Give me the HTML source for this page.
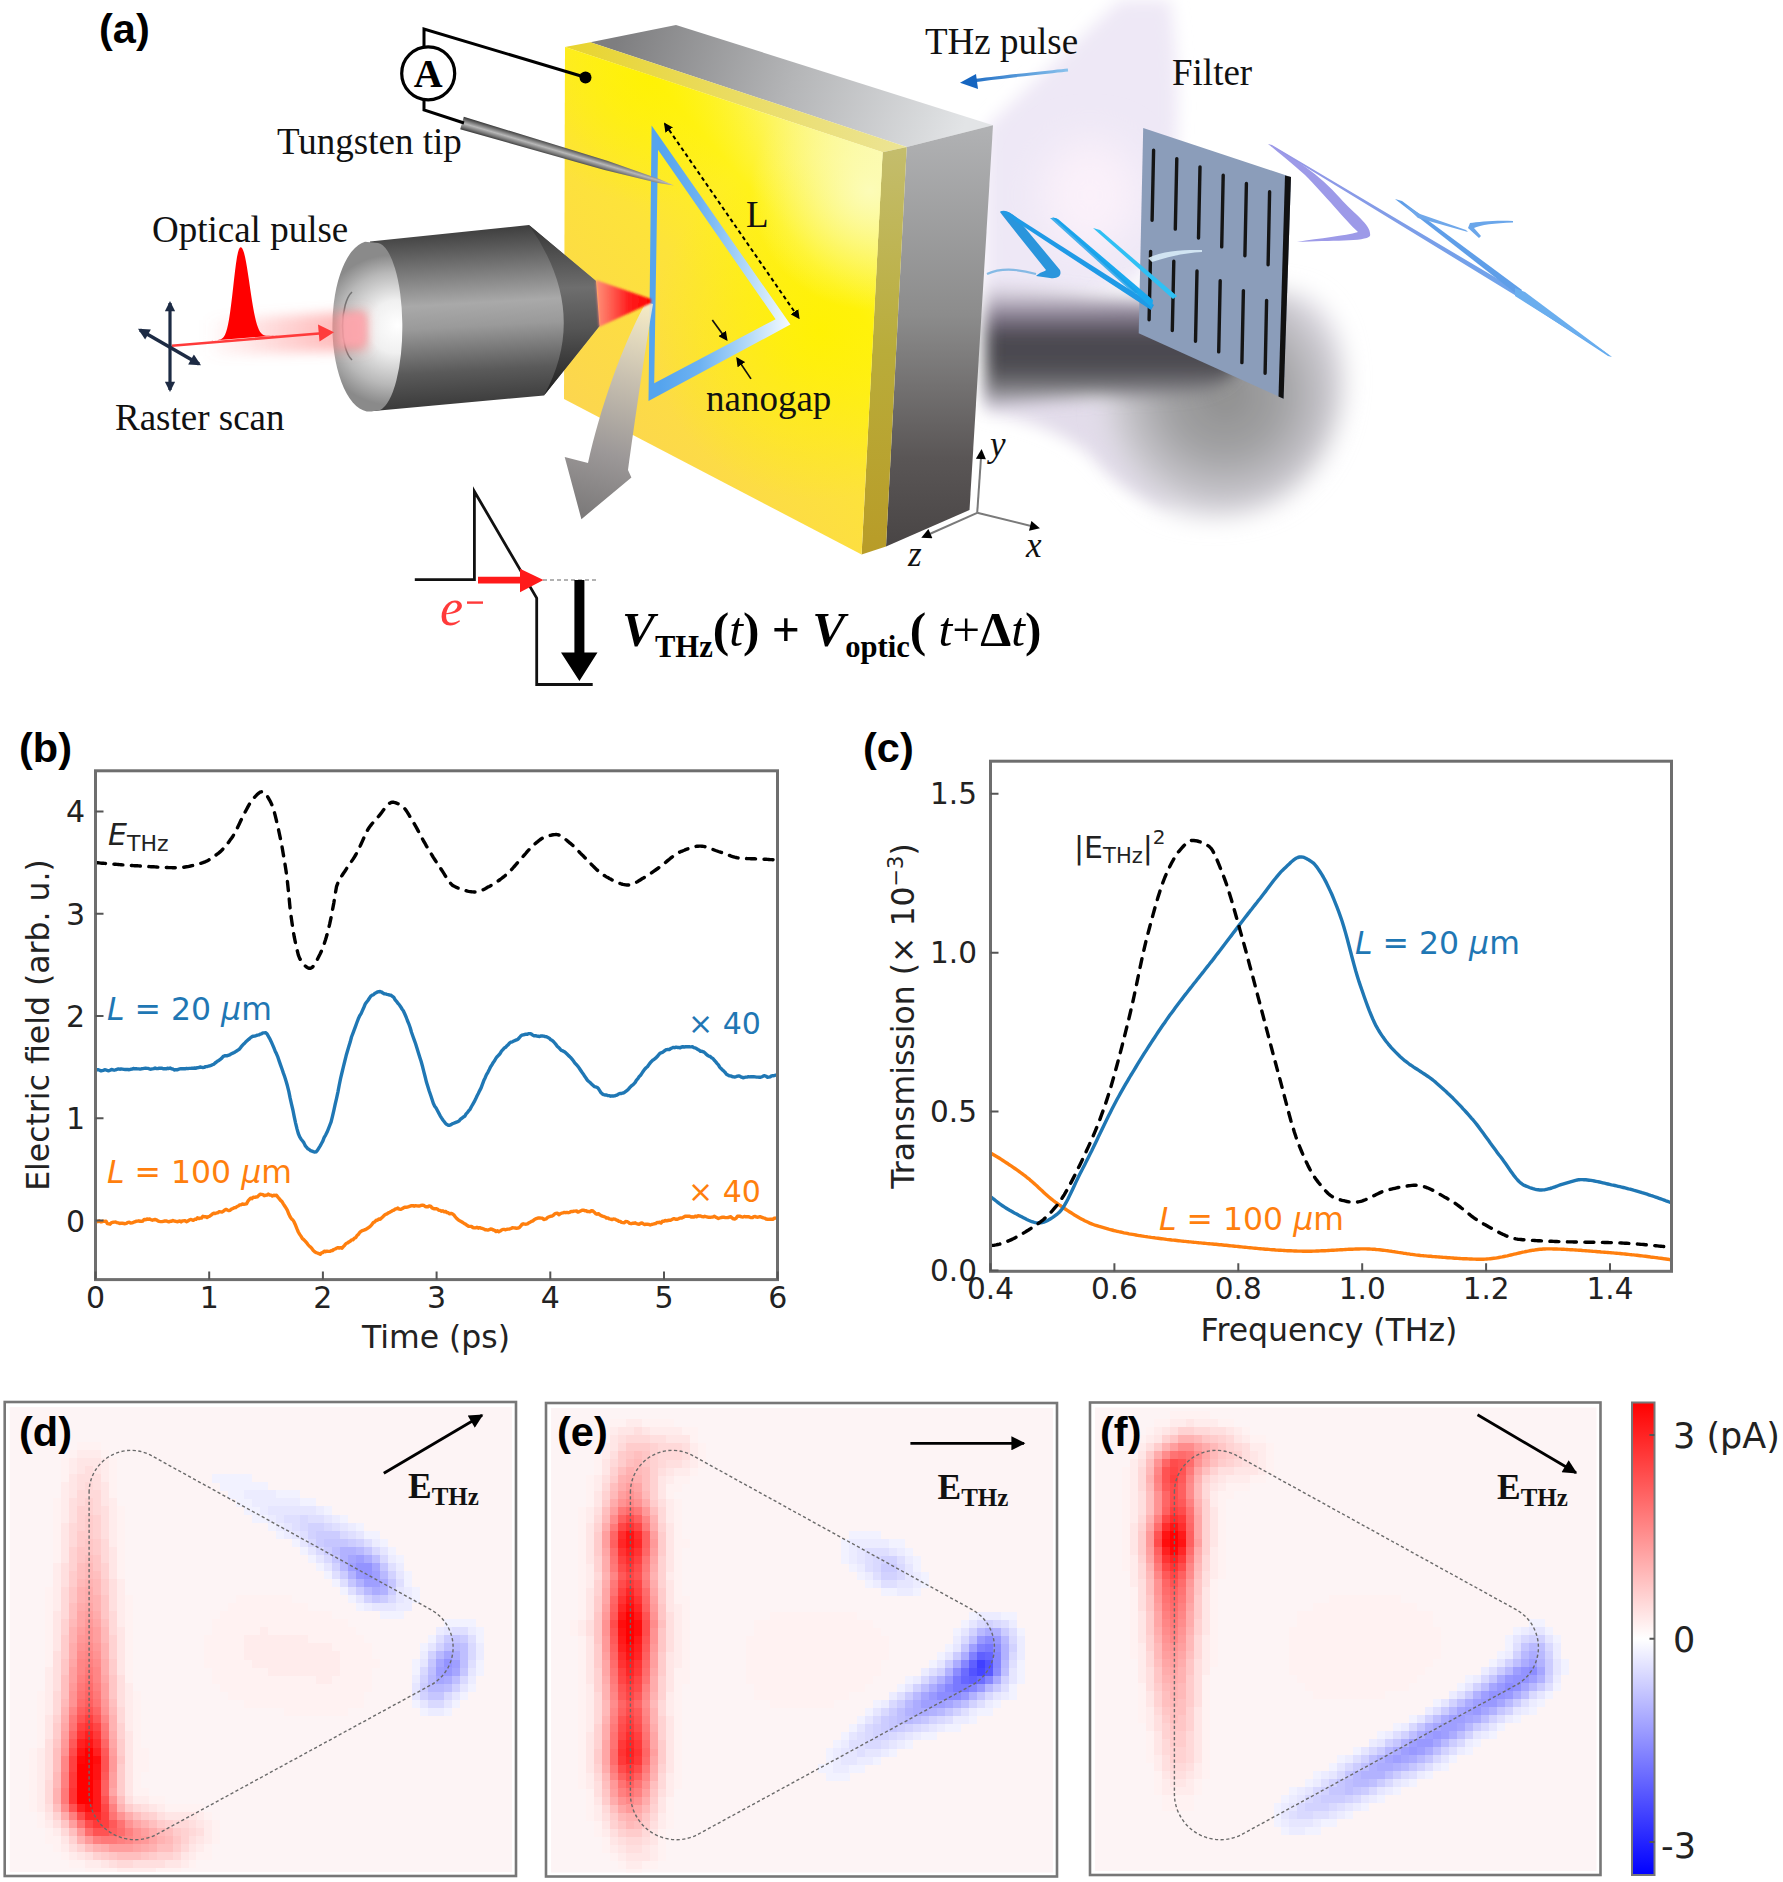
<!DOCTYPE html>
<html><head><meta charset="utf-8"><title>THz nanogap figure</title>
<style>html,body{margin:0;padding:0;background:#fff;} body{width:1783px;height:1882px;overflow:hidden;} svg{display:block;}</style>
</head><body>
<svg width="1783" height="1882" viewBox="0 0 1783 1882">
<rect width="1783" height="1882" fill="#fff"/>

<defs>
<filter id="blur3" x="-30%" y="-30%" width="160%" height="160%"><feGaussianBlur stdDeviation="3"/></filter>
<filter id="blur6" x="-30%" y="-30%" width="160%" height="160%"><feGaussianBlur stdDeviation="6"/></filter>
<filter id="blur8" x="-30%" y="-30%" width="160%" height="160%"><feGaussianBlur stdDeviation="8"/></filter>
<filter id="blur12" x="-50%" y="-50%" width="200%" height="200%"><feGaussianBlur stdDeviation="12"/></filter>
<filter id="blur20" x="-50%" y="-50%" width="200%" height="200%"><feGaussianBlur stdDeviation="20"/></filter>
<filter id="blur30" x="-60%" y="-60%" width="220%" height="220%"><feGaussianBlur stdDeviation="30"/></filter>
<filter id="blur1" x="-10%" y="-10%" width="120%" height="120%"><feGaussianBlur stdDeviation="1"/></filter>
<linearGradient id="gFront" gradientUnits="userSpaceOnUse" x1="570" y1="420" x2="880" y2="150">
  <stop offset="0" stop-color="#fcd550"/><stop offset="0.45" stop-color="#fde33a"/><stop offset="0.7" stop-color="#fff21c"/><stop offset="1" stop-color="#fbf8a0"/>
</linearGradient>
<radialGradient id="gFrontHi" gradientUnits="userSpaceOnUse" cx="820" cy="330" r="170">
  <stop offset="0" stop-color="#fff200" stop-opacity="0.9"/><stop offset="1" stop-color="#fff200" stop-opacity="0"/>
</radialGradient>
<radialGradient id="gFrontHi3" gradientUnits="userSpaceOnUse" cx="650" cy="75" r="130">
  <stop offset="0" stop-color="#fff200" stop-opacity="0.85"/><stop offset="1" stop-color="#fff200" stop-opacity="0"/>
</radialGradient>
<radialGradient id="gFrontHi2" gradientUnits="userSpaceOnUse" cx="870" cy="190" r="120">
  <stop offset="0" stop-color="#fcfcb8" stop-opacity="1"/><stop offset="1" stop-color="#fcfcb8" stop-opacity="0"/>
</radialGradient>
<linearGradient id="gTopY" gradientUnits="userSpaceOnUse" x1="570" y1="45" x2="900" y2="150">
  <stop offset="0" stop-color="#e8d430"/><stop offset="1" stop-color="#ece494"/>
</linearGradient>
<linearGradient id="gSideY" gradientUnits="userSpaceOnUse" x1="0" y1="150" x2="0" y2="550">
  <stop offset="0" stop-color="#c4bd6c"/><stop offset="0.5" stop-color="#b9ac3a"/><stop offset="1" stop-color="#b89c28"/>
</linearGradient>
<linearGradient id="gTopG" gradientUnits="userSpaceOnUse" x1="620" y1="30" x2="960" y2="140">
  <stop offset="0" stop-color="#7e7e80"/><stop offset="0.5" stop-color="#b4b5b7"/><stop offset="1" stop-color="#e2e4e6"/>
</linearGradient>
<linearGradient id="gSideG" gradientUnits="userSpaceOnUse" x1="0" y1="130" x2="0" y2="540">
  <stop offset="0" stop-color="#b0b1b3"/><stop offset="0.45" stop-color="#8c8c8c"/><stop offset="0.8" stop-color="#5a5656"/><stop offset="1" stop-color="#4a4646"/>
</linearGradient>
<linearGradient id="gBody" gradientUnits="userSpaceOnUse" x1="480" y1="228" x2="490" y2="405">
  <stop offset="0" stop-color="#3e3e3e"/><stop offset="0.12" stop-color="#5c5c5c"/><stop offset="0.42" stop-color="#a9a9a9"/><stop offset="0.55" stop-color="#9a9a9a"/><stop offset="0.8" stop-color="#5a5a5a"/><stop offset="1" stop-color="#3a3a3a"/>
</linearGradient>
<linearGradient id="gCone" gradientUnits="userSpaceOnUse" x1="570" y1="230" x2="575" y2="395">
  <stop offset="0" stop-color="#3a3a3a"/><stop offset="0.35" stop-color="#6e6e6e"/><stop offset="0.6" stop-color="#555"/><stop offset="1" stop-color="#1e1e1e"/>
</linearGradient>
<radialGradient id="gCap" gradientUnits="userSpaceOnUse" cx="392" cy="330" r="75" fx="398" fy="325">
  <stop offset="0" stop-color="#ffffff"/><stop offset="0.35" stop-color="#f0f0f0"/><stop offset="0.75" stop-color="#b8b8b8"/><stop offset="1" stop-color="#8a8a8a"/>
</radialGradient>
<linearGradient id="gRedCone" gradientUnits="userSpaceOnUse" x1="598" y1="0" x2="652" y2="0">
  <stop offset="0" stop-color="#ff7a7a" stop-opacity="0.85"/><stop offset="0.55" stop-color="#ff2020" stop-opacity="1"/><stop offset="1" stop-color="#ff0000" stop-opacity="1"/>
</linearGradient>
<linearGradient id="gPink" gradientUnits="userSpaceOnUse" x1="205" y1="0" x2="370" y2="0">
  <stop offset="0" stop-color="#ff8080" stop-opacity="0"/><stop offset="0.5" stop-color="#ff8080" stop-opacity="0.35"/><stop offset="1" stop-color="#ff7070" stop-opacity="0.6"/>
</linearGradient>
<linearGradient id="gGrayArrow" gradientUnits="userSpaceOnUse" x1="648" y1="305" x2="585" y2="515">
  <stop offset="0" stop-color="#f4ecd4" stop-opacity="0.9"/><stop offset="0.35" stop-color="#c8c0b0"/><stop offset="0.7" stop-color="#9c9898"/><stop offset="1" stop-color="#7c7a7a"/>
</linearGradient>
<linearGradient id="gTri" gradientUnits="userSpaceOnUse" x1="660" y1="0" x2="792" y2="0">
  <stop offset="0" stop-color="#55a4ee"/><stop offset="0.3" stop-color="#6db2f2"/><stop offset="0.65" stop-color="#b0d8f8"/><stop offset="1" stop-color="#f8fcff"/>
</linearGradient>
<linearGradient id="gNeedle" gradientUnits="userSpaceOnUse" x1="0" y1="-7" x2="0" y2="7">
  <stop offset="0" stop-color="#262626"/><stop offset="0.22" stop-color="#6a6a6a"/><stop offset="0.5" stop-color="#b8b8b8"/><stop offset="0.78" stop-color="#707070"/><stop offset="1" stop-color="#2a2a2a"/>
</linearGradient>
<linearGradient id="gSmoke" gradientUnits="userSpaceOnUse" x1="0" y1="286" x2="0" y2="406">
  <stop offset="0" stop-color="#c0b4cc" stop-opacity="0.4"/><stop offset="0.25" stop-color="#857c8e"/><stop offset="0.42" stop-color="#4a4750"/><stop offset="0.68" stop-color="#4d4c51"/><stop offset="0.85" stop-color="#7a797e"/><stop offset="1" stop-color="#b0aeb6" stop-opacity="0.6"/>
</linearGradient>
<linearGradient id="gLobe" gradientUnits="userSpaceOnUse" x1="0" y1="300" x2="0" y2="515">
  <stop offset="0" stop-color="#98969c"/><stop offset="0.35" stop-color="#a6a4a9"/><stop offset="0.65" stop-color="#bcbac0"/><stop offset="1" stop-color="#e4e0ea"/>
</linearGradient>
<radialGradient id="gSmokeR" gradientUnits="userSpaceOnUse" cx="1225" cy="395" r="130">
  <stop offset="0" stop-color="#8e8e8e"/><stop offset="0.45" stop-color="#a2a2a4"/><stop offset="0.8" stop-color="#c8c6cc"/><stop offset="1" stop-color="#e6e3ec"/>
</radialGradient>
<linearGradient id="gTHzArrow" gradientUnits="userSpaceOnUse" x1="1070" y1="0" x2="960" y2="0">
  <stop offset="0" stop-color="#8cc4ee"/><stop offset="1" stop-color="#1565c0"/>
</linearGradient>
<linearGradient id="gWaveR" gradientUnits="userSpaceOnUse" x1="1270" y1="0" x2="1610" y2="0">
  <stop offset="0" stop-color="#9a96e6"/><stop offset="0.45" stop-color="#7a9ee8"/><stop offset="1" stop-color="#62aaee"/>
</linearGradient>
<marker id="mk" viewBox="0 0 10 10" refX="8" refY="5" markerWidth="4.6" markerHeight="4.6" orient="auto-start-reverse"><path d="M0,0 L10,5 L0,10 z" fill="#000"/></marker>
<marker id="mkng" viewBox="0 0 10 10" refX="8" refY="5" markerWidth="5.5" markerHeight="5.5" orient="auto"><path d="M0,0 L10,5 L0,10 z" fill="#000"/></marker>
<marker id="mkax" viewBox="0 0 10 10" refX="7" refY="5" markerWidth="5.5" markerHeight="5" orient="auto"><path d="M0,0 L10,5 L0,10 z" fill="#000"/></marker>
<marker id="mkn" viewBox="0 0 10 10" refX="8" refY="5" markerWidth="3.4" markerHeight="3.2" orient="auto-start-reverse"><path d="M0,0 L10,5 L0,10 z" fill="#1d2b44"/></marker>
</defs>
<g id="smoke">
<path d="M985,128 L1055,62 L1120,0 L1170,0 C1180,60 1180,150 1170,210 C1160,260 1140,285 1100,292 L985,292 Z" fill="#eee8f6" filter="url(#blur8)"/>
<ellipse cx="1090" cy="195" rx="48" ry="55" fill="#fbf1fa" filter="url(#blur20)"/>
<path d="M985,380 C1030,385 1080,395 1120,400 C1150,430 1160,470 1175,505 C1140,500 1110,480 1090,455 C1060,430 1020,418 985,412 Z" fill="#e2dcea" filter="url(#blur8)"/>
<path d="M1110,300 C1180,285 1260,285 1300,295 C1330,305 1345,340 1344,385 C1342,430 1320,475 1280,500 C1245,520 1200,522 1165,508 C1135,490 1115,460 1105,420 Z" fill="url(#gSmokeR)" filter="url(#blur12)"/>
<path d="M985,286 C1040,288 1100,295 1150,306 C1200,318 1235,336 1238,358 C1240,380 1210,392 1170,394 C1120,396 1070,398 1030,402 C1010,404 995,406 985,406 Z" fill="url(#gSmoke)" filter="url(#blur8)"/>
</g>
<g id="filter">
<path d="M1143.2,128.0 L1291.0,177.0 L1283.6,398.7 L1138.7,333.2 Z" fill="#8b9dba"/>
<path d="M1285.0,175.5 L1291.0,177.0 L1283.6,398.7 L1278.5,396.5 Z" fill="#111"/>
<path d="M1153.6,150.3 L1152.1,220.2 M1150.6,251.4 L1149.1,319.8 M1176.8,158.6 L1175.3,229.1 M1173.8,261.2 L1172.3,330.5 M1200.0,166.9 L1198.5,238.0 M1197.0,271.0 L1195.5,341.2 M1223.2,175.2 L1221.7,246.9 M1220.2,280.8 L1218.7,351.9 M1246.4,183.5 L1244.9,255.8 M1243.4,290.6 L1241.9,362.6 M1269.6,191.8 L1268.1,264.7 M1266.6,300.4 L1265.1,373.3" stroke="#151515" stroke-width="3.4" stroke-linecap="round"/>
</g>
<g id="waveL">
<path d="M987,274 C1000,268 1015,268 1036,274" fill="none" stroke="#6aaee0" stroke-width="2.2" opacity="0.8"/>
<path d="M1000,212 C1004,209 1010,212 1016,217 L1060,270 C1062,276 1058,279 1050,278 L1036,276 C1040,272 1044,272 1046,270 L1022,240 L1003,216 Z" fill="#2a95dc"/>
<path d="M1000,211 L1008,212 L1154,305 L1151,310 L1060,250.5 Z" fill="#1f9ae6"/>
<path d="M1052,217 L1058,219 L1153,300 L1152,308 Z" fill="#1aa8ee"/>
<path d="M1050,218 L1056,218 L1138,292 L1134,294 Z" fill="#1aa0e8" opacity="0.8"/>
<path d="M1093,228 L1100,230 L1177,296 L1173,299 Z" fill="#30c0f4"/>
<path d="M1148,258 C1165,250 1185,250 1202,250 L1202,252 C1185,253 1170,256 1152,262 Z" fill="#d8ecf8" opacity="0.9"/>
</g>
<g id="waveR">
<path d="M1268,144 C1290,155 1320,175 1340,198 C1355,215 1372,225 1370,236 C1365,242 1330,240 1297,242 C1320,238 1345,236 1358,232 C1345,220 1325,195 1305,175 C1290,162 1278,152 1268,144 Z" fill="#9d9ae8"/>
<path d="M1268,144 L1272,145 L1520,292 L1612,357 L1608,356 L1518,297 Z" fill="url(#gWaveR)"/>
<path d="M1395,199 L1402,201 L1522,290 L1519,296 Z" fill="#5f9ee8"/>
<path d="M1405,205 L1420,214 L1466,230 L1468,232 L1418,218 Z" fill="#70a8ea"/>
<path d="M1470,223 C1478,222 1495,220 1513,221 L1513,222.5 C1495,223 1480,225 1474,228 L1481,236 L1479,238 L1468,228 Z" fill="#6aa6ea"/>
<path d="M1515,288 L1525,292 L1612,357 L1515,296 Z" fill="#6aaeee"/>
</g>
<g id="block">
<path d="M590.4,42.2 L676.0,25.0 L993.0,125.2 L906.7,147.1 Z" fill="url(#gTopG)"/>
<path d="M906.7,147.1 L993.0,125.2 L969.5,510.0 L886.0,546.5 Z" fill="url(#gSideG)"/>
<path d="M565.0,47.0 L590.4,42.2 L906.7,147.1 L882.6,152.2 Z" fill="url(#gTopY)"/>
<path d="M882.6,152.2 L906.7,147.1 L886.0,546.5 L861.6,554.5 Z" fill="url(#gSideY)"/>
<path d="M565.0,47.0 L882.6,152.2 L861.6,554.5 L564.0,399.0 Z" fill="url(#gFront)"/>
<path d="M565.0,47.0 L882.6,152.2 L861.6,554.5 L564.0,399.0 Z" fill="url(#gFrontHi)"/>
<path d="M565.0,47.0 L882.6,152.2 L861.6,554.5 L564.0,399.0 Z" fill="url(#gFrontHi3)"/>
<path d="M565.0,47.0 L882.6,152.2 L861.6,554.5 L564.0,399.0 Z" fill="url(#gFrontHi2)"/>
</g>
<path d="M651.6,125.5 L790.4,324.6 L648.5,401.1 Z M654.2,383.2 L775.6,319.2 L658.0,149.8 Z" fill="url(#gTri)" fill-rule="evenodd"/>
<line x1="665" y1="124" x2="798.6" y2="317.7" stroke="#000" stroke-width="2" stroke-dasharray="4,3.2" marker-start="url(#mk)" marker-end="url(#mk)"/>
<line x1="712.3" y1="320.1" x2="726.5" y2="339.5" stroke="#111" stroke-width="1.7" marker-end="url(#mkng)"/>
<line x1="751" y1="378.9" x2="737.3" y2="358.5" stroke="#111" stroke-width="1.7" marker-end="url(#mkng)"/>
<path d="M646,302 L653,304 C645,350 635,420 628,470 L631.4,477.4 L581.4,519.2 L564.7,457 L588,463 C600,410 620,350 646,302 Z" fill="url(#gGrayArrow)"/>
<g id="lens">
<path d="M370,241.5 L529,225 L596,281 L599.5,326 L544,395.5 L374,411 Z" fill="url(#gBody)"/>
<path d="M529,225 L596,281 L599.5,326 L544,395.5 Q590,312 529,225 Z" fill="url(#gCone)"/>
<path d="M378,243 A26,84 0 0,1 380,410 L374,411 A37,85 0 0,1 365,241.7 Z" fill="url(#gCap)"/>
<path d="M352,292 A14,36 0 0,0 352,360" fill="none" stroke="#555" stroke-width="1.6" opacity="0.7"/>
</g>
<path d="M596,280 L651,299 L651,303 L599,327 Z" fill="url(#gRedCone)" filter="url(#blur1)"/>
<g transform="translate(462,123) rotate(16.3)">
<path d="M0,-6.5 L150,-4.5 L205,-1.5 L221,0.5 L205,2.5 L150,5 L0,6.5 Z" fill="url(#gNeedle)"/>
</g>
<path d="M424,46 V29 L586,77.5 M424,101 V110 L464,123" fill="none" stroke="#000" stroke-width="3"/>
<circle cx="585.5" cy="77.5" r="6" fill="#000"/>
<circle cx="428.2" cy="73.4" r="26.5" fill="#fff" stroke="#000" stroke-width="3.2"/>
<text x="428.2" y="87" text-anchor="middle" font-family="'Liberation Serif', serif" font-weight="bold" font-size="40">A</text>
<path d="M205,320 L367,311 L367,350 L205,356 Z" fill="url(#gPink)" filter="url(#blur6)"/>
<path d="M340,314 L362,313 C367,313 367,345 362,345 L340,346 Z" fill="#ffa8b0" opacity="0.8" filter="url(#blur3)"/>
<path d="M210.0,340.8 L211.0,340.7 L212.0,340.6 L213.0,340.5 L214.0,340.5 L215.0,340.4 L216.0,340.3 L217.0,340.2 L218.0,340.0 L219.0,339.8 L220.0,339.6 L221.0,339.2 L222.0,338.6 L223.0,337.8 L224.0,336.5 L225.0,334.7 L226.0,332.3 L227.0,329.0 L228.0,324.7 L229.0,319.4 L230.0,313.0 L231.0,305.6 L232.0,297.4 L233.0,288.7 L234.0,279.8 L235.0,271.3 L236.0,263.6 L237.0,257.1 L238.0,252.2 L239.0,248.9 L240.0,247.4 L241.0,247.3 L242.0,248.1 L243.0,249.9 L244.0,252.8 L245.0,256.8 L246.0,261.8 L247.0,267.5 L248.0,273.9 L249.0,280.6 L250.0,287.4 L251.0,294.2 L252.0,300.7 L253.0,306.8 L254.0,312.2 L255.0,317.1 L256.0,321.3 L257.0,324.8 L258.0,327.6 L259.0,329.9 L260.0,331.7 L261.0,333.0 L262.0,334.0 L263.0,334.7 L264.0,335.2 L265.0,335.5 L266.0,335.7 L267.0,335.8 L268.0,335.8 L269.0,335.8 L270.0,335.8 L271.0,335.7 L272.0,335.6 L273.0,335.6 L274.0,335.5 L275.0,335.4 L276.0,335.3 L277.0,335.2 L278.0,335.2 L278.0,335.2 L210.0,340.8 Z" fill="#ff0000"/>
<line x1="171.8" y1="345.8" x2="322" y2="333.2" stroke="#ff3b3b" stroke-width="2.6"/>
<path d="M334,332.3 L318,324.5 L319.5,341.5 Z" fill="#ff3b3b"/>
<line x1="170" y1="303" x2="170" y2="390" stroke="#1d2b44" stroke-width="3.2" marker-start="url(#mkn)" marker-end="url(#mkn)"/>
<line x1="140" y1="330" x2="199" y2="364" stroke="#1d2b44" stroke-width="3.6" marker-start="url(#mkn)" marker-end="url(#mkn)"/>
<path d="M414.8,579.6 H474.4 V491.5 L536.7,598.1 V684.5 H592.7" fill="none" stroke="#111" stroke-width="2.8"/>
<line x1="543" y1="580" x2="597" y2="580" stroke="#999" stroke-width="1.6" stroke-dasharray="4,3"/>
<path d="M478,576.8 H524 V583.4 H478 Z M520,568.8 L543.5,580 L520,592.2 Z" fill="#ff1a1a"/>
<path d="M574.4,580 H584.4 V654 H574.4 Z M561,652.5 L597.5,652.5 L579.4,681 Z" fill="#000"/>
<text x="440" y="625" font-family="'Liberation Serif', serif" font-style="italic" font-size="52" fill="#ff3a3a">e</text>
<path d="M467,602.6 H483" stroke="#ff3a3a" stroke-width="2.4"/>
<text x="622" y="646" font-family="'Liberation Serif', serif" font-weight="bold" font-size="49.4" fill="#000"><tspan font-style="italic">V</tspan><tspan font-size="30.6" dy="11">THz</tspan><tspan dy="-11">(</tspan><tspan font-style="italic" font-weight="normal">t</tspan>) + <tspan font-style="italic">V</tspan><tspan font-size="30.6" dy="11">optic</tspan><tspan dy="-11">( </tspan><tspan font-style="italic" font-weight="normal">t</tspan><tspan font-weight="normal">+</tspan>Δ<tspan font-style="italic" font-weight="normal">t</tspan>)</text>
<g stroke="#7a7a7a" stroke-width="2" fill="none">
<line x1="977.2" y1="512.8" x2="981.4" y2="452" marker-end="url(#mkax)"/>
<line x1="977.2" y1="512.8" x2="1037" y2="527.5" marker-end="url(#mkax)"/>
<line x1="977.2" y1="512.8" x2="924" y2="536.5" marker-end="url(#mkax)"/>
</g>
<g font-family="'Liberation Serif', serif" font-style="italic" font-size="35" fill="#111">
<text x="990" y="456">y</text><text x="1026" y="557">x</text><text x="908" y="566">z</text>
</g>
<path d="M1068,70 C1040,73 1000,77 972,81" fill="none" stroke="url(#gTHzArrow)" stroke-width="3"/>
<path d="M960,82.7 L976,74 L978,89 Z" fill="#1565c0"/>
<g font-family="'Liberation Serif', serif" font-size="37" fill="#111">
<text x="277" y="154">Tungsten tip</text>
<text x="152" y="241.5">Optical pulse</text>
<text x="115" y="430">Raster scan</text>
<text x="706" y="411">nanogap</text>
<text x="746" y="226.7">L</text>
<text x="925" y="53.6">THz pulse</text>
<text x="1172" y="84.8">Filter</text>
</g>
<text x="99" y="42.5" font-family="'Liberation Sans', sans-serif" font-weight="bold" font-size="41.5">(a)</text>
<g id="pb">
<defs><clipPath id="cb"><rect x="95.5" y="770.8" width="682.0" height="508.79999999999995"/></clipPath><clipPath id="cc"><rect x="990.5" y="761.2" width="681" height="510"/></clipPath></defs>
<g clip-path="url(#cb)" fill="none" stroke-width="3.4" stroke-linejoin="round">
<path d="M96.5,1221.4 L97.9,1221.7 L99.2,1220.8 L100.6,1221.8 L102.0,1221.7 L103.3,1221.2 L104.7,1221.4 L106.0,1221.2 L107.4,1223.6 L108.8,1223.9 L110.1,1224.2 L111.5,1222.7 L112.9,1222.3 L114.2,1222.1 L115.6,1222.0 L117.0,1222.6 L118.3,1222.9 L119.7,1223.5 L121.0,1223.2 L122.4,1223.3 L123.8,1223.5 L125.1,1223.7 L126.5,1223.3 L127.9,1222.4 L129.2,1222.3 L130.6,1223.1 L132.0,1222.9 L133.3,1222.4 L134.7,1221.8 L136.0,1221.3 L137.4,1221.1 L138.8,1220.8 L140.1,1221.3 L141.5,1221.3 L142.9,1221.0 L144.2,1219.4 L145.6,1219.7 L147.0,1218.9 L148.3,1219.3 L149.7,1219.0 L151.0,1219.7 L152.4,1220.3 L153.8,1219.7 L155.1,1219.5 L156.5,1219.8 L157.9,1220.9 L159.2,1221.4 L160.6,1221.6 L162.0,1221.6 L163.3,1221.3 L164.7,1221.0 L166.1,1220.9 L167.4,1221.3 L168.8,1221.8 L170.1,1221.3 L171.5,1221.3 L172.9,1220.4 L174.2,1221.1 L175.6,1221.3 L177.0,1221.7 L178.3,1221.5 L179.7,1220.9 L181.1,1221.9 L182.4,1220.9 L183.8,1220.8 L185.1,1220.6 L186.5,1221.8 L187.9,1221.0 L189.2,1220.1 L190.6,1219.4 L192.0,1219.8 L193.3,1220.3 L194.7,1219.3 L196.1,1219.3 L197.4,1217.8 L198.8,1218.6 L200.1,1218.1 L201.5,1218.1 L202.9,1216.3 L204.2,1216.7 L205.6,1216.8 L207.0,1217.5 L208.3,1216.8 L209.7,1216.2 L211.1,1215.2 L212.4,1214.0 L213.8,1213.1 L215.1,1213.6 L216.5,1212.9 L217.9,1212.7 L219.2,1211.6 L220.6,1211.9 L222.0,1212.0 L223.3,1211.3 L224.7,1210.0 L226.1,1209.4 L227.4,1210.0 L228.8,1210.6 L230.1,1210.3 L231.5,1209.1 L232.9,1208.4 L234.2,1207.7 L235.6,1207.6 L237.0,1206.5 L238.3,1206.0 L239.7,1204.9 L241.1,1204.7 L242.4,1204.0 L243.8,1204.4 L245.1,1204.1 L246.5,1203.9 L247.9,1201.2 L249.2,1199.7 L250.6,1198.2 L252.0,1198.7 L253.3,1197.2 L254.7,1197.4 L256.1,1197.0 L257.4,1196.9 L258.8,1195.4 L260.1,1194.2 L261.5,1194.4 L262.9,1194.7 L264.2,1195.7 L265.6,1195.3 L267.0,1195.1 L268.3,1194.1 L269.7,1195.0 L271.1,1195.1 L272.4,1196.0 L273.8,1195.3 L275.1,1195.5 L276.5,1195.3 L277.9,1197.1 L279.2,1198.6 L280.6,1200.4 L282.0,1201.6 L283.3,1203.8 L284.7,1206.0 L286.1,1208.2 L287.4,1210.4 L288.8,1214.1 L290.1,1216.8 L291.5,1218.9 L292.9,1220.0 L294.2,1222.2 L295.6,1225.3 L297.0,1228.9 L298.3,1232.0 L299.7,1234.4 L301.1,1236.4 L302.4,1238.6 L303.8,1239.7 L305.2,1241.1 L306.5,1242.6 L307.9,1244.5 L309.2,1246.0 L310.6,1247.1 L312.0,1248.7 L313.3,1250.5 L314.7,1251.7 L316.1,1252.6 L317.4,1253.0 L318.8,1253.6 L320.2,1254.3 L321.5,1252.8 L322.9,1252.5 L324.2,1251.2 L325.6,1251.7 L327.0,1251.2 L328.3,1251.4 L329.7,1251.4 L331.1,1250.7 L332.4,1250.5 L333.8,1249.5 L335.2,1249.0 L336.5,1248.2 L337.9,1247.6 L339.2,1248.1 L340.6,1247.6 L342.0,1248.2 L343.3,1246.6 L344.7,1245.2 L346.1,1243.5 L347.4,1243.0 L348.8,1242.0 L350.2,1241.2 L351.5,1239.9 L352.9,1239.8 L354.2,1238.3 L355.6,1237.7 L357.0,1235.6 L358.3,1234.4 L359.7,1232.5 L361.1,1231.2 L362.4,1230.6 L363.8,1230.2 L365.2,1229.7 L366.5,1228.9 L367.9,1228.1 L369.2,1227.2 L370.6,1226.0 L372.0,1224.3 L373.3,1222.6 L374.7,1221.9 L376.1,1220.3 L377.4,1220.3 L378.8,1219.0 L380.2,1219.2 L381.5,1218.0 L382.9,1216.7 L384.2,1215.4 L385.6,1214.3 L387.0,1213.8 L388.3,1212.8 L389.7,1212.3 L391.1,1211.6 L392.4,1210.7 L393.8,1210.2 L395.2,1208.9 L396.5,1208.9 L397.9,1208.1 L399.2,1209.1 L400.6,1209.4 L402.0,1208.8 L403.3,1208.0 L404.7,1207.1 L406.1,1207.2 L407.4,1207.1 L408.8,1206.7 L410.2,1206.2 L411.5,1205.6 L412.9,1205.6 L414.2,1206.2 L415.6,1205.7 L417.0,1205.9 L418.3,1206.0 L419.7,1206.0 L421.1,1205.4 L422.4,1205.1 L423.8,1205.4 L425.2,1206.5 L426.5,1206.8 L427.9,1206.8 L429.2,1206.0 L430.6,1206.1 L432.0,1207.9 L433.3,1208.5 L434.7,1208.9 L436.1,1208.6 L437.4,1209.0 L438.8,1210.4 L440.2,1210.4 L441.5,1211.2 L442.9,1210.8 L444.3,1211.8 L445.6,1211.4 L447.0,1212.6 L448.3,1212.8 L449.7,1213.9 L451.1,1213.4 L452.4,1213.9 L453.8,1214.9 L455.2,1216.7 L456.5,1218.3 L457.9,1219.6 L459.3,1220.5 L460.6,1221.2 L462.0,1222.0 L463.3,1222.9 L464.7,1223.8 L466.1,1224.6 L467.4,1225.6 L468.8,1226.4 L470.2,1226.4 L471.5,1226.5 L472.9,1227.5 L474.3,1227.9 L475.6,1227.9 L477.0,1227.3 L478.3,1228.2 L479.7,1227.7 L481.1,1228.2 L482.4,1228.4 L483.8,1229.1 L485.2,1229.8 L486.5,1229.8 L487.9,1230.1 L489.3,1229.7 L490.6,1229.0 L492.0,1229.2 L493.3,1230.0 L494.7,1230.4 L496.1,1231.6 L497.4,1230.8 L498.8,1231.7 L500.2,1231.0 L501.5,1230.1 L502.9,1229.4 L504.3,1229.4 L505.6,1229.8 L507.0,1229.2 L508.3,1229.1 L509.7,1229.0 L511.1,1228.5 L512.4,1227.7 L513.8,1227.9 L515.2,1228.0 L516.5,1228.2 L517.9,1228.0 L519.3,1227.6 L520.6,1226.2 L522.0,1224.4 L523.3,1223.8 L524.7,1224.1 L526.1,1224.2 L527.4,1223.9 L528.8,1222.8 L530.2,1222.2 L531.5,1221.3 L532.9,1220.8 L534.3,1219.7 L535.6,1218.8 L537.0,1218.3 L538.3,1218.0 L539.7,1217.9 L541.1,1218.1 L542.4,1218.2 L543.8,1219.5 L545.2,1219.2 L546.5,1218.6 L547.9,1217.3 L549.3,1216.7 L550.6,1216.3 L552.0,1216.1 L553.3,1215.3 L554.7,1213.9 L556.1,1213.4 L557.4,1213.1 L558.8,1214.7 L560.2,1213.8 L561.5,1213.2 L562.9,1212.9 L564.3,1212.4 L565.6,1212.7 L567.0,1212.4 L568.3,1212.7 L569.7,1212.3 L571.1,1211.5 L572.4,1211.6 L573.8,1211.1 L575.2,1211.1 L576.5,1210.9 L577.9,1212.1 L579.3,1211.6 L580.6,1210.9 L582.0,1210.2 L583.4,1210.2 L584.7,1210.7 L586.1,1210.6 L587.4,1211.6 L588.8,1211.5 L590.2,1211.8 L591.5,1210.6 L592.9,1211.0 L594.3,1212.2 L595.6,1213.6 L597.0,1214.2 L598.4,1213.6 L599.7,1214.7 L601.1,1215.6 L602.4,1216.1 L603.8,1216.5 L605.2,1217.0 L606.5,1218.1 L607.9,1217.9 L609.3,1218.9 L610.6,1219.1 L612.0,1219.6 L613.4,1219.0 L614.7,1219.1 L616.1,1219.8 L617.4,1220.3 L618.8,1221.2 L620.2,1221.4 L621.5,1222.4 L622.9,1222.6 L624.3,1222.7 L625.6,1221.5 L627.0,1221.6 L628.4,1222.2 L629.7,1223.4 L631.1,1223.7 L632.4,1223.3 L633.8,1223.3 L635.2,1222.8 L636.5,1223.7 L637.9,1224.0 L639.3,1224.3 L640.6,1223.2 L642.0,1223.0 L643.4,1223.9 L644.7,1224.6 L646.1,1224.2 L647.4,1224.1 L648.8,1224.4 L650.2,1225.0 L651.5,1224.5 L652.9,1224.2 L654.3,1223.8 L655.6,1223.6 L657.0,1222.5 L658.4,1222.6 L659.7,1222.1 L661.1,1223.1 L662.4,1221.2 L663.8,1221.2 L665.2,1220.4 L666.5,1220.9 L667.9,1220.5 L669.3,1220.1 L670.6,1220.2 L672.0,1219.5 L673.4,1218.8 L674.7,1218.8 L676.1,1219.3 L677.4,1219.2 L678.8,1218.6 L680.2,1217.9 L681.5,1218.1 L682.9,1217.5 L684.3,1216.7 L685.6,1216.2 L687.0,1216.1 L688.4,1216.3 L689.7,1216.3 L691.1,1217.0 L692.4,1216.8 L693.8,1217.1 L695.2,1216.1 L696.5,1216.8 L697.9,1215.8 L699.3,1216.0 L700.6,1216.0 L702.0,1216.6 L703.4,1216.8 L704.7,1216.3 L706.1,1216.7 L707.4,1217.0 L708.8,1217.2 L710.2,1217.4 L711.5,1217.1 L712.9,1217.0 L714.3,1216.3 L715.6,1217.1 L717.0,1217.7 L718.4,1218.5 L719.7,1218.0 L721.1,1217.5 L722.5,1217.3 L723.8,1217.2 L725.2,1217.6 L726.5,1217.6 L727.9,1217.5 L729.3,1217.1 L730.6,1216.7 L732.0,1217.8 L733.4,1218.9 L734.7,1219.0 L736.1,1218.2 L737.5,1216.1 L738.8,1216.3 L740.2,1216.3 L741.5,1216.8 L742.9,1217.1 L744.3,1216.4 L745.6,1216.8 L747.0,1216.6 L748.4,1216.7 L749.7,1217.2 L751.1,1217.6 L752.5,1217.6 L753.8,1216.6 L755.2,1216.5 L756.5,1217.1 L757.9,1217.2 L759.3,1216.8 L760.6,1216.8 L762.0,1217.3 L763.4,1217.8 L764.7,1218.1 L766.1,1219.0 L767.5,1219.2 L768.8,1219.4 L770.2,1219.1 L771.5,1219.2 L772.9,1219.2 L774.3,1218.3 L775.6,1218.1 L777.0,1217.8" stroke="#ff7f0e"/>
<path d="M96.5,1069.8 L97.9,1069.6 L99.2,1070.0 L100.6,1070.7 L102.0,1070.7 L103.3,1070.4 L104.7,1069.8 L106.0,1069.9 L107.4,1070.6 L108.8,1070.8 L110.1,1070.2 L111.5,1069.4 L112.9,1069.8 L114.2,1070.2 L115.6,1069.9 L117.0,1069.3 L118.3,1068.9 L119.7,1069.2 L121.0,1069.0 L122.4,1069.1 L123.8,1069.4 L125.1,1069.5 L126.5,1069.5 L127.9,1069.5 L129.2,1069.7 L130.6,1069.3 L132.0,1069.1 L133.3,1068.5 L134.7,1068.9 L136.0,1068.6 L137.4,1068.9 L138.8,1068.9 L140.1,1069.1 L141.5,1068.8 L142.9,1068.6 L144.2,1068.4 L145.6,1068.2 L147.0,1068.4 L148.3,1068.4 L149.7,1069.1 L151.0,1069.2 L152.4,1068.9 L153.8,1068.6 L155.1,1068.0 L156.5,1068.6 L157.9,1068.5 L159.2,1068.3 L160.6,1068.2 L162.0,1068.1 L163.3,1068.9 L164.7,1068.6 L166.1,1068.9 L167.4,1068.3 L168.8,1068.5 L170.1,1068.0 L171.5,1068.8 L172.9,1069.0 L174.2,1070.0 L175.6,1069.7 L177.0,1069.8 L178.3,1069.3 L179.7,1068.9 L181.1,1068.6 L182.4,1068.7 L183.8,1068.8 L185.1,1068.8 L186.5,1068.4 L187.9,1068.6 L189.2,1068.4 L190.6,1068.4 L192.0,1068.2 L193.3,1068.3 L194.7,1068.0 L196.1,1068.2 L197.4,1067.7 L198.8,1067.6 L200.1,1066.9 L201.5,1067.4 L202.9,1067.5 L204.2,1067.4 L205.6,1066.6 L207.0,1066.5 L208.3,1066.2 L209.7,1065.8 L211.1,1065.4 L212.4,1064.8 L213.8,1064.2 L215.1,1063.0 L216.5,1062.0 L217.9,1060.9 L219.2,1060.2 L220.6,1059.1 L222.0,1057.9 L223.3,1056.3 L224.7,1055.8 L226.1,1055.6 L227.4,1055.7 L228.8,1055.2 L230.1,1054.6 L231.5,1053.8 L232.9,1053.1 L234.2,1052.5 L235.6,1051.6 L237.0,1050.7 L238.3,1049.9 L239.7,1048.8 L241.1,1046.9 L242.4,1045.4 L243.8,1043.9 L245.1,1042.7 L246.5,1041.2 L247.9,1039.9 L249.2,1039.0 L250.6,1037.6 L252.0,1036.7 L253.3,1036.2 L254.7,1036.1 L256.1,1035.7 L257.4,1035.2 L258.8,1034.9 L260.1,1034.2 L261.5,1033.8 L262.9,1032.9 L264.2,1032.9 L265.6,1032.7 L267.0,1033.8 L268.3,1036.1 L269.7,1038.6 L271.1,1041.4 L272.4,1044.4 L273.8,1047.7 L275.1,1050.9 L276.5,1053.8 L277.9,1057.2 L279.2,1061.1 L280.6,1065.1 L282.0,1069.0 L283.3,1072.9 L284.7,1076.8 L286.1,1081.2 L287.4,1085.8 L288.8,1091.4 L290.1,1097.9 L291.5,1104.1 L292.9,1110.0 L294.2,1116.6 L295.6,1123.1 L297.0,1128.9 L298.3,1133.5 L299.7,1136.9 L301.1,1139.2 L302.4,1140.8 L303.8,1142.6 L305.2,1145.6 L306.5,1147.2 L307.9,1148.8 L309.2,1149.5 L310.6,1150.6 L312.0,1151.1 L313.3,1151.6 L314.7,1152.0 L316.1,1151.9 L317.4,1150.4 L318.8,1148.1 L320.2,1145.9 L321.5,1143.5 L322.9,1140.9 L324.2,1137.4 L325.6,1135.1 L327.0,1132.3 L328.3,1129.1 L329.7,1125.5 L331.1,1121.8 L332.4,1116.6 L333.8,1110.7 L335.2,1104.2 L336.5,1098.6 L337.9,1092.1 L339.2,1085.3 L340.6,1078.4 L342.0,1072.5 L343.3,1067.2 L344.7,1061.5 L346.1,1055.8 L347.4,1051.2 L348.8,1046.5 L350.2,1042.1 L351.5,1037.0 L352.9,1033.3 L354.2,1029.8 L355.6,1026.1 L357.0,1022.2 L358.3,1018.8 L359.7,1015.7 L361.1,1013.6 L362.4,1010.6 L363.8,1007.5 L365.2,1004.1 L366.5,1002.3 L367.9,1000.5 L369.2,998.5 L370.6,996.4 L372.0,995.2 L373.3,994.9 L374.7,993.5 L376.1,992.8 L377.4,992.0 L378.8,991.7 L380.2,991.5 L381.5,992.0 L382.9,993.0 L384.2,993.8 L385.6,993.9 L387.0,994.3 L388.3,994.6 L389.7,995.1 L391.1,995.3 L392.4,996.3 L393.8,997.4 L395.2,999.8 L396.5,1001.3 L397.9,1003.3 L399.2,1004.6 L400.6,1006.7 L402.0,1009.0 L403.3,1010.7 L404.7,1013.8 L406.1,1017.0 L407.4,1020.5 L408.8,1023.8 L410.2,1027.7 L411.5,1032.3 L412.9,1036.3 L414.2,1039.8 L415.6,1043.7 L417.0,1048.2 L418.3,1052.5 L419.7,1056.9 L421.1,1061.2 L422.4,1066.0 L423.8,1071.6 L425.2,1077.0 L426.5,1082.3 L427.9,1086.8 L429.2,1091.0 L430.6,1095.0 L432.0,1099.3 L433.3,1103.3 L434.7,1106.2 L436.1,1108.0 L437.4,1110.5 L438.8,1113.1 L440.2,1115.8 L441.5,1117.9 L442.9,1120.0 L444.3,1121.8 L445.6,1123.5 L447.0,1124.6 L448.3,1125.3 L449.7,1125.2 L451.1,1124.6 L452.4,1123.8 L453.8,1123.2 L455.2,1122.6 L456.5,1122.1 L457.9,1121.6 L459.3,1120.7 L460.6,1119.2 L462.0,1118.1 L463.3,1117.1 L464.7,1116.3 L466.1,1113.9 L467.4,1112.6 L468.8,1110.7 L470.2,1109.1 L471.5,1106.5 L472.9,1104.1 L474.3,1101.7 L475.6,1099.1 L477.0,1096.0 L478.3,1093.5 L479.7,1090.6 L481.1,1087.9 L482.4,1084.4 L483.8,1080.6 L485.2,1077.7 L486.5,1074.6 L487.9,1072.3 L489.3,1069.5 L490.6,1066.7 L492.0,1064.7 L493.3,1062.4 L494.7,1060.5 L496.1,1058.0 L497.4,1056.4 L498.8,1055.1 L500.2,1053.4 L501.5,1051.2 L502.9,1049.7 L504.3,1048.0 L505.6,1047.3 L507.0,1045.7 L508.3,1044.6 L509.7,1042.9 L511.1,1042.1 L512.4,1041.8 L513.8,1041.1 L515.2,1040.4 L516.5,1039.9 L517.9,1039.2 L519.3,1037.8 L520.6,1036.2 L522.0,1035.2 L523.3,1034.8 L524.7,1034.5 L526.1,1034.2 L527.4,1034.3 L528.8,1033.6 L530.2,1033.6 L531.5,1034.1 L532.9,1035.3 L534.3,1035.9 L535.6,1035.7 L537.0,1036.1 L538.3,1036.3 L539.7,1036.5 L541.1,1035.9 L542.4,1036.0 L543.8,1036.1 L545.2,1036.6 L546.5,1036.8 L547.9,1037.5 L549.3,1038.2 L550.6,1039.6 L552.0,1040.2 L553.3,1041.4 L554.7,1043.0 L556.1,1044.7 L557.4,1046.5 L558.8,1047.6 L560.2,1049.2 L561.5,1050.4 L562.9,1050.9 L564.3,1051.7 L565.6,1052.7 L567.0,1054.0 L568.3,1055.4 L569.7,1056.6 L571.1,1058.0 L572.4,1059.6 L573.8,1061.5 L575.2,1063.4 L576.5,1064.7 L577.9,1066.3 L579.3,1068.2 L580.6,1070.2 L582.0,1072.3 L583.4,1074.2 L584.7,1076.3 L586.1,1078.2 L587.4,1080.2 L588.8,1081.5 L590.2,1082.6 L591.5,1084.0 L592.9,1085.3 L594.3,1086.6 L595.6,1086.9 L597.0,1087.3 L598.4,1088.6 L599.7,1090.6 L601.1,1092.8 L602.4,1093.9 L603.8,1094.7 L605.2,1095.0 L606.5,1095.0 L607.9,1095.6 L609.3,1095.6 L610.6,1096.2 L612.0,1095.9 L613.4,1096.0 L614.7,1095.9 L616.1,1095.3 L617.4,1094.8 L618.8,1093.8 L620.2,1093.5 L621.5,1093.5 L622.9,1093.0 L624.3,1092.6 L625.6,1091.4 L627.0,1090.6 L628.4,1089.3 L629.7,1087.6 L631.1,1086.2 L632.4,1085.2 L633.8,1084.0 L635.2,1082.4 L636.5,1080.1 L637.9,1078.6 L639.3,1076.4 L640.6,1075.2 L642.0,1073.1 L643.4,1071.0 L644.7,1069.2 L646.1,1067.8 L647.4,1066.7 L648.8,1064.7 L650.2,1062.9 L651.5,1061.4 L652.9,1060.1 L654.3,1059.2 L655.6,1058.2 L657.0,1056.8 L658.4,1055.1 L659.7,1053.6 L661.1,1052.8 L662.4,1052.4 L663.8,1051.4 L665.2,1050.2 L666.5,1049.6 L667.9,1049.5 L669.3,1049.6 L670.6,1048.6 L672.0,1048.0 L673.4,1047.4 L674.7,1047.7 L676.1,1047.1 L677.4,1047.5 L678.8,1047.4 L680.2,1047.9 L681.5,1047.0 L682.9,1046.8 L684.3,1047.0 L685.6,1046.8 L687.0,1046.8 L688.4,1046.6 L689.7,1046.8 L691.1,1046.9 L692.4,1046.7 L693.8,1047.6 L695.2,1047.9 L696.5,1048.6 L697.9,1049.5 L699.3,1050.3 L700.6,1051.4 L702.0,1051.3 L703.4,1051.8 L704.7,1052.6 L706.1,1054.1 L707.4,1055.2 L708.8,1056.1 L710.2,1056.5 L711.5,1057.7 L712.9,1058.4 L714.3,1060.3 L715.6,1061.6 L717.0,1063.3 L718.4,1064.8 L719.7,1067.1 L721.1,1068.6 L722.5,1069.9 L723.8,1071.1 L725.2,1072.5 L726.5,1074.4 L727.9,1075.0 L729.3,1075.9 L730.6,1075.9 L732.0,1076.5 L733.4,1076.9 L734.7,1077.0 L736.1,1076.7 L737.5,1076.2 L738.8,1075.9 L740.2,1076.4 L741.5,1077.2 L742.9,1077.7 L744.3,1077.5 L745.6,1077.1 L747.0,1077.1 L748.4,1076.7 L749.7,1076.9 L751.1,1076.6 L752.5,1076.8 L753.8,1076.8 L755.2,1076.9 L756.5,1077.1 L757.9,1077.1 L759.3,1077.2 L760.6,1077.3 L762.0,1076.7 L763.4,1076.0 L764.7,1075.7 L766.1,1076.3 L767.5,1077.2 L768.8,1077.1 L770.2,1076.9 L771.5,1075.9 L772.9,1075.7 L774.3,1075.5 L775.6,1075.2 L777.0,1074.8" stroke="#1f77b4"/>
<path d="M96.5,862.7 L97.9,862.8 L99.2,862.9 L100.6,863.1 L102.0,863.2 L103.3,863.3 L104.7,863.4 L106.0,863.5 L107.4,863.7 L108.8,863.8 L110.1,863.9 L111.5,864.0 L112.9,864.1 L114.2,864.2 L115.6,864.3 L117.0,864.4 L118.3,864.5 L119.7,864.6 L121.0,864.7 L122.4,864.9 L123.8,864.9 L125.1,865.0 L126.5,865.1 L127.9,865.2 L129.2,865.3 L130.6,865.4 L132.0,865.5 L133.3,865.6 L134.7,865.7 L136.0,865.8 L137.4,865.8 L138.8,865.9 L140.1,866.0 L141.5,866.1 L142.9,866.2 L144.2,866.3 L145.6,866.3 L147.0,866.4 L148.3,866.5 L149.7,866.6 L151.0,866.7 L152.4,866.8 L153.8,866.8 L155.1,866.9 L156.5,867.0 L157.9,867.1 L159.2,867.2 L160.6,867.2 L162.0,867.3 L163.3,867.4 L164.7,867.4 L166.1,867.5 L167.4,867.5 L168.8,867.6 L170.1,867.6 L171.5,867.6 L172.9,867.7 L174.2,867.7 L175.6,867.7 L177.0,867.7 L178.3,867.7 L179.7,867.6 L181.1,867.5 L182.4,867.4 L183.8,867.2 L185.1,867.0 L186.5,866.8 L187.9,866.6 L189.2,866.3 L190.6,866.0 L192.0,865.7 L193.3,865.4 L194.7,865.0 L196.1,864.7 L197.4,864.3 L198.8,863.9 L200.1,863.5 L201.5,863.1 L202.9,862.7 L204.2,862.2 L205.6,861.6 L207.0,860.9 L208.3,860.2 L209.7,859.4 L211.1,858.6 L212.4,857.7 L213.8,856.7 L215.1,855.7 L216.5,854.7 L217.9,853.7 L219.2,852.6 L220.6,851.4 L222.0,850.1 L223.3,848.6 L224.7,847.1 L226.1,845.5 L227.4,843.8 L228.8,842.0 L230.1,840.1 L231.5,838.2 L232.9,836.2 L234.2,834.0 L235.6,831.5 L237.0,828.8 L238.3,825.9 L239.7,823.0 L241.1,820.1 L242.4,817.2 L243.8,814.6 L245.1,812.1 L246.5,809.5 L247.9,806.9 L249.2,804.5 L250.6,802.2 L252.0,800.2 L253.3,798.6 L254.7,797.1 L256.1,795.6 L257.4,794.3 L258.8,793.1 L260.1,792.2 L261.5,791.8 L262.9,791.8 L264.2,792.5 L265.6,793.8 L267.0,795.6 L268.3,797.8 L269.7,800.3 L271.1,803.1 L272.4,806.0 L273.8,810.0 L275.1,815.1 L276.5,820.9 L277.9,826.8 L279.2,832.9 L280.6,839.5 L282.0,846.6 L283.3,854.2 L284.7,862.3 L286.1,871.2 L287.4,881.4 L288.8,894.7 L290.1,908.7 L291.5,919.4 L292.9,928.8 L294.2,936.7 L295.6,943.4 L297.0,949.6 L298.3,954.8 L299.7,958.5 L301.1,960.7 L302.4,962.6 L303.8,964.4 L305.2,965.9 L306.5,967.0 L307.9,967.9 L309.2,968.3 L310.6,968.3 L312.0,967.6 L313.3,966.2 L314.7,964.3 L316.1,962.0 L317.4,959.4 L318.8,956.6 L320.2,953.8 L321.5,950.9 L322.9,947.6 L324.2,943.8 L325.6,939.5 L327.0,934.8 L328.3,929.7 L329.7,923.9 L331.1,917.4 L332.4,910.4 L333.8,903.1 L335.2,894.2 L336.5,886.7 L337.9,882.9 L339.2,879.9 L340.6,877.5 L342.0,875.5 L343.3,873.5 L344.7,871.5 L346.1,869.3 L347.4,867.2 L348.8,865.2 L350.2,863.3 L351.5,861.4 L352.9,859.4 L354.2,857.3 L355.6,855.0 L357.0,852.6 L358.3,849.9 L359.7,847.0 L361.1,844.0 L362.4,841.1 L363.8,837.9 L365.2,834.8 L366.5,831.9 L367.9,829.5 L369.2,827.5 L370.6,825.6 L372.0,823.8 L373.3,822.2 L374.7,820.6 L376.1,819.1 L377.4,817.6 L378.8,816.1 L380.2,814.4 L381.5,812.7 L382.9,810.8 L384.2,809.0 L385.6,807.3 L387.0,805.7 L388.3,804.3 L389.7,803.2 L391.1,802.5 L392.4,802.2 L393.8,802.3 L395.2,802.6 L396.5,803.1 L397.9,803.7 L399.2,804.4 L400.6,805.3 L402.0,806.2 L403.3,807.2 L404.7,808.6 L406.1,810.4 L407.4,812.4 L408.8,814.7 L410.2,817.0 L411.5,819.2 L412.9,821.4 L414.2,823.7 L415.6,826.1 L417.0,828.6 L418.3,831.1 L419.7,833.7 L421.1,836.2 L422.4,838.8 L423.8,841.3 L425.2,843.7 L426.5,846.1 L427.9,848.4 L429.2,850.7 L430.6,852.9 L432.0,855.1 L433.3,857.4 L434.7,859.5 L436.1,861.7 L437.4,863.8 L438.8,865.8 L440.2,867.8 L441.5,869.8 L442.9,871.9 L444.3,874.1 L445.6,876.3 L447.0,878.4 L448.3,880.4 L449.7,882.3 L451.1,883.9 L452.4,885.2 L453.8,886.1 L455.2,886.8 L456.5,887.4 L457.9,888.0 L459.3,888.5 L460.6,889.0 L462.0,889.5 L463.3,890.0 L464.7,890.4 L466.1,890.7 L467.4,891.1 L468.8,891.4 L470.2,891.6 L471.5,891.8 L472.9,891.9 L474.3,892.0 L475.6,892.0 L477.0,891.9 L478.3,891.6 L479.7,891.2 L481.1,890.7 L482.4,890.1 L483.8,889.4 L485.2,888.7 L486.5,887.9 L487.9,887.1 L489.3,886.4 L490.6,885.7 L492.0,884.9 L493.3,884.1 L494.7,883.3 L496.1,882.4 L497.4,881.5 L498.8,880.5 L500.2,879.5 L501.5,878.5 L502.9,877.4 L504.3,876.3 L505.6,875.2 L507.0,874.0 L508.3,872.8 L509.7,871.5 L511.1,870.0 L512.4,868.6 L513.8,867.0 L515.2,865.5 L516.5,863.9 L517.9,862.3 L519.3,860.8 L520.6,859.3 L522.0,857.8 L523.3,856.2 L524.7,854.6 L526.1,853.0 L527.4,851.4 L528.8,849.9 L530.2,848.4 L531.5,847.0 L532.9,845.7 L534.3,844.5 L535.6,843.3 L537.0,842.2 L538.3,841.1 L539.7,840.0 L541.1,839.0 L542.4,838.2 L543.8,837.5 L545.2,836.9 L546.5,836.5 L547.9,836.1 L549.3,835.6 L550.6,835.3 L552.0,835.0 L553.3,834.7 L554.7,834.6 L556.1,834.5 L557.4,834.6 L558.8,835.0 L560.2,835.6 L561.5,836.3 L562.9,837.3 L564.3,838.3 L565.6,839.4 L567.0,840.5 L568.3,841.7 L569.7,842.8 L571.1,843.9 L572.4,845.1 L573.8,846.3 L575.2,847.7 L576.5,849.1 L577.9,850.6 L579.3,852.0 L580.6,853.4 L582.0,854.8 L583.4,856.1 L584.7,857.5 L586.1,858.8 L587.4,860.2 L588.8,861.6 L590.2,863.1 L591.5,864.5 L592.9,865.9 L594.3,867.3 L595.6,868.6 L597.0,869.9 L598.4,871.1 L599.7,872.3 L601.1,873.4 L602.4,874.4 L603.8,875.3 L605.2,876.1 L606.5,876.9 L607.9,877.6 L609.3,878.4 L610.6,879.1 L612.0,879.9 L613.4,880.6 L614.7,881.2 L616.1,881.9 L617.4,882.5 L618.8,883.1 L620.2,883.5 L621.5,884.0 L622.9,884.4 L624.3,884.6 L625.6,884.9 L627.0,885.0 L628.4,885.0 L629.7,884.9 L631.1,884.6 L632.4,884.1 L633.8,883.6 L635.2,882.9 L636.5,882.2 L637.9,881.4 L639.3,880.5 L640.6,879.7 L642.0,878.8 L643.4,878.0 L644.7,877.2 L646.1,876.4 L647.4,875.6 L648.8,874.7 L650.2,873.8 L651.5,872.9 L652.9,871.9 L654.3,870.9 L655.6,870.0 L657.0,869.0 L658.4,868.0 L659.7,867.0 L661.1,866.0 L662.4,865.0 L663.8,863.9 L665.2,862.7 L666.5,861.6 L667.9,860.4 L669.3,859.3 L670.6,858.2 L672.0,857.1 L673.4,856.0 L674.7,855.0 L676.1,854.1 L677.4,853.3 L678.8,852.5 L680.2,851.9 L681.5,851.3 L682.9,850.8 L684.3,850.2 L685.6,849.6 L687.0,849.1 L688.4,848.6 L689.7,848.1 L691.1,847.6 L692.4,847.2 L693.8,846.9 L695.2,846.6 L696.5,846.3 L697.9,846.2 L699.3,846.1 L700.6,846.1 L702.0,846.2 L703.4,846.4 L704.7,846.7 L706.1,847.0 L707.4,847.4 L708.8,847.9 L710.2,848.4 L711.5,848.9 L712.9,849.4 L714.3,850.0 L715.6,850.5 L717.0,851.0 L718.4,851.5 L719.7,851.9 L721.1,852.3 L722.5,852.8 L723.8,853.3 L725.2,853.8 L726.5,854.3 L727.9,854.9 L729.3,855.4 L730.6,855.9 L732.0,856.4 L733.4,856.8 L734.7,857.2 L736.1,857.5 L737.5,857.8 L738.8,858.1 L740.2,858.2 L741.5,858.3 L742.9,858.4 L744.3,858.4 L745.6,858.5 L747.0,858.6 L748.4,858.6 L749.7,858.6 L751.1,858.7 L752.5,858.7 L753.8,858.8 L755.2,858.8 L756.5,858.9 L757.9,858.9 L759.3,859.0 L760.6,859.0 L762.0,859.1 L763.4,859.2 L764.7,859.2 L766.1,859.3 L767.5,859.4 L768.8,859.5 L770.2,859.6 L771.5,859.6 L772.9,859.7 L774.3,859.8 L775.6,859.9 L777.0,860.0" stroke="#000" stroke-dasharray="9,8.5" stroke-linecap="round"/>
</g>
<rect x="95.5" y="770.8" width="682.0" height="508.79999999999995" fill="none" stroke="#6e6e6e" stroke-width="3"/>
<path d="M95.5,1279.6 v-8 M209.2,1279.6 v-8 M322.9,1279.6 v-8 M436.6,1279.6 v-8 M550.3,1279.6 v-8 M664.0,1279.6 v-8 M777.7,1279.6 v-8 M95.5,1220.6 h8 M95.5,1118.3 h8 M95.5,1016.0 h8 M95.5,913.7 h8 M95.5,811.4 h8" stroke="#555" stroke-width="2"/>
<g font-family="'DejaVu Sans', sans-serif" font-size="30" fill="#222">
<text x="95.5" y="1308" text-anchor="middle">0</text>
<text x="209.2" y="1308" text-anchor="middle">1</text>
<text x="322.9" y="1308" text-anchor="middle">2</text>
<text x="436.6" y="1308" text-anchor="middle">3</text>
<text x="550.3" y="1308" text-anchor="middle">4</text>
<text x="664.0" y="1308" text-anchor="middle">5</text>
<text x="777.7" y="1308" text-anchor="middle">6</text>
<text x="85" y="1231.6" text-anchor="end">0</text>
<text x="85" y="1129.3" text-anchor="end">1</text>
<text x="85" y="1027.0" text-anchor="end">2</text>
<text x="85" y="924.7" text-anchor="end">3</text>
<text x="85" y="822.4" text-anchor="end">4</text>
<text x="436" y="1348" text-anchor="middle" font-size="31.5">Time (ps)</text>
<text transform="translate(48.5,1025) rotate(-90)" text-anchor="middle" font-size="31.5">Electric field (arb. u.)</text>
</g>
<g font-family="'DejaVu Sans', sans-serif" font-size="30">
<text x="108" y="845" fill="#222"><tspan font-style="italic">E</tspan><tspan font-size="22" dy="6">THz</tspan></text>
<text x="107" y="1020" fill="#1f77b4" font-size="31.5"><tspan font-style="italic">L</tspan> = 20 <tspan font-style="italic">μ</tspan>m</text>
<text x="688" y="1034" fill="#1f77b4">× 40</text>
<text x="107" y="1183" fill="#ff7f0e" font-size="31.5"><tspan font-style="italic">L</tspan> = 100 <tspan font-style="italic">μ</tspan>m</text>
<text x="688" y="1202" fill="#ff7f0e">× 40</text>
</g>
</g>
<g id="pc">
<g clip-path="url(#cc)" fill="none" stroke-width="3.4" stroke-linejoin="round">
<path d="M991.0,1153.2 L992.7,1154.2 L994.4,1155.2 L996.1,1156.2 L997.8,1157.2 L999.5,1158.3 L1001.2,1159.4 L1002.9,1160.5 L1004.6,1161.6 L1006.3,1162.7 L1008.0,1163.8 L1009.7,1165.0 L1011.5,1166.1 L1013.2,1167.3 L1014.9,1168.5 L1016.6,1169.7 L1018.3,1170.9 L1020.0,1172.2 L1021.7,1173.4 L1023.4,1174.7 L1025.1,1175.9 L1026.8,1177.3 L1028.5,1178.6 L1030.2,1180.1 L1031.9,1181.5 L1033.6,1183.0 L1035.3,1184.6 L1037.0,1186.1 L1038.7,1187.7 L1040.4,1189.3 L1042.1,1190.8 L1043.8,1192.4 L1045.5,1194.0 L1047.2,1195.5 L1048.9,1197.0 L1050.6,1198.4 L1052.4,1199.8 L1054.1,1201.2 L1055.8,1202.5 L1057.5,1203.7 L1059.2,1204.9 L1060.9,1206.0 L1062.6,1207.2 L1064.3,1208.3 L1066.0,1209.5 L1067.7,1210.6 L1069.4,1211.7 L1071.1,1212.8 L1072.8,1213.9 L1074.5,1215.0 L1076.2,1216.0 L1077.9,1217.0 L1079.6,1218.0 L1081.3,1218.9 L1083.0,1219.8 L1084.7,1220.7 L1086.4,1221.5 L1088.1,1222.3 L1089.8,1223.1 L1091.6,1223.8 L1093.3,1224.5 L1095.0,1225.1 L1096.7,1225.6 L1098.4,1226.2 L1100.1,1226.7 L1101.8,1227.2 L1103.5,1227.7 L1105.2,1228.2 L1106.9,1228.7 L1108.6,1229.2 L1110.3,1229.6 L1112.0,1230.0 L1113.7,1230.5 L1115.4,1230.9 L1117.1,1231.3 L1118.8,1231.7 L1120.5,1232.0 L1122.2,1232.4 L1123.9,1232.8 L1125.6,1233.1 L1127.3,1233.4 L1129.0,1233.8 L1130.7,1234.1 L1132.5,1234.4 L1134.2,1234.7 L1135.9,1235.0 L1137.6,1235.3 L1139.3,1235.6 L1141.0,1235.8 L1142.7,1236.1 L1144.4,1236.4 L1146.1,1236.6 L1147.8,1236.9 L1149.5,1237.1 L1151.2,1237.4 L1152.9,1237.6 L1154.6,1237.8 L1156.3,1238.1 L1158.0,1238.3 L1159.7,1238.5 L1161.4,1238.7 L1163.1,1238.9 L1164.8,1239.1 L1166.5,1239.4 L1168.2,1239.6 L1169.9,1239.8 L1171.7,1240.0 L1173.4,1240.1 L1175.1,1240.3 L1176.8,1240.5 L1178.5,1240.7 L1180.2,1240.9 L1181.9,1241.1 L1183.6,1241.3 L1185.3,1241.4 L1187.0,1241.6 L1188.7,1241.8 L1190.4,1241.9 L1192.1,1242.1 L1193.8,1242.3 L1195.5,1242.4 L1197.2,1242.6 L1198.9,1242.8 L1200.6,1242.9 L1202.3,1243.1 L1204.0,1243.2 L1205.7,1243.4 L1207.4,1243.6 L1209.1,1243.7 L1210.8,1243.9 L1212.6,1244.0 L1214.3,1244.2 L1216.0,1244.3 L1217.7,1244.5 L1219.4,1244.7 L1221.1,1244.8 L1222.8,1245.0 L1224.5,1245.2 L1226.2,1245.3 L1227.9,1245.5 L1229.6,1245.7 L1231.3,1245.9 L1233.0,1246.0 L1234.7,1246.2 L1236.4,1246.4 L1238.1,1246.5 L1239.8,1246.7 L1241.5,1246.9 L1243.2,1247.1 L1244.9,1247.2 L1246.6,1247.4 L1248.3,1247.6 L1250.0,1247.7 L1251.8,1247.9 L1253.5,1248.1 L1255.2,1248.2 L1256.9,1248.4 L1258.6,1248.6 L1260.3,1248.7 L1262.0,1248.9 L1263.7,1249.0 L1265.4,1249.2 L1267.1,1249.3 L1268.8,1249.4 L1270.5,1249.6 L1272.2,1249.7 L1273.9,1249.8 L1275.6,1250.0 L1277.3,1250.1 L1279.0,1250.2 L1280.7,1250.3 L1282.4,1250.4 L1284.1,1250.5 L1285.8,1250.6 L1287.5,1250.7 L1289.2,1250.8 L1290.9,1250.8 L1292.7,1250.9 L1294.4,1251.0 L1296.1,1251.0 L1297.8,1251.1 L1299.5,1251.1 L1301.2,1251.1 L1302.9,1251.2 L1304.6,1251.2 L1306.3,1251.2 L1308.0,1251.2 L1309.7,1251.2 L1311.4,1251.2 L1313.1,1251.1 L1314.8,1251.1 L1316.5,1251.0 L1318.2,1251.0 L1319.9,1250.9 L1321.6,1250.8 L1323.3,1250.8 L1325.0,1250.7 L1326.7,1250.6 L1328.4,1250.5 L1330.1,1250.4 L1331.9,1250.3 L1333.6,1250.2 L1335.3,1250.1 L1337.0,1250.0 L1338.7,1249.9 L1340.4,1249.8 L1342.1,1249.7 L1343.8,1249.6 L1345.5,1249.5 L1347.2,1249.4 L1348.9,1249.3 L1350.6,1249.2 L1352.3,1249.2 L1354.0,1249.1 L1355.7,1249.0 L1357.4,1249.0 L1359.1,1249.0 L1360.8,1248.9 L1362.5,1248.9 L1364.2,1248.9 L1365.9,1248.9 L1367.6,1249.0 L1369.3,1249.0 L1371.1,1249.1 L1372.8,1249.2 L1374.5,1249.3 L1376.2,1249.5 L1377.9,1249.6 L1379.6,1249.8 L1381.3,1250.0 L1383.0,1250.2 L1384.7,1250.4 L1386.4,1250.6 L1388.1,1250.8 L1389.8,1251.1 L1391.5,1251.3 L1393.2,1251.6 L1394.9,1251.8 L1396.6,1252.1 L1398.3,1252.4 L1400.0,1252.6 L1401.7,1252.9 L1403.4,1253.2 L1405.1,1253.4 L1406.8,1253.7 L1408.5,1253.9 L1410.2,1254.2 L1412.0,1254.4 L1413.7,1254.6 L1415.4,1254.9 L1417.1,1255.1 L1418.8,1255.3 L1420.5,1255.5 L1422.2,1255.6 L1423.9,1255.8 L1425.6,1255.9 L1427.3,1256.1 L1429.0,1256.2 L1430.7,1256.3 L1432.4,1256.5 L1434.1,1256.6 L1435.8,1256.7 L1437.5,1256.9 L1439.2,1257.0 L1440.9,1257.1 L1442.6,1257.3 L1444.3,1257.4 L1446.0,1257.5 L1447.7,1257.7 L1449.4,1257.8 L1451.2,1257.9 L1452.9,1258.0 L1454.6,1258.2 L1456.3,1258.3 L1458.0,1258.4 L1459.7,1258.5 L1461.4,1258.6 L1463.1,1258.7 L1464.8,1258.8 L1466.5,1258.8 L1468.2,1258.9 L1469.9,1259.0 L1471.6,1259.0 L1473.3,1259.1 L1475.0,1259.1 L1476.7,1259.2 L1478.4,1259.2 L1480.1,1259.2 L1481.8,1259.2 L1483.5,1259.2 L1485.2,1259.1 L1486.9,1259.0 L1488.6,1258.9 L1490.3,1258.7 L1492.1,1258.5 L1493.8,1258.3 L1495.5,1258.1 L1497.2,1257.8 L1498.9,1257.5 L1500.6,1257.2 L1502.3,1256.9 L1504.0,1256.5 L1505.7,1256.1 L1507.4,1255.8 L1509.1,1255.4 L1510.8,1255.0 L1512.5,1254.6 L1514.2,1254.2 L1515.9,1253.8 L1517.6,1253.4 L1519.3,1253.0 L1521.0,1252.6 L1522.7,1252.2 L1524.4,1251.9 L1526.1,1251.5 L1527.8,1251.2 L1529.5,1250.8 L1531.3,1250.5 L1533.0,1250.2 L1534.7,1250.0 L1536.4,1249.7 L1538.1,1249.5 L1539.8,1249.3 L1541.5,1249.2 L1543.2,1249.0 L1544.9,1249.0 L1546.6,1248.9 L1548.3,1248.9 L1550.0,1248.9 L1551.7,1248.9 L1553.4,1249.0 L1555.1,1249.0 L1556.8,1249.0 L1558.5,1249.1 L1560.2,1249.1 L1561.9,1249.2 L1563.6,1249.3 L1565.3,1249.4 L1567.0,1249.5 L1568.7,1249.6 L1570.4,1249.7 L1572.2,1249.8 L1573.9,1249.9 L1575.6,1250.0 L1577.3,1250.1 L1579.0,1250.2 L1580.7,1250.3 L1582.4,1250.5 L1584.1,1250.6 L1585.8,1250.7 L1587.5,1250.9 L1589.2,1251.0 L1590.9,1251.1 L1592.6,1251.3 L1594.3,1251.4 L1596.0,1251.5 L1597.7,1251.7 L1599.4,1251.8 L1601.1,1252.0 L1602.8,1252.1 L1604.5,1252.2 L1606.2,1252.4 L1607.9,1252.5 L1609.6,1252.6 L1611.4,1252.8 L1613.1,1252.9 L1614.8,1253.1 L1616.5,1253.2 L1618.2,1253.4 L1619.9,1253.5 L1621.6,1253.7 L1623.3,1253.9 L1625.0,1254.0 L1626.7,1254.2 L1628.4,1254.4 L1630.1,1254.6 L1631.8,1254.8 L1633.5,1254.9 L1635.2,1255.1 L1636.9,1255.3 L1638.6,1255.5 L1640.3,1255.7 L1642.0,1255.9 L1643.7,1256.1 L1645.4,1256.3 L1647.1,1256.5 L1648.8,1256.7 L1650.5,1257.0 L1652.3,1257.2 L1654.0,1257.4 L1655.7,1257.6 L1657.4,1257.8 L1659.1,1258.1 L1660.8,1258.3 L1662.5,1258.5 L1664.2,1258.8 L1665.9,1259.0 L1667.6,1259.2 L1669.3,1259.5 L1671.0,1259.7" stroke="#ff7f0e"/>
<path d="M991.0,1197.0 L992.7,1198.4 L994.4,1199.7 L996.1,1201.0 L997.8,1202.3 L999.5,1203.6 L1001.2,1204.8 L1002.9,1206.0 L1004.6,1207.1 L1006.3,1208.2 L1008.0,1209.3 L1009.7,1210.3 L1011.5,1211.3 L1013.2,1212.3 L1014.9,1213.2 L1016.6,1214.0 L1018.3,1215.0 L1020.0,1215.9 L1021.7,1216.8 L1023.4,1217.7 L1025.1,1218.6 L1026.8,1219.5 L1028.5,1220.3 L1030.2,1221.0 L1031.9,1221.7 L1033.6,1222.2 L1035.3,1222.6 L1037.0,1222.9 L1038.7,1223.0 L1040.4,1222.9 L1042.1,1222.6 L1043.8,1222.2 L1045.5,1221.5 L1047.2,1220.7 L1048.9,1219.8 L1050.6,1218.7 L1052.4,1217.6 L1054.1,1216.4 L1055.8,1215.1 L1057.5,1213.8 L1059.2,1212.4 L1060.9,1210.5 L1062.6,1208.2 L1064.3,1205.6 L1066.0,1202.7 L1067.7,1199.5 L1069.4,1196.1 L1071.1,1192.6 L1072.8,1189.0 L1074.5,1185.3 L1076.2,1181.6 L1077.9,1178.1 L1079.6,1174.6 L1081.3,1171.2 L1083.0,1168.0 L1084.7,1164.7 L1086.4,1161.3 L1088.1,1157.9 L1089.8,1154.5 L1091.6,1151.0 L1093.3,1147.5 L1095.0,1143.9 L1096.7,1140.4 L1098.4,1136.8 L1100.1,1133.3 L1101.8,1129.7 L1103.5,1126.2 L1105.2,1122.7 L1106.9,1119.2 L1108.6,1115.8 L1110.3,1112.4 L1112.0,1109.0 L1113.7,1105.7 L1115.4,1102.5 L1117.1,1099.3 L1118.8,1096.2 L1120.5,1093.2 L1122.2,1090.2 L1123.9,1087.2 L1125.6,1084.2 L1127.3,1081.3 L1129.0,1078.4 L1130.7,1075.5 L1132.5,1072.6 L1134.2,1069.8 L1135.9,1067.0 L1137.6,1064.2 L1139.3,1061.4 L1141.0,1058.7 L1142.7,1055.9 L1144.4,1053.2 L1146.1,1050.6 L1147.8,1047.9 L1149.5,1045.3 L1151.2,1042.6 L1152.9,1040.0 L1154.6,1037.5 L1156.3,1034.9 L1158.0,1032.3 L1159.7,1029.8 L1161.4,1027.3 L1163.1,1024.8 L1164.8,1022.4 L1166.5,1019.9 L1168.2,1017.5 L1169.9,1015.1 L1171.7,1012.7 L1173.4,1010.4 L1175.1,1008.1 L1176.8,1005.8 L1178.5,1003.5 L1180.2,1001.3 L1181.9,999.1 L1183.6,996.8 L1185.3,994.6 L1187.0,992.5 L1188.7,990.3 L1190.4,988.1 L1192.1,986.0 L1193.8,983.8 L1195.5,981.7 L1197.2,979.5 L1198.9,977.4 L1200.6,975.2 L1202.3,973.1 L1204.0,971.0 L1205.7,968.8 L1207.4,966.6 L1209.1,964.5 L1210.8,962.3 L1212.6,960.1 L1214.3,957.9 L1216.0,955.6 L1217.7,953.4 L1219.4,951.2 L1221.1,949.0 L1222.8,946.7 L1224.5,944.5 L1226.2,942.3 L1227.9,940.0 L1229.6,937.8 L1231.3,935.6 L1233.0,933.3 L1234.7,931.1 L1236.4,928.9 L1238.1,926.6 L1239.8,924.4 L1241.5,922.2 L1243.2,920.0 L1244.9,917.8 L1246.6,915.6 L1248.3,913.4 L1250.0,911.2 L1251.8,909.0 L1253.5,906.8 L1255.2,904.6 L1256.9,902.5 L1258.6,900.3 L1260.3,898.2 L1262.0,896.0 L1263.7,893.8 L1265.4,891.6 L1267.1,889.3 L1268.8,887.0 L1270.5,884.8 L1272.2,882.5 L1273.9,880.3 L1275.6,878.2 L1277.3,876.1 L1279.0,874.1 L1280.7,872.2 L1282.4,870.4 L1284.1,868.8 L1285.8,867.2 L1287.5,865.6 L1289.2,864.0 L1290.9,862.3 L1292.7,860.8 L1294.4,859.4 L1296.1,858.3 L1297.8,857.5 L1299.5,857.0 L1301.2,856.9 L1302.9,857.2 L1304.6,857.7 L1306.3,858.5 L1308.0,859.4 L1309.7,860.5 L1311.4,861.6 L1313.1,862.8 L1314.8,864.5 L1316.5,866.6 L1318.2,869.0 L1319.9,871.5 L1321.6,874.2 L1323.3,877.0 L1325.0,880.1 L1326.7,883.4 L1328.4,886.9 L1330.1,890.6 L1331.9,894.5 L1333.6,898.6 L1335.3,902.8 L1337.0,907.2 L1338.7,911.7 L1340.4,916.4 L1342.1,921.3 L1343.8,926.7 L1345.5,932.6 L1347.2,938.8 L1348.9,945.3 L1350.6,951.8 L1352.3,958.3 L1354.0,964.6 L1355.7,970.8 L1357.4,976.5 L1359.1,981.9 L1360.8,986.9 L1362.5,991.8 L1364.2,996.7 L1365.9,1001.5 L1367.6,1006.2 L1369.3,1010.7 L1371.1,1015.0 L1372.8,1019.0 L1374.5,1022.7 L1376.2,1026.2 L1377.9,1029.2 L1379.6,1032.0 L1381.3,1034.6 L1383.0,1037.1 L1384.7,1039.4 L1386.4,1041.7 L1388.1,1043.8 L1389.8,1045.8 L1391.5,1047.8 L1393.2,1049.6 L1394.9,1051.4 L1396.6,1053.1 L1398.3,1054.8 L1400.0,1056.4 L1401.7,1057.9 L1403.4,1059.4 L1405.1,1060.9 L1406.8,1062.2 L1408.5,1063.5 L1410.2,1064.8 L1412.0,1065.9 L1413.7,1067.1 L1415.4,1068.2 L1417.1,1069.3 L1418.8,1070.4 L1420.5,1071.5 L1422.2,1072.6 L1423.9,1073.7 L1425.6,1074.8 L1427.3,1076.0 L1429.0,1077.2 L1430.7,1078.4 L1432.4,1079.7 L1434.1,1081.0 L1435.8,1082.4 L1437.5,1083.9 L1439.2,1085.4 L1440.9,1086.9 L1442.6,1088.4 L1444.3,1090.0 L1446.0,1091.5 L1447.7,1093.2 L1449.4,1094.8 L1451.2,1096.5 L1452.9,1098.1 L1454.6,1099.9 L1456.3,1101.6 L1458.0,1103.4 L1459.7,1105.1 L1461.4,1106.9 L1463.1,1108.8 L1464.8,1110.6 L1466.5,1112.5 L1468.2,1114.4 L1469.9,1116.3 L1471.6,1118.3 L1473.3,1120.2 L1475.0,1122.3 L1476.7,1124.4 L1478.4,1126.6 L1480.1,1128.9 L1481.8,1131.2 L1483.5,1133.5 L1485.2,1135.9 L1486.9,1138.2 L1488.6,1140.6 L1490.3,1143.0 L1492.1,1145.4 L1493.8,1147.8 L1495.5,1150.1 L1497.2,1152.4 L1498.9,1154.7 L1500.6,1156.8 L1502.3,1159.1 L1504.0,1161.4 L1505.7,1163.8 L1507.4,1166.3 L1509.1,1168.7 L1510.8,1171.2 L1512.5,1173.6 L1514.2,1175.9 L1515.9,1178.0 L1517.6,1180.0 L1519.3,1181.7 L1521.0,1183.2 L1522.7,1184.5 L1524.4,1185.4 L1526.1,1186.1 L1527.8,1186.8 L1529.5,1187.5 L1531.3,1188.1 L1533.0,1188.7 L1534.7,1189.2 L1536.4,1189.6 L1538.1,1189.8 L1539.8,1190.0 L1541.5,1190.0 L1543.2,1189.9 L1544.9,1189.7 L1546.6,1189.3 L1548.3,1188.9 L1550.0,1188.5 L1551.7,1188.0 L1553.4,1187.4 L1555.1,1186.8 L1556.8,1186.2 L1558.5,1185.5 L1560.2,1184.9 L1561.9,1184.3 L1563.6,1183.8 L1565.3,1183.3 L1567.0,1182.8 L1568.7,1182.3 L1570.4,1181.8 L1572.2,1181.3 L1573.9,1180.8 L1575.6,1180.3 L1577.3,1180.0 L1579.0,1179.7 L1580.7,1179.6 L1582.4,1179.6 L1584.1,1179.7 L1585.8,1179.8 L1587.5,1180.0 L1589.2,1180.2 L1590.9,1180.4 L1592.6,1180.7 L1594.3,1181.0 L1596.0,1181.3 L1597.7,1181.6 L1599.4,1182.0 L1601.1,1182.4 L1602.8,1182.8 L1604.5,1183.2 L1606.2,1183.6 L1607.9,1184.0 L1609.6,1184.4 L1611.4,1184.8 L1613.1,1185.1 L1614.8,1185.5 L1616.5,1185.9 L1618.2,1186.3 L1619.9,1186.7 L1621.6,1187.1 L1623.3,1187.5 L1625.0,1187.9 L1626.7,1188.3 L1628.4,1188.8 L1630.1,1189.2 L1631.8,1189.7 L1633.5,1190.2 L1635.2,1190.6 L1636.9,1191.1 L1638.6,1191.6 L1640.3,1192.1 L1642.0,1192.7 L1643.7,1193.2 L1645.4,1193.7 L1647.1,1194.2 L1648.8,1194.8 L1650.5,1195.4 L1652.3,1195.9 L1654.0,1196.5 L1655.7,1197.1 L1657.4,1197.7 L1659.1,1198.3 L1660.8,1198.9 L1662.5,1199.5 L1664.2,1200.1 L1665.9,1200.8 L1667.6,1201.4 L1669.3,1202.0 L1671.0,1202.7" stroke="#1f77b4"/>
<path d="M991.0,1245.6 L992.7,1245.4 L994.4,1245.2 L996.1,1244.9 L997.8,1244.5 L999.5,1244.1 L1001.2,1243.6 L1002.9,1243.0 L1004.6,1242.4 L1006.3,1241.8 L1008.0,1241.1 L1009.7,1240.4 L1011.5,1239.6 L1013.2,1238.8 L1014.9,1237.9 L1016.6,1237.0 L1018.3,1236.1 L1020.0,1235.1 L1021.7,1234.1 L1023.4,1233.1 L1025.1,1232.1 L1026.8,1231.0 L1028.5,1230.0 L1030.2,1228.9 L1031.9,1227.7 L1033.6,1226.6 L1035.3,1225.5 L1037.0,1224.3 L1038.7,1223.2 L1040.4,1222.0 L1042.1,1220.7 L1043.8,1219.3 L1045.5,1217.7 L1047.2,1216.1 L1048.9,1214.4 L1050.6,1212.6 L1052.4,1210.7 L1054.1,1208.7 L1055.8,1206.7 L1057.5,1204.6 L1059.2,1202.3 L1060.9,1199.9 L1062.6,1197.3 L1064.3,1194.6 L1066.0,1191.7 L1067.7,1188.7 L1069.4,1185.6 L1071.1,1182.4 L1072.8,1179.1 L1074.5,1175.7 L1076.2,1172.3 L1077.9,1168.8 L1079.6,1165.4 L1081.3,1161.9 L1083.0,1158.3 L1084.7,1154.7 L1086.4,1151.1 L1088.1,1147.4 L1089.8,1143.6 L1091.6,1139.7 L1093.3,1135.7 L1095.0,1131.7 L1096.7,1127.5 L1098.4,1123.2 L1100.1,1118.8 L1101.8,1114.2 L1103.5,1109.5 L1105.2,1104.7 L1106.9,1099.6 L1108.6,1094.3 L1110.3,1088.8 L1112.0,1083.0 L1113.7,1077.1 L1115.4,1071.0 L1117.1,1064.8 L1118.8,1058.4 L1120.5,1051.9 L1122.2,1045.3 L1123.9,1038.6 L1125.6,1031.9 L1127.3,1025.0 L1129.0,1018.2 L1130.7,1011.0 L1132.5,1003.4 L1134.2,995.5 L1135.9,987.4 L1137.6,979.3 L1139.3,971.1 L1141.0,963.1 L1142.7,955.3 L1144.4,947.8 L1146.1,940.7 L1147.8,934.1 L1149.5,927.7 L1151.2,921.3 L1152.9,915.1 L1154.6,909.0 L1156.3,903.0 L1158.0,897.3 L1159.7,891.9 L1161.4,886.7 L1163.1,881.9 L1164.8,877.5 L1166.5,873.5 L1168.2,869.8 L1169.9,866.2 L1171.7,862.8 L1173.4,859.7 L1175.1,856.8 L1176.8,854.1 L1178.5,851.8 L1180.2,849.8 L1181.9,847.9 L1183.6,846.0 L1185.3,844.3 L1187.0,842.7 L1188.7,841.5 L1190.4,840.7 L1192.1,840.4 L1193.8,840.5 L1195.5,840.7 L1197.2,841.0 L1198.9,841.5 L1200.6,842.1 L1202.3,842.8 L1204.0,843.5 L1205.7,844.4 L1207.4,845.3 L1209.1,846.4 L1210.8,848.1 L1212.6,850.6 L1214.3,853.8 L1216.0,857.4 L1217.7,861.5 L1219.4,865.7 L1221.1,870.0 L1222.8,874.2 L1224.5,878.6 L1226.2,883.4 L1227.9,888.5 L1229.6,893.9 L1231.3,899.5 L1233.0,905.3 L1234.7,911.2 L1236.4,917.2 L1238.1,923.3 L1239.8,929.4 L1241.5,935.3 L1243.2,941.3 L1244.9,947.5 L1246.6,953.7 L1248.3,960.1 L1250.0,966.5 L1251.8,972.9 L1253.5,979.4 L1255.2,985.9 L1256.9,992.4 L1258.6,998.9 L1260.3,1005.3 L1262.0,1011.8 L1263.7,1018.2 L1265.4,1024.7 L1267.1,1031.1 L1268.8,1037.6 L1270.5,1044.1 L1272.2,1050.5 L1273.9,1057.0 L1275.6,1063.3 L1277.3,1069.6 L1279.0,1075.9 L1280.7,1082.1 L1282.4,1088.6 L1284.1,1095.1 L1285.8,1101.6 L1287.5,1108.1 L1289.2,1114.5 L1290.9,1120.7 L1292.7,1126.6 L1294.4,1132.2 L1296.1,1137.3 L1297.8,1142.0 L1299.5,1146.3 L1301.2,1150.5 L1302.9,1154.5 L1304.6,1158.4 L1306.3,1162.0 L1308.0,1165.6 L1309.7,1168.9 L1311.4,1172.0 L1313.1,1174.8 L1314.8,1177.5 L1316.5,1179.9 L1318.2,1182.1 L1319.9,1184.2 L1321.6,1186.3 L1323.3,1188.3 L1325.0,1190.3 L1326.7,1192.0 L1328.4,1193.7 L1330.1,1195.1 L1331.9,1196.4 L1333.6,1197.4 L1335.3,1198.2 L1337.0,1198.8 L1338.7,1199.3 L1340.4,1199.8 L1342.1,1200.3 L1343.8,1200.7 L1345.5,1201.1 L1347.2,1201.5 L1348.9,1201.8 L1350.6,1202.0 L1352.3,1202.1 L1354.0,1202.2 L1355.7,1202.2 L1357.4,1202.0 L1359.1,1201.7 L1360.8,1201.3 L1362.5,1200.8 L1364.2,1200.2 L1365.9,1199.5 L1367.6,1198.7 L1369.3,1197.9 L1371.1,1197.1 L1372.8,1196.2 L1374.5,1195.4 L1376.2,1194.5 L1377.9,1193.7 L1379.6,1192.9 L1381.3,1192.1 L1383.0,1191.4 L1384.7,1190.8 L1386.4,1190.3 L1388.1,1189.9 L1389.8,1189.5 L1391.5,1189.1 L1393.2,1188.7 L1394.9,1188.3 L1396.6,1187.9 L1398.3,1187.5 L1400.0,1187.2 L1401.7,1186.9 L1403.4,1186.5 L1405.1,1186.2 L1406.8,1186.0 L1408.5,1185.8 L1410.2,1185.6 L1412.0,1185.4 L1413.7,1185.3 L1415.4,1185.3 L1417.1,1185.3 L1418.8,1185.5 L1420.5,1185.7 L1422.2,1186.1 L1423.9,1186.6 L1425.6,1187.2 L1427.3,1187.8 L1429.0,1188.5 L1430.7,1189.3 L1432.4,1190.1 L1434.1,1191.0 L1435.8,1192.0 L1437.5,1192.9 L1439.2,1193.9 L1440.9,1194.9 L1442.6,1195.9 L1444.3,1196.9 L1446.0,1197.8 L1447.7,1198.8 L1449.4,1199.7 L1451.2,1200.7 L1452.9,1201.7 L1454.6,1202.9 L1456.3,1204.1 L1458.0,1205.3 L1459.7,1206.6 L1461.4,1208.0 L1463.1,1209.3 L1464.8,1210.7 L1466.5,1212.0 L1468.2,1213.4 L1469.9,1214.7 L1471.6,1216.1 L1473.3,1217.4 L1475.0,1218.6 L1476.7,1219.8 L1478.4,1220.9 L1480.1,1222.0 L1481.8,1223.0 L1483.5,1223.9 L1485.2,1224.8 L1486.9,1225.8 L1488.6,1226.8 L1490.3,1227.7 L1492.1,1228.7 L1493.8,1229.6 L1495.5,1230.6 L1497.2,1231.5 L1498.9,1232.4 L1500.6,1233.2 L1502.3,1234.1 L1504.0,1234.8 L1505.7,1235.6 L1507.4,1236.3 L1509.1,1236.9 L1510.8,1237.5 L1512.5,1238.0 L1514.2,1238.5 L1515.9,1238.9 L1517.6,1239.2 L1519.3,1239.4 L1521.0,1239.5 L1522.7,1239.7 L1524.4,1239.8 L1526.1,1240.0 L1527.8,1240.1 L1529.5,1240.2 L1531.3,1240.3 L1533.0,1240.4 L1534.7,1240.5 L1536.4,1240.6 L1538.1,1240.7 L1539.8,1240.8 L1541.5,1240.9 L1543.2,1241.0 L1544.9,1241.1 L1546.6,1241.1 L1548.3,1241.2 L1550.0,1241.3 L1551.7,1241.3 L1553.4,1241.4 L1555.1,1241.5 L1556.8,1241.5 L1558.5,1241.6 L1560.2,1241.6 L1561.9,1241.7 L1563.6,1241.7 L1565.3,1241.8 L1567.0,1241.8 L1568.7,1241.9 L1570.4,1241.9 L1572.2,1241.9 L1573.9,1242.0 L1575.6,1242.0 L1577.3,1242.0 L1579.0,1242.1 L1580.7,1242.1 L1582.4,1242.1 L1584.1,1242.1 L1585.8,1242.2 L1587.5,1242.2 L1589.2,1242.2 L1590.9,1242.2 L1592.6,1242.3 L1594.3,1242.3 L1596.0,1242.3 L1597.7,1242.3 L1599.4,1242.4 L1601.1,1242.4 L1602.8,1242.4 L1604.5,1242.5 L1606.2,1242.5 L1607.9,1242.5 L1609.6,1242.6 L1611.4,1242.6 L1613.1,1242.7 L1614.8,1242.7 L1616.5,1242.8 L1618.2,1242.9 L1619.9,1242.9 L1621.6,1243.0 L1623.3,1243.1 L1625.0,1243.2 L1626.7,1243.3 L1628.4,1243.4 L1630.1,1243.5 L1631.8,1243.6 L1633.5,1243.7 L1635.2,1243.9 L1636.9,1244.0 L1638.6,1244.1 L1640.3,1244.3 L1642.0,1244.4 L1643.7,1244.5 L1645.4,1244.7 L1647.1,1244.9 L1648.8,1245.0 L1650.5,1245.2 L1652.3,1245.4 L1654.0,1245.5 L1655.7,1245.7 L1657.4,1245.9 L1659.1,1246.1 L1660.8,1246.2 L1662.5,1246.4 L1664.2,1246.6 L1665.9,1246.8 L1667.6,1247.0 L1669.3,1247.2 L1671.0,1247.4" stroke="#000" stroke-dasharray="9,8.5" stroke-linecap="round"/>
</g>
<rect x="990.5" y="761.2" width="681.0" height="510.0999999999999" fill="none" stroke="#6e6e6e" stroke-width="3"/>
<path d="M990.5,1271.3 v-8 M1114.4,1271.3 v-8 M1238.3,1271.3 v-8 M1362.2,1271.3 v-8 M1486.1,1271.3 v-8 M1610.0,1271.3 v-8 M990.5,1270.5 h8 M990.5,1111.6 h8 M990.5,952.7 h8 M990.5,793.8 h8" stroke="#555" stroke-width="2"/>
<g font-family="'DejaVu Sans', sans-serif" font-size="29.5" fill="#222">
<text x="990.5" y="1299" text-anchor="middle">0.4</text>
<text x="1114.4" y="1299" text-anchor="middle">0.6</text>
<text x="1238.3" y="1299" text-anchor="middle">0.8</text>
<text x="1362.2" y="1299" text-anchor="middle">1.0</text>
<text x="1486.1" y="1299" text-anchor="middle">1.2</text>
<text x="1610.0" y="1299" text-anchor="middle">1.4</text>
<text x="977" y="1280.5" text-anchor="end">0.0</text>
<text x="977" y="1121.6" text-anchor="end">0.5</text>
<text x="977" y="962.7" text-anchor="end">1.0</text>
<text x="977" y="803.8" text-anchor="end">1.5</text>
<text x="1329" y="1341" text-anchor="middle" font-size="31.5">Frequency (THz)</text>
<text transform="translate(914,1016) rotate(-90)" text-anchor="middle" font-size="31.5">Transmission (× 10<tspan font-size="21" dy="-11">−3</tspan><tspan dy="11">)</tspan></text>
</g>
<g font-family="'DejaVu Sans', sans-serif" font-size="30">
<text x="1074" y="858" fill="#222">|E<tspan font-size="21" dy="5">THz</tspan><tspan dy="-5">|</tspan><tspan font-size="20" dy="-14">2</tspan></text>
<text x="1355" y="954" fill="#1f77b4" font-size="31.5"><tspan font-style="italic">L</tspan> = 20 <tspan font-style="italic">μ</tspan>m</text>
<text x="1159" y="1230" fill="#ff7f0e" font-size="31.5"><tspan font-style="italic">L</tspan> = 100 <tspan font-style="italic">μ</tspan>m</text>
</g>
</g>
<g font-family="'Liberation Sans', sans-serif" font-weight="bold" font-size="41.5" fill="#000">
<text x="19" y="761.5">(b)</text>
<text x="863" y="761.5">(c)</text>
</g>
<defs>
<clipPath id="hc0"><rect x="9.7" y="1407" width="502.3" height="465"/></clipPath>
<clipPath id="hc1"><rect x="551" y="1408" width="502" height="464.5"/></clipPath>
<clipPath id="hc2"><rect x="1095" y="1407.5" width="501.5" height="463.5"/></clipPath>
<linearGradient id="cbar" x1="0" y1="0" x2="0" y2="1"><stop offset="0" stop-color="#f00"/><stop offset="0.5" stop-color="#fff"/><stop offset="1" stop-color="#00f"/></linearGradient>
<marker id="ah" viewBox="0 0 10 10" refX="9" refY="5" markerWidth="6" markerHeight="5" orient="auto-start-reverse"><path d="M0,0 L10,5 L0,10 z" fill="#000"/></marker>
</defs>
<rect x="4.7" y="1402" width="511.3" height="474" fill="#fff"/>
<g clip-path="url(#hc0)" shape-rendering="crispEdges">
<rect x="4.7" y="1402" width="511.3" height="474" fill="#fdf4f5"/>
<path fill="#fff2f2" d="M76.6 1442.2h24.0v8.4h-24.0zM68.6 1450.2h8.0v8.4h-8.0zM100.6 1450.2h8.0v8.4h-8.0zM60.6 1458.2h8.0v8.4h-8.0zM108.6 1458.2h8.0v8.4h-8.0zM60.6 1466.3h8.0v8.4h-8.0zM108.6 1466.3h8.0v8.4h-8.0zM60.6 1474.3h8.0v8.4h-8.0zM108.6 1474.3h8.0v8.4h-8.0zM108.6 1482.3h8.0v8.4h-8.0zM108.6 1490.4h8.0v8.4h-8.0zM52.6 1498.4h8.0v8.4h-8.0zM52.6 1506.4h8.0v8.4h-8.0zM116.5 1506.4h8.0v8.4h-8.0zM52.6 1514.5h8.0v8.4h-8.0zM116.5 1514.5h8.0v8.4h-8.0zM52.6 1522.5h8.0v8.4h-8.0zM116.5 1522.5h8.0v8.4h-8.0zM52.6 1530.5h8.0v8.4h-8.0zM116.5 1530.5h8.0v8.4h-8.0zM52.6 1538.6h8.0v8.4h-8.0zM116.5 1538.6h8.0v8.4h-8.0zM52.6 1546.6h8.0v8.4h-8.0zM116.5 1546.6h8.0v8.4h-8.0zM52.6 1554.6h8.0v8.4h-8.0zM116.5 1554.6h8.0v8.4h-8.0zM116.5 1562.7h8.0v8.4h-8.0zM116.5 1570.7h8.0v8.4h-8.0zM44.6 1586.8h8.0v8.4h-8.0zM44.6 1594.8h8.0v8.4h-8.0zM124.5 1594.8h8.0v8.4h-8.0zM236.4 1594.8h55.9v8.4h-55.9zM44.6 1602.8h8.0v8.4h-8.0zM124.5 1602.8h8.0v8.4h-8.0zM228.4 1602.8h79.9v8.4h-79.9zM44.6 1610.9h8.0v8.4h-8.0zM124.5 1610.9h8.0v8.4h-8.0zM220.4 1610.9h111.8v8.4h-111.8zM44.6 1618.9h8.0v8.4h-8.0zM124.5 1618.9h8.0v8.4h-8.0zM212.4 1618.9h135.8v8.4h-135.8zM44.6 1626.9h8.0v8.4h-8.0zM124.5 1626.9h8.0v8.4h-8.0zM212.4 1626.9h47.9v8.4h-47.9zM268.3 1626.9h87.9v8.4h-87.9zM44.6 1635.0h8.0v8.4h-8.0zM124.5 1635.0h8.0v8.4h-8.0zM204.4 1635.0h39.9v8.4h-39.9zM308.3 1635.0h55.9v8.4h-55.9zM44.6 1643.0h8.0v8.4h-8.0zM124.5 1643.0h8.0v8.4h-8.0zM204.4 1643.0h39.9v8.4h-39.9zM332.3 1643.0h39.9v8.4h-39.9zM44.6 1651.1h8.0v8.4h-8.0zM124.5 1651.1h8.0v8.4h-8.0zM204.4 1651.1h39.9v8.4h-39.9zM340.2 1651.1h32.0v8.4h-32.0zM44.6 1659.1h8.0v8.4h-8.0zM124.5 1659.1h8.0v8.4h-8.0zM204.4 1659.1h47.9v8.4h-47.9zM340.2 1659.1h39.9v8.4h-39.9zM124.5 1667.1h8.0v8.4h-8.0zM212.4 1667.1h55.9v8.4h-55.9zM340.2 1667.1h32.0v8.4h-32.0zM124.5 1675.2h8.0v8.4h-8.0zM212.4 1675.2h103.9v8.4h-103.9zM332.3 1675.2h39.9v8.4h-39.9zM220.4 1683.2h151.8v8.4h-151.8zM36.7 1691.2h8.0v8.4h-8.0zM132.5 1691.2h8.0v8.4h-8.0zM228.4 1691.2h135.8v8.4h-135.8zM36.7 1699.3h8.0v8.4h-8.0zM132.5 1699.3h8.0v8.4h-8.0zM244.4 1699.3h119.8v8.4h-119.8zM36.7 1707.3h8.0v8.4h-8.0zM132.5 1707.3h8.0v8.4h-8.0zM284.3 1707.3h63.9v8.4h-63.9zM36.7 1715.3h8.0v8.4h-8.0zM132.5 1715.3h8.0v8.4h-8.0zM36.7 1723.4h8.0v8.4h-8.0zM132.5 1723.4h8.0v8.4h-8.0zM36.7 1731.4h8.0v8.4h-8.0zM132.5 1731.4h8.0v8.4h-8.0zM36.7 1739.4h8.0v8.4h-8.0zM132.5 1739.4h8.0v8.4h-8.0zM28.7 1747.5h8.0v8.4h-8.0zM132.5 1747.5h16.0v8.4h-16.0zM28.7 1755.5h8.0v8.4h-8.0zM132.5 1755.5h16.0v8.4h-16.0zM28.7 1763.5h8.0v8.4h-8.0zM132.5 1763.5h16.0v8.4h-16.0zM28.7 1771.6h8.0v8.4h-8.0zM132.5 1771.6h8.0v8.4h-8.0zM28.7 1779.6h8.0v8.4h-8.0zM132.5 1779.6h8.0v8.4h-8.0zM28.7 1787.6h8.0v8.4h-8.0zM132.5 1787.6h16.0v8.4h-16.0zM28.7 1795.7h8.0v8.4h-8.0zM148.5 1795.7h16.0v8.4h-16.0zM28.7 1803.7h8.0v8.4h-8.0zM164.5 1803.7h39.9v8.4h-39.9zM36.7 1811.7h8.0v8.4h-8.0zM204.4 1811.7h8.0v8.4h-8.0zM36.7 1819.8h8.0v8.4h-8.0zM212.4 1819.8h8.0v8.4h-8.0zM44.6 1827.8h8.0v8.4h-8.0zM212.4 1827.8h8.0v8.4h-8.0zM44.6 1835.8h16.0v8.4h-16.0zM212.4 1835.8h8.0v8.4h-8.0zM52.6 1843.9h8.0v8.4h-8.0zM204.4 1843.9h8.0v8.4h-8.0zM60.6 1851.9h8.0v8.4h-8.0zM196.4 1851.9h16.0v8.4h-16.0zM68.6 1859.9h16.0v8.4h-16.0zM188.4 1859.9h8.0v8.4h-8.0zM84.6 1868.0h32.0v8.4h-32.0zM156.5 1868.0h24.0v8.4h-24.0z"/>
<path fill="#ffecec" d="M76.6 1450.2h24.0v8.4h-24.0zM68.6 1458.2h8.0v8.4h-8.0zM100.6 1458.2h8.0v8.4h-8.0zM68.6 1466.3h8.0v8.4h-8.0zM100.6 1466.3h8.0v8.4h-8.0zM100.6 1474.3h8.0v8.4h-8.0zM60.6 1482.3h8.0v8.4h-8.0zM60.6 1490.4h8.0v8.4h-8.0zM60.6 1498.4h8.0v8.4h-8.0zM108.6 1498.4h8.0v8.4h-8.0zM60.6 1506.4h8.0v8.4h-8.0zM108.6 1506.4h8.0v8.4h-8.0zM60.6 1514.5h8.0v8.4h-8.0zM108.6 1514.5h8.0v8.4h-8.0zM108.6 1522.5h8.0v8.4h-8.0zM108.6 1530.5h8.0v8.4h-8.0zM108.6 1538.6h8.0v8.4h-8.0zM52.6 1562.7h8.0v8.4h-8.0zM52.6 1570.7h8.0v8.4h-8.0zM52.6 1578.7h8.0v8.4h-8.0zM116.5 1578.7h8.0v8.4h-8.0zM52.6 1586.8h8.0v8.4h-8.0zM116.5 1586.8h8.0v8.4h-8.0zM52.6 1594.8h8.0v8.4h-8.0zM116.5 1594.8h8.0v8.4h-8.0zM52.6 1602.8h8.0v8.4h-8.0zM116.5 1602.8h8.0v8.4h-8.0zM116.5 1610.9h8.0v8.4h-8.0zM116.5 1618.9h8.0v8.4h-8.0zM260.4 1626.9h8.0v8.4h-8.0zM244.4 1635.0h63.9v8.4h-63.9zM244.4 1643.0h87.9v8.4h-87.9zM244.4 1651.1h95.9v8.4h-95.9zM252.4 1659.1h87.9v8.4h-87.9zM44.6 1667.1h8.0v8.4h-8.0zM268.3 1667.1h71.9v8.4h-71.9zM44.6 1675.2h8.0v8.4h-8.0zM316.3 1675.2h16.0v8.4h-16.0zM44.6 1683.2h8.0v8.4h-8.0zM124.5 1683.2h8.0v8.4h-8.0zM44.6 1691.2h8.0v8.4h-8.0zM124.5 1691.2h8.0v8.4h-8.0zM44.6 1699.3h8.0v8.4h-8.0zM124.5 1699.3h8.0v8.4h-8.0zM44.6 1707.3h8.0v8.4h-8.0zM124.5 1707.3h8.0v8.4h-8.0zM124.5 1715.3h8.0v8.4h-8.0zM124.5 1723.4h8.0v8.4h-8.0zM36.7 1747.5h8.0v8.4h-8.0zM36.7 1755.5h8.0v8.4h-8.0zM36.7 1763.5h8.0v8.4h-8.0zM36.7 1771.6h8.0v8.4h-8.0zM36.7 1779.6h8.0v8.4h-8.0zM36.7 1787.6h8.0v8.4h-8.0zM36.7 1795.7h8.0v8.4h-8.0zM132.5 1795.7h16.0v8.4h-16.0zM36.7 1803.7h8.0v8.4h-8.0zM156.5 1803.7h8.0v8.4h-8.0zM196.4 1811.7h8.0v8.4h-8.0zM44.6 1819.8h8.0v8.4h-8.0zM204.4 1819.8h8.0v8.4h-8.0zM52.6 1827.8h8.0v8.4h-8.0zM204.4 1827.8h8.0v8.4h-8.0zM204.4 1835.8h8.0v8.4h-8.0zM60.6 1843.9h8.0v8.4h-8.0zM196.4 1843.9h8.0v8.4h-8.0zM68.6 1851.9h8.0v8.4h-8.0zM188.4 1851.9h8.0v8.4h-8.0zM84.6 1859.9h16.0v8.4h-16.0zM180.5 1859.9h8.0v8.4h-8.0zM116.5 1868.0h39.9v8.4h-39.9z"/>
<path fill="#ffe6e6" d="M76.6 1458.2h24.0v8.4h-24.0zM76.6 1466.3h8.0v8.4h-8.0zM92.6 1466.3h8.0v8.4h-8.0zM68.6 1474.3h8.0v8.4h-8.0zM68.6 1482.3h8.0v8.4h-8.0zM100.6 1482.3h8.0v8.4h-8.0zM68.6 1490.4h8.0v8.4h-8.0zM100.6 1490.4h8.0v8.4h-8.0zM100.6 1498.4h8.0v8.4h-8.0zM60.6 1522.5h8.0v8.4h-8.0zM60.6 1530.5h8.0v8.4h-8.0zM60.6 1538.6h8.0v8.4h-8.0zM60.6 1546.6h8.0v8.4h-8.0zM108.6 1546.6h8.0v8.4h-8.0zM60.6 1554.6h8.0v8.4h-8.0zM108.6 1554.6h8.0v8.4h-8.0zM108.6 1562.7h8.0v8.4h-8.0zM108.6 1570.7h8.0v8.4h-8.0zM52.6 1610.9h8.0v8.4h-8.0zM52.6 1618.9h8.0v8.4h-8.0zM52.6 1626.9h8.0v8.4h-8.0zM116.5 1626.9h8.0v8.4h-8.0zM52.6 1635.0h8.0v8.4h-8.0zM116.5 1635.0h8.0v8.4h-8.0zM52.6 1643.0h8.0v8.4h-8.0zM116.5 1643.0h8.0v8.4h-8.0zM116.5 1651.1h8.0v8.4h-8.0zM116.5 1659.1h8.0v8.4h-8.0zM116.5 1667.1h8.0v8.4h-8.0zM44.6 1715.3h8.0v8.4h-8.0zM44.6 1723.4h8.0v8.4h-8.0zM44.6 1731.4h8.0v8.4h-8.0zM124.5 1731.4h8.0v8.4h-8.0zM124.5 1739.4h8.0v8.4h-8.0zM124.5 1747.5h8.0v8.4h-8.0zM124.5 1755.5h8.0v8.4h-8.0zM124.5 1763.5h8.0v8.4h-8.0zM124.5 1771.6h8.0v8.4h-8.0zM124.5 1779.6h8.0v8.4h-8.0zM124.5 1787.6h8.0v8.4h-8.0zM148.5 1803.7h8.0v8.4h-8.0zM44.6 1811.7h8.0v8.4h-8.0zM164.5 1811.7h32.0v8.4h-32.0zM196.4 1819.8h8.0v8.4h-8.0zM60.6 1835.8h8.0v8.4h-8.0zM196.4 1835.8h8.0v8.4h-8.0zM188.4 1843.9h8.0v8.4h-8.0zM76.6 1851.9h8.0v8.4h-8.0zM180.5 1851.9h8.0v8.4h-8.0zM100.6 1859.9h8.0v8.4h-8.0zM164.5 1859.9h16.0v8.4h-16.0z"/>
<path fill="#ffdfdf" d="M84.6 1466.3h8.0v8.4h-8.0zM76.6 1474.3h24.0v8.4h-24.0zM76.6 1482.3h8.0v8.4h-8.0zM92.6 1482.3h8.0v8.4h-8.0zM68.6 1498.4h8.0v8.4h-8.0zM68.6 1506.4h8.0v8.4h-8.0zM100.6 1506.4h8.0v8.4h-8.0zM68.6 1514.5h8.0v8.4h-8.0zM100.6 1514.5h8.0v8.4h-8.0zM100.6 1522.5h8.0v8.4h-8.0zM100.6 1530.5h8.0v8.4h-8.0zM60.6 1562.7h8.0v8.4h-8.0zM60.6 1570.7h8.0v8.4h-8.0zM60.6 1578.7h8.0v8.4h-8.0zM108.6 1578.7h8.0v8.4h-8.0zM108.6 1586.8h8.0v8.4h-8.0zM108.6 1594.8h8.0v8.4h-8.0zM108.6 1602.8h8.0v8.4h-8.0zM52.6 1651.1h8.0v8.4h-8.0zM52.6 1659.1h8.0v8.4h-8.0zM52.6 1667.1h8.0v8.4h-8.0zM52.6 1675.2h8.0v8.4h-8.0zM116.5 1675.2h8.0v8.4h-8.0zM52.6 1683.2h8.0v8.4h-8.0zM116.5 1683.2h8.0v8.4h-8.0zM116.5 1691.2h8.0v8.4h-8.0zM116.5 1699.3h8.0v8.4h-8.0zM44.6 1739.4h8.0v8.4h-8.0zM44.6 1747.5h8.0v8.4h-8.0zM44.6 1755.5h8.0v8.4h-8.0zM44.6 1763.5h8.0v8.4h-8.0zM44.6 1771.6h8.0v8.4h-8.0zM124.5 1795.7h8.0v8.4h-8.0zM44.6 1803.7h8.0v8.4h-8.0zM140.5 1803.7h8.0v8.4h-8.0zM156.5 1811.7h8.0v8.4h-8.0zM52.6 1819.8h8.0v8.4h-8.0zM188.4 1819.8h8.0v8.4h-8.0zM196.4 1827.8h8.0v8.4h-8.0zM188.4 1835.8h8.0v8.4h-8.0zM68.6 1843.9h8.0v8.4h-8.0zM84.6 1851.9h8.0v8.4h-8.0zM108.6 1859.9h8.0v8.4h-8.0zM132.5 1859.9h32.0v8.4h-32.0z"/>
<path fill="#f2f2ff" d="M212.4 1474.3h39.9v8.4h-39.9zM220.4 1482.3h47.9v8.4h-47.9zM228.4 1490.4h16.0v8.4h-16.0zM276.3 1490.4h24.0v8.4h-24.0zM236.4 1498.4h16.0v8.4h-16.0zM300.3 1498.4h16.0v8.4h-16.0zM244.4 1506.4h16.0v8.4h-16.0zM324.3 1506.4h8.0v8.4h-8.0zM252.4 1514.5h16.0v8.4h-16.0zM340.2 1514.5h8.0v8.4h-8.0zM268.3 1522.5h8.0v8.4h-8.0zM356.2 1522.5h8.0v8.4h-8.0zM276.3 1530.5h8.0v8.4h-8.0zM364.2 1530.5h16.0v8.4h-16.0zM292.3 1538.6h8.0v8.4h-8.0zM380.2 1538.6h8.0v8.4h-8.0zM300.3 1546.6h8.0v8.4h-8.0zM388.2 1546.6h8.0v8.4h-8.0zM308.3 1554.6h8.0v8.4h-8.0zM396.2 1554.6h8.0v8.4h-8.0zM316.3 1562.7h8.0v8.4h-8.0zM324.3 1570.7h8.0v8.4h-8.0zM404.2 1570.7h8.0v8.4h-8.0zM332.3 1578.7h8.0v8.4h-8.0zM404.2 1578.7h8.0v8.4h-8.0zM340.2 1586.8h8.0v8.4h-8.0zM412.1 1586.8h8.0v8.4h-8.0zM348.2 1594.8h8.0v8.4h-8.0zM412.1 1594.8h8.0v8.4h-8.0zM356.2 1602.8h8.0v8.4h-8.0zM380.2 1610.9h24.0v8.4h-24.0zM444.1 1618.9h32.0v8.4h-32.0zM476.1 1626.9h8.0v8.4h-8.0zM428.1 1635.0h8.0v8.4h-8.0zM476.1 1635.0h8.0v8.4h-8.0zM420.1 1643.0h8.0v8.4h-8.0zM412.1 1659.1h8.0v8.4h-8.0zM476.1 1659.1h8.0v8.4h-8.0zM412.1 1667.1h8.0v8.4h-8.0zM476.1 1667.1h8.0v8.4h-8.0zM468.1 1683.2h8.0v8.4h-8.0zM460.1 1691.2h8.0v8.4h-8.0zM412.1 1699.3h8.0v8.4h-8.0zM452.1 1699.3h8.0v8.4h-8.0zM420.1 1707.3h8.0v8.4h-8.0zM444.1 1707.3h8.0v8.4h-8.0z"/>
<path fill="#ffd9d9" d="M84.6 1482.3h8.0v8.4h-8.0zM76.6 1490.4h24.0v8.4h-24.0zM76.6 1498.4h8.0v8.4h-8.0zM92.6 1498.4h8.0v8.4h-8.0zM92.6 1506.4h8.0v8.4h-8.0zM68.6 1522.5h8.0v8.4h-8.0zM68.6 1530.5h8.0v8.4h-8.0zM68.6 1538.6h8.0v8.4h-8.0zM100.6 1538.6h8.0v8.4h-8.0zM100.6 1546.6h8.0v8.4h-8.0zM100.6 1554.6h8.0v8.4h-8.0zM60.6 1586.8h8.0v8.4h-8.0zM60.6 1594.8h8.0v8.4h-8.0zM60.6 1602.8h8.0v8.4h-8.0zM60.6 1610.9h8.0v8.4h-8.0zM108.6 1610.9h8.0v8.4h-8.0zM108.6 1618.9h8.0v8.4h-8.0zM108.6 1626.9h8.0v8.4h-8.0zM52.6 1691.2h8.0v8.4h-8.0zM52.6 1699.3h8.0v8.4h-8.0zM52.6 1707.3h8.0v8.4h-8.0zM116.5 1707.3h8.0v8.4h-8.0zM116.5 1715.3h8.0v8.4h-8.0zM44.6 1779.6h8.0v8.4h-8.0zM44.6 1787.6h8.0v8.4h-8.0zM44.6 1795.7h8.0v8.4h-8.0zM132.5 1803.7h8.0v8.4h-8.0zM172.5 1819.8h16.0v8.4h-16.0zM60.6 1827.8h8.0v8.4h-8.0zM188.4 1827.8h8.0v8.4h-8.0zM180.5 1843.9h8.0v8.4h-8.0zM172.5 1851.9h8.0v8.4h-8.0zM116.5 1859.9h16.0v8.4h-16.0z"/>
<path fill="#ececff" d="M244.4 1490.4h32.0v8.4h-32.0zM252.4 1498.4h47.9v8.4h-47.9zM260.4 1506.4h8.0v8.4h-8.0zM316.3 1506.4h8.0v8.4h-8.0zM268.3 1514.5h8.0v8.4h-8.0zM332.3 1514.5h8.0v8.4h-8.0zM276.3 1522.5h8.0v8.4h-8.0zM348.2 1522.5h8.0v8.4h-8.0zM284.3 1530.5h8.0v8.4h-8.0zM372.2 1538.6h8.0v8.4h-8.0zM388.2 1554.6h8.0v8.4h-8.0zM396.2 1562.7h8.0v8.4h-8.0zM404.2 1586.8h8.0v8.4h-8.0zM404.2 1594.8h8.0v8.4h-8.0zM364.2 1602.8h8.0v8.4h-8.0zM396.2 1602.8h16.0v8.4h-16.0zM436.1 1626.9h8.0v8.4h-8.0zM468.1 1626.9h8.0v8.4h-8.0zM476.1 1643.0h8.0v8.4h-8.0zM420.1 1651.1h8.0v8.4h-8.0zM476.1 1651.1h8.0v8.4h-8.0zM412.1 1675.2h8.0v8.4h-8.0zM468.1 1675.2h8.0v8.4h-8.0zM428.1 1707.3h16.0v8.4h-16.0z"/>
<path fill="#ffd2d2" d="M84.6 1498.4h8.0v8.4h-8.0zM76.6 1506.4h16.0v8.4h-16.0zM76.6 1514.5h8.0v8.4h-8.0zM92.6 1514.5h8.0v8.4h-8.0zM76.6 1522.5h8.0v8.4h-8.0zM92.6 1522.5h8.0v8.4h-8.0zM92.6 1530.5h8.0v8.4h-8.0zM68.6 1546.6h8.0v8.4h-8.0zM68.6 1554.6h8.0v8.4h-8.0zM68.6 1562.7h8.0v8.4h-8.0zM100.6 1562.7h8.0v8.4h-8.0zM100.6 1570.7h8.0v8.4h-8.0zM60.6 1618.9h8.0v8.4h-8.0zM60.6 1626.9h8.0v8.4h-8.0zM108.6 1635.0h8.0v8.4h-8.0zM108.6 1643.0h8.0v8.4h-8.0zM108.6 1651.1h8.0v8.4h-8.0zM52.6 1715.3h8.0v8.4h-8.0zM116.5 1723.4h8.0v8.4h-8.0zM116.5 1731.4h8.0v8.4h-8.0zM52.6 1811.7h8.0v8.4h-8.0zM148.5 1811.7h8.0v8.4h-8.0zM164.5 1819.8h8.0v8.4h-8.0zM180.5 1827.8h8.0v8.4h-8.0zM68.6 1835.8h8.0v8.4h-8.0zM180.5 1835.8h8.0v8.4h-8.0zM76.6 1843.9h8.0v8.4h-8.0zM92.6 1851.9h8.0v8.4h-8.0zM156.5 1851.9h16.0v8.4h-16.0z"/>
<path fill="#e6e6ff" d="M268.3 1506.4h47.9v8.4h-47.9zM276.3 1514.5h8.0v8.4h-8.0zM324.3 1514.5h8.0v8.4h-8.0zM284.3 1522.5h8.0v8.4h-8.0zM340.2 1522.5h8.0v8.4h-8.0zM292.3 1530.5h8.0v8.4h-8.0zM356.2 1530.5h8.0v8.4h-8.0zM300.3 1538.6h8.0v8.4h-8.0zM308.3 1546.6h8.0v8.4h-8.0zM380.2 1546.6h8.0v8.4h-8.0zM316.3 1554.6h8.0v8.4h-8.0zM324.3 1562.7h8.0v8.4h-8.0zM396.2 1570.7h8.0v8.4h-8.0zM396.2 1586.8h8.0v8.4h-8.0zM356.2 1594.8h8.0v8.4h-8.0zM396.2 1594.8h8.0v8.4h-8.0zM372.2 1602.8h24.0v8.4h-24.0zM444.1 1626.9h8.0v8.4h-8.0zM428.1 1643.0h8.0v8.4h-8.0zM420.1 1659.1h8.0v8.4h-8.0zM468.1 1667.1h8.0v8.4h-8.0zM412.1 1683.2h8.0v8.4h-8.0zM460.1 1683.2h8.0v8.4h-8.0zM412.1 1691.2h8.0v8.4h-8.0zM452.1 1691.2h8.0v8.4h-8.0zM420.1 1699.3h8.0v8.4h-8.0zM444.1 1699.3h8.0v8.4h-8.0z"/>
<path fill="#ffcccc" d="M84.6 1514.5h8.0v8.4h-8.0zM84.6 1522.5h8.0v8.4h-8.0zM76.6 1530.5h16.0v8.4h-16.0zM76.6 1538.6h8.0v8.4h-8.0zM92.6 1538.6h8.0v8.4h-8.0zM92.6 1546.6h8.0v8.4h-8.0zM68.6 1570.7h8.0v8.4h-8.0zM68.6 1578.7h8.0v8.4h-8.0zM100.6 1578.7h8.0v8.4h-8.0zM100.6 1586.8h8.0v8.4h-8.0zM60.6 1635.0h8.0v8.4h-8.0zM60.6 1643.0h8.0v8.4h-8.0zM60.6 1651.1h8.0v8.4h-8.0zM108.6 1659.1h8.0v8.4h-8.0zM108.6 1667.1h8.0v8.4h-8.0zM52.6 1723.4h8.0v8.4h-8.0zM52.6 1731.4h8.0v8.4h-8.0zM116.5 1739.4h8.0v8.4h-8.0zM116.5 1747.5h8.0v8.4h-8.0zM116.5 1763.5h8.0v8.4h-8.0zM116.5 1771.6h8.0v8.4h-8.0zM116.5 1779.6h8.0v8.4h-8.0zM116.5 1787.6h8.0v8.4h-8.0zM124.5 1803.7h8.0v8.4h-8.0zM140.5 1811.7h8.0v8.4h-8.0zM156.5 1819.8h8.0v8.4h-8.0zM172.5 1827.8h8.0v8.4h-8.0zM172.5 1843.9h8.0v8.4h-8.0zM100.6 1851.9h8.0v8.4h-8.0zM148.5 1851.9h8.0v8.4h-8.0z"/>
<path fill="#dfdfff" d="M284.3 1514.5h16.0v8.4h-16.0zM308.3 1514.5h16.0v8.4h-16.0zM292.3 1522.5h8.0v8.4h-8.0zM332.3 1522.5h8.0v8.4h-8.0zM300.3 1530.5h8.0v8.4h-8.0zM348.2 1530.5h8.0v8.4h-8.0zM364.2 1538.6h8.0v8.4h-8.0zM388.2 1562.7h8.0v8.4h-8.0zM332.3 1570.7h8.0v8.4h-8.0zM340.2 1578.7h8.0v8.4h-8.0zM396.2 1578.7h8.0v8.4h-8.0zM348.2 1586.8h8.0v8.4h-8.0zM452.1 1626.9h16.0v8.4h-16.0zM436.1 1635.0h8.0v8.4h-8.0zM468.1 1635.0h8.0v8.4h-8.0zM468.1 1659.1h8.0v8.4h-8.0z"/>
<path fill="#d9d9ff" d="M300.3 1514.5h8.0v8.4h-8.0zM300.3 1522.5h8.0v8.4h-8.0zM324.3 1522.5h8.0v8.4h-8.0zM340.2 1530.5h8.0v8.4h-8.0zM308.3 1538.6h8.0v8.4h-8.0zM316.3 1546.6h8.0v8.4h-8.0zM372.2 1546.6h8.0v8.4h-8.0zM324.3 1554.6h8.0v8.4h-8.0zM380.2 1554.6h8.0v8.4h-8.0zM388.2 1594.8h8.0v8.4h-8.0zM468.1 1643.0h8.0v8.4h-8.0zM468.1 1651.1h8.0v8.4h-8.0zM420.1 1667.1h8.0v8.4h-8.0zM460.1 1675.2h8.0v8.4h-8.0zM444.1 1691.2h8.0v8.4h-8.0zM428.1 1699.3h16.0v8.4h-16.0z"/>
<path fill="#d2d2ff" d="M308.3 1522.5h16.0v8.4h-16.0zM308.3 1530.5h8.0v8.4h-8.0zM356.2 1538.6h8.0v8.4h-8.0zM332.3 1562.7h8.0v8.4h-8.0zM388.2 1570.7h8.0v8.4h-8.0zM364.2 1594.8h8.0v8.4h-8.0zM436.1 1643.0h8.0v8.4h-8.0zM428.1 1651.1h8.0v8.4h-8.0zM420.1 1675.2h8.0v8.4h-8.0zM452.1 1683.2h8.0v8.4h-8.0zM420.1 1691.2h8.0v8.4h-8.0z"/>
<path fill="#ccccff" d="M316.3 1530.5h24.0v8.4h-24.0zM316.3 1538.6h8.0v8.4h-8.0zM348.2 1538.6h8.0v8.4h-8.0zM324.3 1546.6h8.0v8.4h-8.0zM340.2 1570.7h8.0v8.4h-8.0zM356.2 1586.8h8.0v8.4h-8.0zM388.2 1586.8h8.0v8.4h-8.0zM380.2 1594.8h8.0v8.4h-8.0zM444.1 1635.0h8.0v8.4h-8.0zM460.1 1635.0h8.0v8.4h-8.0zM420.1 1683.2h8.0v8.4h-8.0z"/>
<path fill="#ffc6c6" d="M84.6 1538.6h8.0v8.4h-8.0zM76.6 1546.6h16.0v8.4h-16.0zM76.6 1554.6h8.0v8.4h-8.0zM92.6 1554.6h8.0v8.4h-8.0zM92.6 1562.7h8.0v8.4h-8.0zM68.6 1586.8h8.0v8.4h-8.0zM68.6 1594.8h8.0v8.4h-8.0zM100.6 1594.8h8.0v8.4h-8.0zM100.6 1602.8h8.0v8.4h-8.0zM100.6 1610.9h8.0v8.4h-8.0zM60.6 1659.1h8.0v8.4h-8.0zM60.6 1667.1h8.0v8.4h-8.0zM108.6 1675.2h8.0v8.4h-8.0zM108.6 1683.2h8.0v8.4h-8.0zM108.6 1691.2h8.0v8.4h-8.0zM52.6 1739.4h8.0v8.4h-8.0zM116.5 1755.5h8.0v8.4h-8.0zM60.6 1819.8h8.0v8.4h-8.0zM172.5 1835.8h8.0v8.4h-8.0zM108.6 1851.9h8.0v8.4h-8.0zM140.5 1851.9h8.0v8.4h-8.0z"/>
<path fill="#c6c6ff" d="M324.3 1538.6h24.0v8.4h-24.0zM364.2 1546.6h8.0v8.4h-8.0zM332.3 1554.6h8.0v8.4h-8.0zM380.2 1562.7h8.0v8.4h-8.0zM348.2 1578.7h8.0v8.4h-8.0zM388.2 1578.7h8.0v8.4h-8.0zM372.2 1594.8h8.0v8.4h-8.0zM452.1 1635.0h8.0v8.4h-8.0zM428.1 1659.1h8.0v8.4h-8.0zM460.1 1667.1h8.0v8.4h-8.0zM428.1 1691.2h16.0v8.4h-16.0z"/>
<path fill="#bfbfff" d="M332.3 1546.6h8.0v8.4h-8.0zM372.2 1554.6h8.0v8.4h-8.0zM444.1 1643.0h8.0v8.4h-8.0zM460.1 1643.0h8.0v8.4h-8.0zM460.1 1651.1h8.0v8.4h-8.0zM460.1 1659.1h8.0v8.4h-8.0zM428.1 1667.1h8.0v8.4h-8.0zM452.1 1675.2h8.0v8.4h-8.0zM444.1 1683.2h8.0v8.4h-8.0z"/>
<path fill="#b2b2ff" d="M340.2 1546.6h16.0v8.4h-16.0zM340.2 1554.6h8.0v8.4h-8.0zM348.2 1570.7h8.0v8.4h-8.0zM356.2 1578.7h8.0v8.4h-8.0zM380.2 1586.8h8.0v8.4h-8.0z"/>
<path fill="#b9b9ff" d="M356.2 1546.6h8.0v8.4h-8.0zM340.2 1562.7h8.0v8.4h-8.0zM380.2 1570.7h8.0v8.4h-8.0zM364.2 1586.8h8.0v8.4h-8.0zM452.1 1643.0h8.0v8.4h-8.0zM436.1 1651.1h8.0v8.4h-8.0zM428.1 1675.2h8.0v8.4h-8.0zM428.1 1683.2h16.0v8.4h-16.0z"/>
<path fill="#ffbfbf" d="M84.6 1554.6h8.0v8.4h-8.0zM76.6 1562.7h8.0v8.4h-8.0zM76.6 1570.7h8.0v8.4h-8.0zM92.6 1570.7h8.0v8.4h-8.0zM68.6 1602.8h8.0v8.4h-8.0zM68.6 1610.9h8.0v8.4h-8.0zM100.6 1618.9h8.0v8.4h-8.0zM60.6 1675.2h8.0v8.4h-8.0zM60.6 1683.2h8.0v8.4h-8.0zM60.6 1691.2h8.0v8.4h-8.0zM108.6 1699.3h8.0v8.4h-8.0zM52.6 1747.5h8.0v8.4h-8.0zM52.6 1755.5h8.0v8.4h-8.0zM52.6 1763.5h8.0v8.4h-8.0zM116.5 1795.7h8.0v8.4h-8.0zM52.6 1803.7h8.0v8.4h-8.0zM132.5 1811.7h8.0v8.4h-8.0zM148.5 1819.8h8.0v8.4h-8.0zM68.6 1827.8h8.0v8.4h-8.0zM164.5 1827.8h8.0v8.4h-8.0zM84.6 1843.9h8.0v8.4h-8.0zM156.5 1843.9h16.0v8.4h-16.0zM116.5 1851.9h24.0v8.4h-24.0z"/>
<path fill="#a6a6ff" d="M348.2 1554.6h8.0v8.4h-8.0zM372.2 1562.7h8.0v8.4h-8.0zM444.1 1651.1h8.0v8.4h-8.0zM436.1 1659.1h8.0v8.4h-8.0zM452.1 1667.1h8.0v8.4h-8.0zM436.1 1675.2h8.0v8.4h-8.0z"/>
<path fill="#9f9fff" d="M356.2 1554.6h8.0v8.4h-8.0zM348.2 1562.7h8.0v8.4h-8.0zM372.2 1570.7h8.0v8.4h-8.0zM364.2 1578.7h16.0v8.4h-16.0zM452.1 1659.1h8.0v8.4h-8.0zM436.1 1667.1h8.0v8.4h-8.0z"/>
<path fill="#acacff" d="M364.2 1554.6h8.0v8.4h-8.0zM380.2 1578.7h8.0v8.4h-8.0zM372.2 1586.8h8.0v8.4h-8.0zM452.1 1651.1h8.0v8.4h-8.0zM444.1 1675.2h8.0v8.4h-8.0z"/>
<path fill="#ffb9b9" d="M84.6 1562.7h8.0v8.4h-8.0zM84.6 1570.7h8.0v8.4h-8.0zM76.6 1578.7h8.0v8.4h-8.0zM92.6 1578.7h8.0v8.4h-8.0zM92.6 1586.8h8.0v8.4h-8.0zM68.6 1618.9h8.0v8.4h-8.0zM100.6 1626.9h8.0v8.4h-8.0zM100.6 1635.0h8.0v8.4h-8.0zM60.6 1699.3h8.0v8.4h-8.0zM108.6 1707.3h8.0v8.4h-8.0zM52.6 1771.6h8.0v8.4h-8.0zM52.6 1779.6h8.0v8.4h-8.0zM156.5 1827.8h8.0v8.4h-8.0zM164.5 1835.8h8.0v8.4h-8.0z"/>
<path fill="#9393ff" d="M356.2 1562.7h16.0v8.4h-16.0zM364.2 1570.7h8.0v8.4h-8.0zM444.1 1659.1h8.0v8.4h-8.0z"/>
<path fill="#9999ff" d="M356.2 1570.7h8.0v8.4h-8.0zM444.1 1667.1h8.0v8.4h-8.0z"/>
<path fill="#ffb2b2" d="M84.6 1578.7h8.0v8.4h-8.0zM76.6 1586.8h8.0v8.4h-8.0zM76.6 1594.8h8.0v8.4h-8.0zM92.6 1594.8h8.0v8.4h-8.0zM92.6 1602.8h8.0v8.4h-8.0zM68.6 1626.9h8.0v8.4h-8.0zM68.6 1635.0h8.0v8.4h-8.0zM100.6 1643.0h8.0v8.4h-8.0zM100.6 1651.1h8.0v8.4h-8.0zM60.6 1707.3h8.0v8.4h-8.0zM108.6 1715.3h8.0v8.4h-8.0zM108.6 1723.4h8.0v8.4h-8.0zM52.6 1787.6h8.0v8.4h-8.0zM52.6 1795.7h8.0v8.4h-8.0zM116.5 1803.7h8.0v8.4h-8.0zM140.5 1819.8h8.0v8.4h-8.0zM76.6 1835.8h8.0v8.4h-8.0zM156.5 1835.8h8.0v8.4h-8.0zM92.6 1843.9h8.0v8.4h-8.0zM148.5 1843.9h8.0v8.4h-8.0z"/>
<path fill="#ffacac" d="M84.6 1586.8h8.0v8.4h-8.0zM84.6 1594.8h8.0v8.4h-8.0zM76.6 1602.8h8.0v8.4h-8.0zM92.6 1610.9h8.0v8.4h-8.0zM68.6 1643.0h8.0v8.4h-8.0zM68.6 1651.1h8.0v8.4h-8.0zM100.6 1659.1h8.0v8.4h-8.0zM100.6 1667.1h8.0v8.4h-8.0zM60.6 1715.3h8.0v8.4h-8.0zM108.6 1731.4h8.0v8.4h-8.0zM60.6 1811.7h8.0v8.4h-8.0zM124.5 1811.7h8.0v8.4h-8.0zM148.5 1827.8h8.0v8.4h-8.0zM100.6 1843.9h8.0v8.4h-8.0zM140.5 1843.9h8.0v8.4h-8.0z"/>
<path fill="#ffa6a6" d="M84.6 1602.8h8.0v8.4h-8.0zM76.6 1610.9h8.0v8.4h-8.0zM76.6 1618.9h8.0v8.4h-8.0zM92.6 1618.9h8.0v8.4h-8.0zM68.6 1659.1h8.0v8.4h-8.0zM100.6 1675.2h8.0v8.4h-8.0zM60.6 1723.4h8.0v8.4h-8.0zM108.6 1739.4h8.0v8.4h-8.0zM108.6 1787.6h8.0v8.4h-8.0zM132.5 1819.8h8.0v8.4h-8.0zM148.5 1835.8h8.0v8.4h-8.0zM132.5 1843.9h8.0v8.4h-8.0z"/>
<path fill="#ff9f9f" d="M84.6 1610.9h8.0v8.4h-8.0zM76.6 1626.9h8.0v8.4h-8.0zM92.6 1626.9h8.0v8.4h-8.0zM92.6 1635.0h8.0v8.4h-8.0zM68.6 1667.1h8.0v8.4h-8.0zM68.6 1675.2h8.0v8.4h-8.0zM100.6 1683.2h8.0v8.4h-8.0zM100.6 1691.2h8.0v8.4h-8.0zM60.6 1731.4h8.0v8.4h-8.0zM108.6 1747.5h8.0v8.4h-8.0zM108.6 1771.6h8.0v8.4h-8.0zM108.6 1779.6h8.0v8.4h-8.0zM68.6 1819.8h8.0v8.4h-8.0zM140.5 1827.8h8.0v8.4h-8.0zM108.6 1843.9h24.0v8.4h-24.0z"/>
<path fill="#ff9999" d="M84.6 1618.9h8.0v8.4h-8.0zM76.6 1635.0h8.0v8.4h-8.0zM92.6 1643.0h8.0v8.4h-8.0zM68.6 1683.2h8.0v8.4h-8.0zM100.6 1699.3h8.0v8.4h-8.0zM60.6 1739.4h8.0v8.4h-8.0zM108.6 1755.5h8.0v8.4h-8.0zM108.6 1763.5h8.0v8.4h-8.0zM76.6 1827.8h8.0v8.4h-8.0zM84.6 1835.8h8.0v8.4h-8.0zM140.5 1835.8h8.0v8.4h-8.0z"/>
<path fill="#ff9393" d="M84.6 1626.9h8.0v8.4h-8.0zM84.6 1635.0h8.0v8.4h-8.0zM76.6 1643.0h8.0v8.4h-8.0zM92.6 1651.1h8.0v8.4h-8.0zM68.6 1691.2h8.0v8.4h-8.0zM68.6 1699.3h8.0v8.4h-8.0zM100.6 1707.3h8.0v8.4h-8.0zM60.6 1747.5h8.0v8.4h-8.0zM108.6 1795.7h8.0v8.4h-8.0zM116.5 1811.7h8.0v8.4h-8.0zM124.5 1819.8h8.0v8.4h-8.0zM132.5 1827.8h8.0v8.4h-8.0zM132.5 1835.8h8.0v8.4h-8.0z"/>
<path fill="#ff8c8c" d="M84.6 1643.0h8.0v8.4h-8.0zM76.6 1651.1h8.0v8.4h-8.0zM92.6 1659.1h8.0v8.4h-8.0zM60.6 1803.7h8.0v8.4h-8.0z"/>
<path fill="#ff8686" d="M84.6 1651.1h8.0v8.4h-8.0zM76.6 1659.1h8.0v8.4h-8.0zM76.6 1667.1h8.0v8.4h-8.0zM92.6 1667.1h8.0v8.4h-8.0zM92.6 1675.2h8.0v8.4h-8.0zM68.6 1707.3h8.0v8.4h-8.0zM100.6 1715.3h8.0v8.4h-8.0zM60.6 1755.5h8.0v8.4h-8.0zM60.6 1763.5h8.0v8.4h-8.0zM124.5 1835.8h8.0v8.4h-8.0z"/>
<path fill="#ff8080" d="M84.6 1659.1h8.0v8.4h-8.0zM76.6 1675.2h8.0v8.4h-8.0zM92.6 1683.2h8.0v8.4h-8.0zM60.6 1771.6h8.0v8.4h-8.0zM60.6 1779.6h8.0v8.4h-8.0zM108.6 1803.7h8.0v8.4h-8.0zM68.6 1811.7h8.0v8.4h-8.0zM124.5 1827.8h8.0v8.4h-8.0zM92.6 1835.8h8.0v8.4h-8.0zM116.5 1835.8h8.0v8.4h-8.0z"/>
<path fill="#ff7979" d="M84.6 1667.1h8.0v8.4h-8.0zM76.6 1683.2h8.0v8.4h-8.0zM92.6 1691.2h8.0v8.4h-8.0zM68.6 1715.3h8.0v8.4h-8.0zM100.6 1723.4h8.0v8.4h-8.0zM60.6 1787.6h8.0v8.4h-8.0zM60.6 1795.7h8.0v8.4h-8.0zM100.6 1835.8h16.0v8.4h-16.0z"/>
<path fill="#ff7373" d="M84.6 1675.2h8.0v8.4h-8.0zM76.6 1691.2h8.0v8.4h-8.0zM92.6 1699.3h8.0v8.4h-8.0zM68.6 1723.4h8.0v8.4h-8.0zM100.6 1731.4h8.0v8.4h-8.0zM108.6 1811.7h8.0v8.4h-8.0zM76.6 1819.8h8.0v8.4h-8.0zM116.5 1819.8h8.0v8.4h-8.0z"/>
<path fill="#ff6c6c" d="M84.6 1683.2h8.0v8.4h-8.0zM76.6 1699.3h8.0v8.4h-8.0zM84.6 1827.8h8.0v8.4h-8.0zM116.5 1827.8h8.0v8.4h-8.0z"/>
<path fill="#ff6666" d="M84.6 1691.2h8.0v8.4h-8.0zM92.6 1707.3h8.0v8.4h-8.0zM68.6 1731.4h8.0v8.4h-8.0zM100.6 1739.4h8.0v8.4h-8.0z"/>
<path fill="#ff6060" d="M84.6 1699.3h8.0v8.4h-8.0zM76.6 1707.3h8.0v8.4h-8.0zM100.6 1779.6h8.0v8.4h-8.0zM100.6 1787.6h8.0v8.4h-8.0zM108.6 1827.8h8.0v8.4h-8.0z"/>
<path fill="#ff5353" d="M84.6 1707.3h8.0v8.4h-8.0zM76.6 1715.3h8.0v8.4h-8.0zM100.6 1755.5h8.0v8.4h-8.0zM100.6 1763.5h8.0v8.4h-8.0zM100.6 1795.7h8.0v8.4h-8.0zM68.6 1803.7h8.0v8.4h-8.0zM92.6 1827.8h16.0v8.4h-16.0z"/>
<path fill="#ff4040" d="M84.6 1715.3h8.0v8.4h-8.0zM76.6 1723.4h8.0v8.4h-8.0zM68.6 1755.5h8.0v8.4h-8.0zM68.6 1763.5h8.0v8.4h-8.0zM100.6 1811.7h8.0v8.4h-8.0zM100.6 1819.8h8.0v8.4h-8.0z"/>
<path fill="#ff5959" d="M92.6 1715.3h8.0v8.4h-8.0zM68.6 1739.4h8.0v8.4h-8.0zM100.6 1747.5h8.0v8.4h-8.0zM100.6 1771.6h8.0v8.4h-8.0zM108.6 1819.8h8.0v8.4h-8.0z"/>
<path fill="#ff3333" d="M84.6 1723.4h8.0v8.4h-8.0zM76.6 1731.4h8.0v8.4h-8.0zM68.6 1787.6h8.0v8.4h-8.0zM68.6 1795.7h8.0v8.4h-8.0z"/>
<path fill="#ff4646" d="M92.6 1723.4h8.0v8.4h-8.0zM100.6 1803.7h8.0v8.4h-8.0z"/>
<path fill="#ff2020" d="M84.6 1731.4h8.0v8.4h-8.0zM76.6 1739.4h8.0v8.4h-8.0zM92.6 1747.5h8.0v8.4h-8.0zM76.6 1803.7h8.0v8.4h-8.0z"/>
<path fill="#ff3939" d="M92.6 1731.4h8.0v8.4h-8.0zM68.6 1771.6h8.0v8.4h-8.0zM68.6 1779.6h8.0v8.4h-8.0zM92.6 1819.8h8.0v8.4h-8.0z"/>
<path fill="#ff1313" d="M84.6 1739.4h8.0v8.4h-8.0zM76.6 1747.5h8.0v8.4h-8.0zM92.6 1763.5h8.0v8.4h-8.0zM92.6 1771.6h8.0v8.4h-8.0z"/>
<path fill="#ff2d2d" d="M92.6 1739.4h8.0v8.4h-8.0z"/>
<path fill="#ff4c4c" d="M68.6 1747.5h8.0v8.4h-8.0zM76.6 1811.7h8.0v8.4h-8.0zM84.6 1819.8h8.0v8.4h-8.0z"/>
<path fill="#ff0000" d="M84.6 1747.5h8.0v8.4h-8.0zM84.6 1755.5h8.0v8.4h-8.0zM76.6 1763.5h8.0v8.4h-8.0zM84.6 1763.5h8.0v8.4h-8.0zM76.6 1771.6h8.0v8.4h-8.0zM84.6 1771.6h8.0v8.4h-8.0zM76.6 1779.6h8.0v8.4h-8.0zM84.6 1779.6h8.0v8.4h-8.0zM76.6 1787.6h8.0v8.4h-8.0zM84.6 1787.6h8.0v8.4h-8.0zM76.6 1795.7h8.0v8.4h-8.0zM84.6 1795.7h8.0v8.4h-8.0z"/>
<path fill="#ff0606" d="M76.6 1755.5h8.0v8.4h-8.0z"/>
<path fill="#ff0d0d" d="M92.6 1755.5h8.0v8.4h-8.0zM84.6 1803.7h8.0v8.4h-8.0z"/>
<path fill="#ff1919" d="M92.6 1779.6h8.0v8.4h-8.0zM92.6 1787.6h8.0v8.4h-8.0zM92.6 1795.7h8.0v8.4h-8.0zM92.6 1803.7h8.0v8.4h-8.0z"/>
<path fill="#ff2626" d="M84.6 1811.7h16.0v8.4h-16.0z"/>
</g>
<path d="M89.1,1492.3 A42,42 0 0,1 151.4,1455.6 L430.9,1609.7 A43,43 0 0,1 430.7,1685.1 L157.1,1834.1 A46,46 0 0,1 89.1,1793.7 Z" fill="none" stroke="#6a6a6a" stroke-width="1.4" stroke-dasharray="3.2,2.4"/>
<rect x="4.7" y="1402" width="511.3" height="474" fill="none" stroke="#777" stroke-width="2.6"/>
<rect x="546" y="1403" width="511" height="473.5" fill="#fff"/>
<g clip-path="url(#hc1)" shape-rendering="crispEdges">
<rect x="546" y="1403" width="511" height="473.5" fill="#fdf4f5"/>
<path fill="#fff2f2" d="M609.9 1419.1h16.0v8.4h-16.0zM641.8 1419.1h31.9v8.4h-31.9zM601.9 1427.1h8.0v8.4h-8.0zM681.7 1427.1h16.0v8.4h-16.0zM601.9 1435.1h8.0v8.4h-8.0zM689.7 1435.1h8.0v8.4h-8.0zM697.7 1443.1h8.0v8.4h-8.0zM593.9 1451.2h8.0v8.4h-8.0zM697.7 1451.2h8.0v8.4h-8.0zM593.9 1459.2h8.0v8.4h-8.0zM697.7 1459.2h8.0v8.4h-8.0zM593.9 1467.2h8.0v8.4h-8.0zM689.7 1467.2h8.0v8.4h-8.0zM585.9 1475.2h8.0v8.4h-8.0zM673.8 1475.2h16.0v8.4h-16.0zM585.9 1483.3h8.0v8.4h-8.0zM665.8 1483.3h16.0v8.4h-16.0zM585.9 1491.3h8.0v8.4h-8.0zM665.8 1491.3h8.0v8.4h-8.0zM585.9 1499.3h8.0v8.4h-8.0zM673.8 1499.3h8.0v8.4h-8.0zM577.9 1507.3h8.0v8.4h-8.0zM673.8 1507.3h8.0v8.4h-8.0zM577.9 1515.4h8.0v8.4h-8.0zM673.8 1515.4h8.0v8.4h-8.0zM577.9 1523.4h8.0v8.4h-8.0zM673.8 1523.4h8.0v8.4h-8.0zM577.9 1531.4h8.0v8.4h-8.0zM673.8 1531.4h8.0v8.4h-8.0zM577.9 1539.4h8.0v8.4h-8.0zM673.8 1539.4h16.0v8.4h-16.0zM577.9 1547.5h8.0v8.4h-8.0zM673.8 1547.5h8.0v8.4h-8.0zM577.9 1555.5h8.0v8.4h-8.0zM673.8 1555.5h8.0v8.4h-8.0zM577.9 1563.5h8.0v8.4h-8.0zM673.8 1563.5h8.0v8.4h-8.0zM577.9 1571.5h8.0v8.4h-8.0zM673.8 1571.5h8.0v8.4h-8.0zM577.9 1579.6h8.0v8.4h-8.0zM673.8 1579.6h8.0v8.4h-8.0zM577.9 1587.6h8.0v8.4h-8.0zM673.8 1587.6h8.0v8.4h-8.0zM577.9 1595.6h8.0v8.4h-8.0zM673.8 1595.6h16.0v8.4h-16.0zM577.9 1603.6h8.0v8.4h-8.0zM681.7 1603.6h8.0v8.4h-8.0zM577.9 1611.7h8.0v8.4h-8.0zM681.7 1611.7h8.0v8.4h-8.0zM769.6 1611.7h87.8v8.4h-87.8zM570.0 1619.7h8.0v8.4h-8.0zM681.7 1619.7h8.0v8.4h-8.0zM753.6 1619.7h119.8v8.4h-119.8zM570.0 1627.7h8.0v8.4h-8.0zM681.7 1627.7h8.0v8.4h-8.0zM753.6 1627.7h127.8v8.4h-127.8zM577.9 1635.7h8.0v8.4h-8.0zM681.7 1635.7h8.0v8.4h-8.0zM745.6 1635.7h143.7v8.4h-143.7zM577.9 1643.8h8.0v8.4h-8.0zM681.7 1643.8h8.0v8.4h-8.0zM745.6 1643.8h143.7v8.4h-143.7zM577.9 1651.8h8.0v8.4h-8.0zM681.7 1651.8h8.0v8.4h-8.0zM745.6 1651.8h143.7v8.4h-143.7zM577.9 1659.8h8.0v8.4h-8.0zM681.7 1659.8h8.0v8.4h-8.0zM745.6 1659.8h135.7v8.4h-135.7zM577.9 1667.8h8.0v8.4h-8.0zM673.8 1667.8h16.0v8.4h-16.0zM745.6 1667.8h135.7v8.4h-135.7zM577.9 1675.9h8.0v8.4h-8.0zM673.8 1675.9h16.0v8.4h-16.0zM745.6 1675.9h127.8v8.4h-127.8zM577.9 1683.9h8.0v8.4h-8.0zM673.8 1683.9h8.0v8.4h-8.0zM753.6 1683.9h111.8v8.4h-111.8zM577.9 1691.9h8.0v8.4h-8.0zM673.8 1691.9h8.0v8.4h-8.0zM753.6 1691.9h95.8v8.4h-95.8zM577.9 1699.9h8.0v8.4h-8.0zM673.8 1699.9h8.0v8.4h-8.0zM769.6 1699.9h63.9v8.4h-63.9zM577.9 1708.0h8.0v8.4h-8.0zM673.8 1708.0h8.0v8.4h-8.0zM577.9 1716.0h8.0v8.4h-8.0zM673.8 1716.0h8.0v8.4h-8.0zM577.9 1724.0h8.0v8.4h-8.0zM673.8 1724.0h8.0v8.4h-8.0zM577.9 1732.0h8.0v8.4h-8.0zM673.8 1732.0h8.0v8.4h-8.0zM577.9 1740.1h8.0v8.4h-8.0zM673.8 1740.1h8.0v8.4h-8.0zM577.9 1748.1h8.0v8.4h-8.0zM673.8 1748.1h8.0v8.4h-8.0zM577.9 1756.1h8.0v8.4h-8.0zM673.8 1756.1h8.0v8.4h-8.0zM577.9 1764.1h8.0v8.4h-8.0zM673.8 1764.1h8.0v8.4h-8.0zM577.9 1772.2h8.0v8.4h-8.0zM673.8 1772.2h8.0v8.4h-8.0zM577.9 1780.2h8.0v8.4h-8.0zM673.8 1780.2h8.0v8.4h-8.0zM585.9 1788.2h8.0v8.4h-8.0zM585.9 1796.2h8.0v8.4h-8.0zM665.8 1796.2h8.0v8.4h-8.0zM585.9 1804.3h8.0v8.4h-8.0zM665.8 1804.3h8.0v8.4h-8.0zM585.9 1812.3h8.0v8.4h-8.0zM665.8 1812.3h8.0v8.4h-8.0zM593.9 1820.3h8.0v8.4h-8.0zM665.8 1820.3h8.0v8.4h-8.0zM593.9 1828.3h8.0v8.4h-8.0zM657.8 1828.3h8.0v8.4h-8.0zM601.9 1836.4h8.0v8.4h-8.0zM657.8 1836.4h8.0v8.4h-8.0zM601.9 1844.4h8.0v8.4h-8.0zM657.8 1844.4h8.0v8.4h-8.0zM609.9 1852.4h8.0v8.4h-8.0zM657.8 1852.4h8.0v8.4h-8.0zM617.9 1860.4h8.0v8.4h-8.0zM641.8 1860.4h16.0v8.4h-16.0zM625.8 1868.5h16.0v8.4h-16.0z"/>
<path fill="#ffecec" d="M625.8 1419.1h16.0v8.4h-16.0zM609.9 1427.1h8.0v8.4h-8.0zM649.8 1427.1h31.9v8.4h-31.9zM601.9 1443.1h8.0v8.4h-8.0zM689.7 1443.1h8.0v8.4h-8.0zM601.9 1451.2h8.0v8.4h-8.0zM689.7 1451.2h8.0v8.4h-8.0zM689.7 1459.2h8.0v8.4h-8.0zM673.8 1467.2h16.0v8.4h-16.0zM593.9 1475.2h8.0v8.4h-8.0zM665.8 1475.2h8.0v8.4h-8.0zM593.9 1483.3h8.0v8.4h-8.0zM665.8 1499.3h8.0v8.4h-8.0zM585.9 1507.3h8.0v8.4h-8.0zM665.8 1507.3h8.0v8.4h-8.0zM585.9 1515.4h8.0v8.4h-8.0zM665.8 1515.4h8.0v8.4h-8.0zM585.9 1563.5h8.0v8.4h-8.0zM585.9 1571.5h8.0v8.4h-8.0zM665.8 1571.5h8.0v8.4h-8.0zM585.9 1579.6h8.0v8.4h-8.0zM673.8 1603.6h8.0v8.4h-8.0zM673.8 1611.7h8.0v8.4h-8.0zM577.9 1619.7h8.0v8.4h-8.0zM673.8 1619.7h8.0v8.4h-8.0zM577.9 1627.7h8.0v8.4h-8.0zM673.8 1627.7h8.0v8.4h-8.0zM673.8 1635.7h8.0v8.4h-8.0zM673.8 1643.8h8.0v8.4h-8.0zM673.8 1651.8h8.0v8.4h-8.0zM673.8 1659.8h8.0v8.4h-8.0zM585.9 1683.9h8.0v8.4h-8.0zM585.9 1691.9h8.0v8.4h-8.0zM665.8 1691.9h8.0v8.4h-8.0zM585.9 1699.9h8.0v8.4h-8.0zM665.8 1699.9h8.0v8.4h-8.0zM585.9 1708.0h8.0v8.4h-8.0zM665.8 1708.0h8.0v8.4h-8.0zM585.9 1716.0h8.0v8.4h-8.0zM585.9 1724.0h8.0v8.4h-8.0zM585.9 1772.2h8.0v8.4h-8.0zM665.8 1772.2h8.0v8.4h-8.0zM585.9 1780.2h8.0v8.4h-8.0zM665.8 1780.2h8.0v8.4h-8.0zM665.8 1788.2h8.0v8.4h-8.0zM593.9 1804.3h8.0v8.4h-8.0zM593.9 1812.3h8.0v8.4h-8.0zM657.8 1812.3h8.0v8.4h-8.0zM657.8 1820.3h8.0v8.4h-8.0zM601.9 1828.3h8.0v8.4h-8.0zM609.9 1844.4h8.0v8.4h-8.0zM649.8 1844.4h8.0v8.4h-8.0zM617.9 1852.4h8.0v8.4h-8.0zM649.8 1852.4h8.0v8.4h-8.0zM625.8 1860.4h16.0v8.4h-16.0z"/>
<path fill="#ffe6e6" d="M617.9 1427.1h16.0v8.4h-16.0zM641.8 1427.1h8.0v8.4h-8.0zM609.9 1435.1h8.0v8.4h-8.0zM665.8 1435.1h24.0v8.4h-24.0zM609.9 1443.1h8.0v8.4h-8.0zM601.9 1459.2h8.0v8.4h-8.0zM681.7 1459.2h8.0v8.4h-8.0zM601.9 1467.2h8.0v8.4h-8.0zM665.8 1467.2h8.0v8.4h-8.0zM657.8 1475.2h8.0v8.4h-8.0zM657.8 1483.3h8.0v8.4h-8.0zM593.9 1491.3h8.0v8.4h-8.0zM657.8 1491.3h8.0v8.4h-8.0zM593.9 1499.3h8.0v8.4h-8.0zM585.9 1523.4h8.0v8.4h-8.0zM665.8 1523.4h8.0v8.4h-8.0zM585.9 1531.4h8.0v8.4h-8.0zM665.8 1531.4h8.0v8.4h-8.0zM585.9 1539.4h8.0v8.4h-8.0zM665.8 1539.4h8.0v8.4h-8.0zM585.9 1547.5h8.0v8.4h-8.0zM665.8 1547.5h8.0v8.4h-8.0zM585.9 1555.5h8.0v8.4h-8.0zM665.8 1555.5h8.0v8.4h-8.0zM665.8 1563.5h8.0v8.4h-8.0zM665.8 1579.6h8.0v8.4h-8.0zM585.9 1587.6h8.0v8.4h-8.0zM665.8 1587.6h8.0v8.4h-8.0zM585.9 1595.6h8.0v8.4h-8.0zM665.8 1595.6h8.0v8.4h-8.0zM585.9 1603.6h8.0v8.4h-8.0zM665.8 1603.6h8.0v8.4h-8.0zM585.9 1611.7h8.0v8.4h-8.0zM585.9 1635.7h8.0v8.4h-8.0zM585.9 1643.8h8.0v8.4h-8.0zM585.9 1651.8h8.0v8.4h-8.0zM665.8 1651.8h8.0v8.4h-8.0zM585.9 1659.8h8.0v8.4h-8.0zM665.8 1659.8h8.0v8.4h-8.0zM585.9 1667.8h8.0v8.4h-8.0zM665.8 1667.8h8.0v8.4h-8.0zM585.9 1675.9h8.0v8.4h-8.0zM665.8 1675.9h8.0v8.4h-8.0zM665.8 1683.9h8.0v8.4h-8.0zM665.8 1716.0h8.0v8.4h-8.0zM665.8 1724.0h8.0v8.4h-8.0zM585.9 1732.0h8.0v8.4h-8.0zM665.8 1732.0h8.0v8.4h-8.0zM585.9 1740.1h8.0v8.4h-8.0zM665.8 1740.1h8.0v8.4h-8.0zM585.9 1748.1h8.0v8.4h-8.0zM665.8 1748.1h8.0v8.4h-8.0zM585.9 1756.1h8.0v8.4h-8.0zM665.8 1756.1h8.0v8.4h-8.0zM585.9 1764.1h8.0v8.4h-8.0zM665.8 1764.1h8.0v8.4h-8.0zM593.9 1796.2h8.0v8.4h-8.0zM657.8 1796.2h8.0v8.4h-8.0zM657.8 1804.3h8.0v8.4h-8.0zM601.9 1820.3h8.0v8.4h-8.0zM649.8 1828.3h8.0v8.4h-8.0zM609.9 1836.4h8.0v8.4h-8.0zM649.8 1836.4h8.0v8.4h-8.0zM617.9 1844.4h8.0v8.4h-8.0zM641.8 1844.4h8.0v8.4h-8.0zM625.8 1852.4h24.0v8.4h-24.0z"/>
<path fill="#ffdfdf" d="M633.8 1427.1h8.0v8.4h-8.0zM617.9 1435.1h8.0v8.4h-8.0zM649.8 1435.1h16.0v8.4h-16.0zM681.7 1443.1h8.0v8.4h-8.0zM609.9 1451.2h8.0v8.4h-8.0zM681.7 1451.2h8.0v8.4h-8.0zM665.8 1459.2h16.0v8.4h-16.0zM657.8 1467.2h8.0v8.4h-8.0zM601.9 1475.2h8.0v8.4h-8.0zM657.8 1499.3h8.0v8.4h-8.0zM593.9 1507.3h8.0v8.4h-8.0zM665.8 1611.7h8.0v8.4h-8.0zM585.9 1619.7h8.0v8.4h-8.0zM665.8 1619.7h8.0v8.4h-8.0zM585.9 1627.7h8.0v8.4h-8.0zM665.8 1627.7h8.0v8.4h-8.0zM665.8 1635.7h8.0v8.4h-8.0zM665.8 1643.8h8.0v8.4h-8.0zM593.9 1780.2h8.0v8.4h-8.0zM593.9 1788.2h8.0v8.4h-8.0zM657.8 1788.2h8.0v8.4h-8.0zM601.9 1812.3h8.0v8.4h-8.0zM649.8 1820.3h8.0v8.4h-8.0zM609.9 1828.3h8.0v8.4h-8.0zM617.9 1836.4h8.0v8.4h-8.0zM641.8 1836.4h8.0v8.4h-8.0zM625.8 1844.4h16.0v8.4h-16.0z"/>
<path fill="#ffd9d9" d="M625.8 1435.1h24.0v8.4h-24.0zM617.9 1443.1h8.0v8.4h-8.0zM657.8 1443.1h24.0v8.4h-24.0zM657.8 1451.2h24.0v8.4h-24.0zM609.9 1459.2h8.0v8.4h-8.0zM657.8 1459.2h8.0v8.4h-8.0zM601.9 1483.3h8.0v8.4h-8.0zM657.8 1507.3h8.0v8.4h-8.0zM593.9 1515.4h8.0v8.4h-8.0zM657.8 1515.4h8.0v8.4h-8.0zM593.9 1571.5h8.0v8.4h-8.0zM593.9 1691.9h8.0v8.4h-8.0zM593.9 1699.9h8.0v8.4h-8.0zM657.8 1699.9h8.0v8.4h-8.0zM593.9 1708.0h8.0v8.4h-8.0zM657.8 1708.0h8.0v8.4h-8.0zM593.9 1716.0h8.0v8.4h-8.0zM593.9 1772.2h8.0v8.4h-8.0zM657.8 1772.2h8.0v8.4h-8.0zM657.8 1780.2h8.0v8.4h-8.0zM601.9 1804.3h8.0v8.4h-8.0zM649.8 1812.3h8.0v8.4h-8.0zM641.8 1828.3h8.0v8.4h-8.0zM625.8 1836.4h16.0v8.4h-16.0z"/>
<path fill="#ffcccc" d="M625.8 1443.1h24.0v8.4h-24.0zM617.9 1451.2h8.0v8.4h-8.0zM617.9 1459.2h8.0v8.4h-8.0zM609.9 1475.2h8.0v8.4h-8.0zM601.9 1499.3h8.0v8.4h-8.0zM649.8 1499.3h8.0v8.4h-8.0zM593.9 1531.4h8.0v8.4h-8.0zM657.8 1531.4h8.0v8.4h-8.0zM593.9 1539.4h8.0v8.4h-8.0zM657.8 1539.4h8.0v8.4h-8.0zM593.9 1547.5h8.0v8.4h-8.0zM657.8 1547.5h8.0v8.4h-8.0zM657.8 1587.6h8.0v8.4h-8.0zM593.9 1595.6h8.0v8.4h-8.0zM657.8 1595.6h8.0v8.4h-8.0zM593.9 1603.6h8.0v8.4h-8.0zM593.9 1643.8h8.0v8.4h-8.0zM593.9 1651.8h8.0v8.4h-8.0zM657.8 1651.8h8.0v8.4h-8.0zM593.9 1659.8h8.0v8.4h-8.0zM657.8 1659.8h8.0v8.4h-8.0zM657.8 1667.8h8.0v8.4h-8.0zM657.8 1740.1h8.0v8.4h-8.0zM593.9 1748.1h8.0v8.4h-8.0zM657.8 1748.1h8.0v8.4h-8.0zM593.9 1756.1h8.0v8.4h-8.0zM657.8 1756.1h8.0v8.4h-8.0zM601.9 1796.2h8.0v8.4h-8.0zM649.8 1796.2h8.0v8.4h-8.0zM609.9 1812.3h8.0v8.4h-8.0zM641.8 1820.3h8.0v8.4h-8.0zM625.8 1828.3h16.0v8.4h-16.0z"/>
<path fill="#ffd2d2" d="M649.8 1443.1h8.0v8.4h-8.0zM649.8 1451.2h8.0v8.4h-8.0zM649.8 1459.2h8.0v8.4h-8.0zM609.9 1467.2h8.0v8.4h-8.0zM649.8 1467.2h8.0v8.4h-8.0zM649.8 1475.2h8.0v8.4h-8.0zM649.8 1483.3h8.0v8.4h-8.0zM601.9 1491.3h8.0v8.4h-8.0zM649.8 1491.3h8.0v8.4h-8.0zM593.9 1523.4h8.0v8.4h-8.0zM657.8 1523.4h8.0v8.4h-8.0zM593.9 1555.5h8.0v8.4h-8.0zM657.8 1555.5h8.0v8.4h-8.0zM593.9 1563.5h8.0v8.4h-8.0zM657.8 1563.5h8.0v8.4h-8.0zM657.8 1571.5h8.0v8.4h-8.0zM593.9 1579.6h8.0v8.4h-8.0zM657.8 1579.6h8.0v8.4h-8.0zM593.9 1587.6h8.0v8.4h-8.0zM593.9 1667.8h8.0v8.4h-8.0zM593.9 1675.9h8.0v8.4h-8.0zM657.8 1675.9h8.0v8.4h-8.0zM593.9 1683.9h8.0v8.4h-8.0zM657.8 1683.9h8.0v8.4h-8.0zM657.8 1691.9h8.0v8.4h-8.0zM657.8 1716.0h8.0v8.4h-8.0zM593.9 1724.0h8.0v8.4h-8.0zM657.8 1724.0h8.0v8.4h-8.0zM593.9 1732.0h8.0v8.4h-8.0zM657.8 1732.0h8.0v8.4h-8.0zM593.9 1740.1h8.0v8.4h-8.0zM593.9 1764.1h8.0v8.4h-8.0zM657.8 1764.1h8.0v8.4h-8.0zM649.8 1804.3h8.0v8.4h-8.0zM609.9 1820.3h8.0v8.4h-8.0zM617.9 1828.3h8.0v8.4h-8.0z"/>
<path fill="#ffc6c6" d="M625.8 1451.2h8.0v8.4h-8.0zM641.8 1451.2h8.0v8.4h-8.0zM641.8 1459.2h8.0v8.4h-8.0zM657.8 1603.6h8.0v8.4h-8.0zM593.9 1611.7h8.0v8.4h-8.0zM657.8 1611.7h8.0v8.4h-8.0zM593.9 1619.7h8.0v8.4h-8.0zM593.9 1627.7h8.0v8.4h-8.0zM657.8 1627.7h8.0v8.4h-8.0zM593.9 1635.7h8.0v8.4h-8.0zM657.8 1635.7h8.0v8.4h-8.0zM657.8 1643.8h8.0v8.4h-8.0zM601.9 1788.2h8.0v8.4h-8.0zM649.8 1788.2h8.0v8.4h-8.0zM641.8 1812.3h8.0v8.4h-8.0zM617.9 1820.3h8.0v8.4h-8.0z"/>
<path fill="#ffbfbf" d="M633.8 1451.2h8.0v8.4h-8.0zM625.8 1459.2h8.0v8.4h-8.0zM617.9 1467.2h8.0v8.4h-8.0zM641.8 1467.2h8.0v8.4h-8.0zM641.8 1475.2h8.0v8.4h-8.0zM609.9 1483.3h8.0v8.4h-8.0zM641.8 1483.3h8.0v8.4h-8.0zM601.9 1507.3h8.0v8.4h-8.0zM649.8 1507.3h8.0v8.4h-8.0zM657.8 1619.7h8.0v8.4h-8.0zM601.9 1780.2h8.0v8.4h-8.0zM649.8 1780.2h8.0v8.4h-8.0zM609.9 1804.3h8.0v8.4h-8.0zM633.8 1820.3h8.0v8.4h-8.0z"/>
<path fill="#ffb9b9" d="M633.8 1459.2h8.0v8.4h-8.0zM633.8 1467.2h8.0v8.4h-8.0zM609.9 1491.3h8.0v8.4h-8.0zM641.8 1491.3h8.0v8.4h-8.0zM601.9 1515.4h8.0v8.4h-8.0zM601.9 1699.9h8.0v8.4h-8.0zM649.8 1699.9h8.0v8.4h-8.0zM601.9 1708.0h8.0v8.4h-8.0zM601.9 1772.2h8.0v8.4h-8.0zM641.8 1804.3h8.0v8.4h-8.0zM617.9 1812.3h8.0v8.4h-8.0zM625.8 1820.3h8.0v8.4h-8.0z"/>
<path fill="#ffb2b2" d="M625.8 1467.2h8.0v8.4h-8.0zM617.9 1475.2h8.0v8.4h-8.0zM633.8 1475.2h8.0v8.4h-8.0zM649.8 1515.4h8.0v8.4h-8.0zM601.9 1571.5h8.0v8.4h-8.0zM649.8 1571.5h8.0v8.4h-8.0zM601.9 1683.9h8.0v8.4h-8.0zM601.9 1691.9h8.0v8.4h-8.0zM649.8 1691.9h8.0v8.4h-8.0zM649.8 1708.0h8.0v8.4h-8.0zM601.9 1716.0h8.0v8.4h-8.0zM649.8 1716.0h8.0v8.4h-8.0zM649.8 1772.2h8.0v8.4h-8.0zM625.8 1812.3h16.0v8.4h-16.0z"/>
<path fill="#ffacac" d="M625.8 1475.2h8.0v8.4h-8.0zM617.9 1483.3h8.0v8.4h-8.0zM609.9 1499.3h8.0v8.4h-8.0zM641.8 1499.3h8.0v8.4h-8.0zM601.9 1523.4h8.0v8.4h-8.0zM649.8 1523.4h8.0v8.4h-8.0zM601.9 1555.5h8.0v8.4h-8.0zM601.9 1563.5h8.0v8.4h-8.0zM649.8 1563.5h8.0v8.4h-8.0zM601.9 1579.6h8.0v8.4h-8.0zM649.8 1579.6h8.0v8.4h-8.0zM601.9 1675.9h8.0v8.4h-8.0zM649.8 1675.9h8.0v8.4h-8.0zM649.8 1683.9h8.0v8.4h-8.0zM601.9 1724.0h8.0v8.4h-8.0zM649.8 1724.0h8.0v8.4h-8.0zM601.9 1732.0h8.0v8.4h-8.0zM601.9 1764.1h8.0v8.4h-8.0zM649.8 1764.1h8.0v8.4h-8.0zM609.9 1796.2h8.0v8.4h-8.0zM641.8 1796.2h8.0v8.4h-8.0z"/>
<path fill="#ff9f9f" d="M625.8 1483.3h8.0v8.4h-8.0zM617.9 1491.3h8.0v8.4h-8.0zM633.8 1491.3h8.0v8.4h-8.0zM609.9 1507.3h8.0v8.4h-8.0zM601.9 1531.4h8.0v8.4h-8.0zM649.8 1531.4h8.0v8.4h-8.0zM601.9 1539.4h8.0v8.4h-8.0zM649.8 1547.5h8.0v8.4h-8.0zM649.8 1595.6h8.0v8.4h-8.0zM601.9 1603.6h8.0v8.4h-8.0zM601.9 1651.8h8.0v8.4h-8.0zM649.8 1651.8h8.0v8.4h-8.0zM649.8 1659.8h8.0v8.4h-8.0zM649.8 1748.1h8.0v8.4h-8.0zM609.9 1788.2h8.0v8.4h-8.0zM641.8 1788.2h8.0v8.4h-8.0z"/>
<path fill="#ffa6a6" d="M633.8 1483.3h8.0v8.4h-8.0zM601.9 1547.5h8.0v8.4h-8.0zM649.8 1555.5h8.0v8.4h-8.0zM601.9 1587.6h8.0v8.4h-8.0zM649.8 1587.6h8.0v8.4h-8.0zM601.9 1595.6h8.0v8.4h-8.0zM601.9 1659.8h8.0v8.4h-8.0zM601.9 1667.8h8.0v8.4h-8.0zM649.8 1667.8h8.0v8.4h-8.0zM649.8 1732.0h8.0v8.4h-8.0zM601.9 1740.1h8.0v8.4h-8.0zM649.8 1740.1h8.0v8.4h-8.0zM601.9 1748.1h8.0v8.4h-8.0zM601.9 1756.1h8.0v8.4h-8.0zM649.8 1756.1h8.0v8.4h-8.0zM617.9 1804.3h8.0v8.4h-8.0zM633.8 1804.3h8.0v8.4h-8.0z"/>
<path fill="#ff9393" d="M625.8 1491.3h8.0v8.4h-8.0zM617.9 1499.3h8.0v8.4h-8.0zM633.8 1499.3h8.0v8.4h-8.0zM649.8 1611.7h8.0v8.4h-8.0zM601.9 1619.7h8.0v8.4h-8.0zM601.9 1627.7h8.0v8.4h-8.0zM649.8 1627.7h8.0v8.4h-8.0zM649.8 1635.7h8.0v8.4h-8.0zM641.8 1780.2h8.0v8.4h-8.0zM617.9 1796.2h8.0v8.4h-8.0zM633.8 1796.2h8.0v8.4h-8.0z"/>
<path fill="#ff8686" d="M625.8 1499.3h8.0v8.4h-8.0zM641.8 1515.4h8.0v8.4h-8.0zM609.9 1571.5h8.0v8.4h-8.0zM609.9 1691.9h8.0v8.4h-8.0zM641.8 1691.9h8.0v8.4h-8.0zM609.9 1708.0h8.0v8.4h-8.0zM641.8 1708.0h8.0v8.4h-8.0zM609.9 1772.2h8.0v8.4h-8.0zM641.8 1772.2h8.0v8.4h-8.0zM625.8 1796.2h8.0v8.4h-8.0z"/>
<path fill="#ff7979" d="M617.9 1507.3h8.0v8.4h-8.0zM633.8 1507.3h8.0v8.4h-8.0zM609.9 1523.4h8.0v8.4h-8.0zM641.8 1523.4h8.0v8.4h-8.0zM609.9 1563.5h8.0v8.4h-8.0zM641.8 1563.5h8.0v8.4h-8.0zM609.9 1579.6h8.0v8.4h-8.0zM641.8 1579.6h8.0v8.4h-8.0zM609.9 1675.9h8.0v8.4h-8.0zM609.9 1724.0h8.0v8.4h-8.0zM641.8 1724.0h8.0v8.4h-8.0zM609.9 1764.1h8.0v8.4h-8.0zM641.8 1764.1h8.0v8.4h-8.0z"/>
<path fill="#ff6c6c" d="M625.8 1507.3h8.0v8.4h-8.0zM609.9 1547.5h8.0v8.4h-8.0zM641.8 1587.6h8.0v8.4h-8.0zM609.9 1659.8h8.0v8.4h-8.0zM641.8 1667.8h8.0v8.4h-8.0zM641.8 1740.1h8.0v8.4h-8.0zM609.9 1748.1h8.0v8.4h-8.0zM609.9 1756.1h8.0v8.4h-8.0zM641.8 1756.1h8.0v8.4h-8.0z"/>
<path fill="#ff9999" d="M641.8 1507.3h8.0v8.4h-8.0zM649.8 1539.4h8.0v8.4h-8.0zM649.8 1603.6h8.0v8.4h-8.0zM601.9 1611.7h8.0v8.4h-8.0zM601.9 1635.7h8.0v8.4h-8.0zM601.9 1643.8h8.0v8.4h-8.0zM649.8 1643.8h8.0v8.4h-8.0zM609.9 1780.2h8.0v8.4h-8.0zM625.8 1804.3h8.0v8.4h-8.0z"/>
<path fill="#ff8c8c" d="M609.9 1515.4h8.0v8.4h-8.0zM649.8 1619.7h8.0v8.4h-8.0zM609.9 1699.9h8.0v8.4h-8.0zM641.8 1699.9h8.0v8.4h-8.0z"/>
<path fill="#ff6060" d="M617.9 1515.4h8.0v8.4h-8.0zM633.8 1515.4h8.0v8.4h-8.0zM641.8 1531.4h8.0v8.4h-8.0zM609.9 1539.4h8.0v8.4h-8.0zM641.8 1539.4h8.0v8.4h-8.0zM609.9 1603.6h8.0v8.4h-8.0zM641.8 1603.6h8.0v8.4h-8.0zM609.9 1643.8h8.0v8.4h-8.0zM641.8 1651.8h8.0v8.4h-8.0zM617.9 1708.0h8.0v8.4h-8.0zM617.9 1772.2h8.0v8.4h-8.0zM633.8 1772.2h8.0v8.4h-8.0zM625.8 1780.2h8.0v8.4h-8.0z"/>
<path fill="#ff4c4c" d="M625.8 1515.4h8.0v8.4h-8.0zM617.9 1563.5h8.0v8.4h-8.0zM633.8 1563.5h8.0v8.4h-8.0zM617.9 1579.6h8.0v8.4h-8.0zM609.9 1619.7h8.0v8.4h-8.0zM641.8 1619.7h8.0v8.4h-8.0zM641.8 1627.7h8.0v8.4h-8.0zM633.8 1683.9h8.0v8.4h-8.0zM625.8 1708.0h8.0v8.4h-8.0zM617.9 1724.0h8.0v8.4h-8.0zM633.8 1724.0h8.0v8.4h-8.0zM617.9 1764.1h8.0v8.4h-8.0zM633.8 1764.1h8.0v8.4h-8.0zM625.8 1772.2h8.0v8.4h-8.0z"/>
<path fill="#ff4646" d="M617.9 1523.4h8.0v8.4h-8.0zM633.8 1523.4h8.0v8.4h-8.0zM625.8 1571.5h8.0v8.4h-8.0zM633.8 1579.6h8.0v8.4h-8.0zM617.9 1675.9h8.0v8.4h-8.0zM633.8 1675.9h8.0v8.4h-8.0zM625.8 1691.9h8.0v8.4h-8.0zM617.9 1732.0h8.0v8.4h-8.0z"/>
<path fill="#ff3333" d="M625.8 1523.4h8.0v8.4h-8.0zM617.9 1547.5h8.0v8.4h-8.0zM633.8 1547.5h8.0v8.4h-8.0zM617.9 1595.6h8.0v8.4h-8.0zM633.8 1595.6h8.0v8.4h-8.0zM617.9 1659.8h8.0v8.4h-8.0zM633.8 1659.8h8.0v8.4h-8.0zM625.8 1675.9h8.0v8.4h-8.0zM617.9 1748.1h8.0v8.4h-8.0zM633.8 1748.1h8.0v8.4h-8.0z"/>
<path fill="#ff6666" d="M609.9 1531.4h8.0v8.4h-8.0zM641.8 1547.5h8.0v8.4h-8.0zM609.9 1595.6h8.0v8.4h-8.0zM641.8 1595.6h8.0v8.4h-8.0zM609.9 1651.8h8.0v8.4h-8.0zM641.8 1659.8h8.0v8.4h-8.0zM617.9 1699.9h8.0v8.4h-8.0zM633.8 1699.9h8.0v8.4h-8.0zM641.8 1748.1h8.0v8.4h-8.0z"/>
<path fill="#ff2d2d" d="M617.9 1531.4h8.0v8.4h-8.0zM633.8 1531.4h8.0v8.4h-8.0zM625.8 1555.5h8.0v8.4h-8.0zM617.9 1651.8h8.0v8.4h-8.0zM625.8 1732.0h8.0v8.4h-8.0z"/>
<path fill="#ff1313" d="M625.8 1531.4h8.0v8.4h-8.0zM625.8 1539.4h8.0v8.4h-8.0zM617.9 1627.7h8.0v8.4h-8.0zM625.8 1651.8h8.0v8.4h-8.0z"/>
<path fill="#f2f2ff" d="M849.4 1531.4h31.9v8.4h-31.9zM841.4 1539.4h8.0v8.4h-8.0zM889.3 1539.4h16.0v8.4h-16.0zM841.4 1547.5h8.0v8.4h-8.0zM905.3 1547.5h8.0v8.4h-8.0zM841.4 1555.5h8.0v8.4h-8.0zM913.3 1555.5h8.0v8.4h-8.0zM849.4 1563.5h8.0v8.4h-8.0zM913.3 1563.5h8.0v8.4h-8.0zM857.4 1571.5h8.0v8.4h-8.0zM921.3 1571.5h8.0v8.4h-8.0zM865.4 1579.6h8.0v8.4h-8.0zM921.3 1579.6h8.0v8.4h-8.0zM881.3 1587.6h16.0v8.4h-16.0zM913.3 1587.6h8.0v8.4h-8.0zM969.2 1611.7h8.0v8.4h-8.0zM1001.1 1611.7h16.0v8.4h-16.0zM961.2 1619.7h8.0v8.4h-8.0zM953.2 1627.7h8.0v8.4h-8.0zM1017.1 1627.7h8.0v8.4h-8.0zM945.2 1643.8h8.0v8.4h-8.0zM937.2 1651.8h8.0v8.4h-8.0zM929.2 1659.8h8.0v8.4h-8.0zM1017.1 1659.8h8.0v8.4h-8.0zM1017.1 1667.8h8.0v8.4h-8.0zM905.3 1675.9h8.0v8.4h-8.0zM1017.1 1675.9h8.0v8.4h-8.0zM897.3 1683.9h8.0v8.4h-8.0zM1009.1 1683.9h8.0v8.4h-8.0zM1009.1 1691.9h8.0v8.4h-8.0zM873.4 1699.9h8.0v8.4h-8.0zM993.1 1699.9h8.0v8.4h-8.0zM865.4 1708.0h8.0v8.4h-8.0zM977.2 1708.0h16.0v8.4h-16.0zM857.4 1716.0h8.0v8.4h-8.0zM969.2 1716.0h8.0v8.4h-8.0zM849.4 1724.0h8.0v8.4h-8.0zM945.2 1724.0h16.0v8.4h-16.0zM841.4 1732.0h8.0v8.4h-8.0zM921.3 1732.0h16.0v8.4h-16.0zM833.4 1740.1h8.0v8.4h-8.0zM905.3 1740.1h8.0v8.4h-8.0zM825.5 1748.1h8.0v8.4h-8.0zM889.3 1748.1h8.0v8.4h-8.0zM825.5 1756.1h8.0v8.4h-8.0zM873.4 1756.1h8.0v8.4h-8.0zM817.5 1764.1h16.0v8.4h-16.0zM849.4 1764.1h16.0v8.4h-16.0zM825.5 1772.2h24.0v8.4h-24.0z"/>
<path fill="#ff2626" d="M617.9 1539.4h8.0v8.4h-8.0zM633.8 1539.4h8.0v8.4h-8.0zM625.8 1587.6h8.0v8.4h-8.0zM617.9 1603.6h8.0v8.4h-8.0zM633.8 1603.6h8.0v8.4h-8.0zM633.8 1651.8h8.0v8.4h-8.0zM625.8 1667.8h8.0v8.4h-8.0zM625.8 1740.1h8.0v8.4h-8.0zM625.8 1756.1h8.0v8.4h-8.0z"/>
<path fill="#ececff" d="M849.4 1539.4h39.9v8.4h-39.9zM849.4 1547.5h8.0v8.4h-8.0zM897.3 1547.5h8.0v8.4h-8.0zM849.4 1555.5h8.0v8.4h-8.0zM905.3 1555.5h8.0v8.4h-8.0zM857.4 1563.5h8.0v8.4h-8.0zM865.4 1571.5h8.0v8.4h-8.0zM913.3 1571.5h8.0v8.4h-8.0zM873.4 1579.6h8.0v8.4h-8.0zM913.3 1579.6h8.0v8.4h-8.0zM897.3 1587.6h16.0v8.4h-16.0zM977.2 1611.7h24.0v8.4h-24.0zM1009.1 1619.7h8.0v8.4h-8.0zM953.2 1635.7h8.0v8.4h-8.0zM1017.1 1635.7h8.0v8.4h-8.0zM1017.1 1643.8h8.0v8.4h-8.0zM1017.1 1651.8h8.0v8.4h-8.0zM921.3 1667.8h8.0v8.4h-8.0zM913.3 1675.9h8.0v8.4h-8.0zM889.3 1691.9h8.0v8.4h-8.0zM1001.1 1691.9h8.0v8.4h-8.0zM881.3 1699.9h8.0v8.4h-8.0zM985.1 1699.9h8.0v8.4h-8.0zM969.2 1708.0h8.0v8.4h-8.0zM953.2 1716.0h16.0v8.4h-16.0zM937.2 1724.0h8.0v8.4h-8.0zM913.3 1732.0h8.0v8.4h-8.0zM841.4 1740.1h8.0v8.4h-8.0zM897.3 1740.1h8.0v8.4h-8.0zM833.4 1748.1h8.0v8.4h-8.0zM881.3 1748.1h8.0v8.4h-8.0zM833.4 1756.1h8.0v8.4h-8.0zM857.4 1756.1h16.0v8.4h-16.0zM833.4 1764.1h16.0v8.4h-16.0z"/>
<path fill="#ff2020" d="M625.8 1547.5h8.0v8.4h-8.0zM617.9 1643.8h8.0v8.4h-8.0zM633.8 1643.8h8.0v8.4h-8.0zM625.8 1659.8h8.0v8.4h-8.0zM625.8 1748.1h8.0v8.4h-8.0z"/>
<path fill="#e6e6ff" d="M857.4 1547.5h8.0v8.4h-8.0zM889.3 1547.5h8.0v8.4h-8.0zM857.4 1555.5h8.0v8.4h-8.0zM905.3 1563.5h8.0v8.4h-8.0zM905.3 1571.5h8.0v8.4h-8.0zM897.3 1579.6h16.0v8.4h-16.0zM969.2 1619.7h8.0v8.4h-8.0zM961.2 1627.7h8.0v8.4h-8.0zM953.2 1643.8h8.0v8.4h-8.0zM945.2 1651.8h8.0v8.4h-8.0zM937.2 1659.8h8.0v8.4h-8.0zM1009.1 1667.8h8.0v8.4h-8.0zM1009.1 1675.9h8.0v8.4h-8.0zM905.3 1683.9h8.0v8.4h-8.0zM993.1 1691.9h8.0v8.4h-8.0zM873.4 1708.0h8.0v8.4h-8.0zM865.4 1716.0h8.0v8.4h-8.0zM857.4 1724.0h8.0v8.4h-8.0zM929.2 1724.0h8.0v8.4h-8.0zM849.4 1732.0h8.0v8.4h-8.0zM905.3 1732.0h8.0v8.4h-8.0zM889.3 1740.1h8.0v8.4h-8.0zM841.4 1748.1h16.0v8.4h-16.0zM865.4 1748.1h16.0v8.4h-16.0zM841.4 1756.1h16.0v8.4h-16.0z"/>
<path fill="#dfdfff" d="M865.4 1547.5h24.0v8.4h-24.0zM865.4 1555.5h8.0v8.4h-8.0zM897.3 1555.5h8.0v8.4h-8.0zM865.4 1563.5h8.0v8.4h-8.0zM873.4 1571.5h8.0v8.4h-8.0zM881.3 1579.6h16.0v8.4h-16.0zM1001.1 1619.7h8.0v8.4h-8.0zM1009.1 1627.7h8.0v8.4h-8.0zM1009.1 1659.8h8.0v8.4h-8.0zM929.2 1667.8h8.0v8.4h-8.0zM1001.1 1683.9h8.0v8.4h-8.0zM897.3 1691.9h8.0v8.4h-8.0zM977.2 1699.9h8.0v8.4h-8.0zM961.2 1708.0h8.0v8.4h-8.0zM945.2 1716.0h8.0v8.4h-8.0zM921.3 1724.0h8.0v8.4h-8.0zM857.4 1732.0h8.0v8.4h-8.0zM897.3 1732.0h8.0v8.4h-8.0zM849.4 1740.1h16.0v8.4h-16.0zM881.3 1740.1h8.0v8.4h-8.0zM857.4 1748.1h8.0v8.4h-8.0z"/>
<path fill="#ff7373" d="M609.9 1555.5h8.0v8.4h-8.0zM641.8 1555.5h8.0v8.4h-8.0zM609.9 1587.6h8.0v8.4h-8.0zM609.9 1667.8h8.0v8.4h-8.0zM641.8 1675.9h8.0v8.4h-8.0zM609.9 1732.0h8.0v8.4h-8.0zM641.8 1732.0h8.0v8.4h-8.0zM609.9 1740.1h8.0v8.4h-8.0zM617.9 1780.2h8.0v8.4h-8.0zM633.8 1780.2h8.0v8.4h-8.0zM625.8 1788.2h8.0v8.4h-8.0z"/>
<path fill="#ff4040" d="M617.9 1555.5h8.0v8.4h-8.0zM633.8 1555.5h8.0v8.4h-8.0zM617.9 1587.6h8.0v8.4h-8.0zM633.8 1587.6h8.0v8.4h-8.0zM617.9 1667.8h8.0v8.4h-8.0zM625.8 1683.9h8.0v8.4h-8.0zM625.8 1716.0h8.0v8.4h-8.0zM633.8 1732.0h8.0v8.4h-8.0z"/>
<path fill="#d9d9ff" d="M873.4 1555.5h8.0v8.4h-8.0zM873.4 1563.5h8.0v8.4h-8.0zM897.3 1563.5h8.0v8.4h-8.0zM897.3 1571.5h8.0v8.4h-8.0zM977.2 1619.7h8.0v8.4h-8.0zM993.1 1619.7h8.0v8.4h-8.0zM961.2 1635.7h8.0v8.4h-8.0zM1009.1 1635.7h8.0v8.4h-8.0zM1009.1 1651.8h8.0v8.4h-8.0zM921.3 1675.9h8.0v8.4h-8.0zM985.1 1691.9h8.0v8.4h-8.0zM889.3 1699.9h8.0v8.4h-8.0zM881.3 1708.0h8.0v8.4h-8.0zM873.4 1716.0h8.0v8.4h-8.0zM937.2 1716.0h8.0v8.4h-8.0zM865.4 1724.0h8.0v8.4h-8.0zM913.3 1724.0h8.0v8.4h-8.0zM865.4 1732.0h8.0v8.4h-8.0zM889.3 1732.0h8.0v8.4h-8.0zM865.4 1740.1h16.0v8.4h-16.0z"/>
<path fill="#d2d2ff" d="M881.3 1555.5h16.0v8.4h-16.0zM881.3 1571.5h16.0v8.4h-16.0zM985.1 1619.7h8.0v8.4h-8.0zM969.2 1627.7h8.0v8.4h-8.0zM1009.1 1643.8h8.0v8.4h-8.0zM937.2 1667.8h8.0v8.4h-8.0zM1001.1 1675.9h8.0v8.4h-8.0zM913.3 1683.9h8.0v8.4h-8.0zM969.2 1699.9h8.0v8.4h-8.0zM953.2 1708.0h8.0v8.4h-8.0zM929.2 1716.0h8.0v8.4h-8.0zM873.4 1724.0h8.0v8.4h-8.0zM905.3 1724.0h8.0v8.4h-8.0zM873.4 1732.0h16.0v8.4h-16.0z"/>
<path fill="#ff3939" d="M625.8 1563.5h8.0v8.4h-8.0zM625.8 1579.6h8.0v8.4h-8.0zM633.8 1667.8h8.0v8.4h-8.0zM625.8 1724.0h8.0v8.4h-8.0zM617.9 1740.1h8.0v8.4h-8.0zM633.8 1740.1h8.0v8.4h-8.0zM617.9 1756.1h8.0v8.4h-8.0zM633.8 1756.1h8.0v8.4h-8.0zM625.8 1764.1h8.0v8.4h-8.0z"/>
<path fill="#ccccff" d="M881.3 1563.5h16.0v8.4h-16.0zM1001.1 1627.7h8.0v8.4h-8.0zM953.2 1651.8h8.0v8.4h-8.0zM945.2 1659.8h8.0v8.4h-8.0zM993.1 1683.9h8.0v8.4h-8.0zM905.3 1691.9h8.0v8.4h-8.0zM897.3 1699.9h8.0v8.4h-8.0zM889.3 1708.0h8.0v8.4h-8.0zM881.3 1716.0h8.0v8.4h-8.0zM881.3 1724.0h8.0v8.4h-8.0zM897.3 1724.0h8.0v8.4h-8.0z"/>
<path fill="#ff5959" d="M617.9 1571.5h8.0v8.4h-8.0zM609.9 1611.7h8.0v8.4h-8.0zM609.9 1635.7h8.0v8.4h-8.0zM641.8 1643.8h8.0v8.4h-8.0zM617.9 1691.9h8.0v8.4h-8.0zM633.8 1691.9h8.0v8.4h-8.0zM633.8 1708.0h8.0v8.4h-8.0z"/>
<path fill="#ff5353" d="M633.8 1571.5h8.0v8.4h-8.0zM641.8 1611.7h8.0v8.4h-8.0zM609.9 1627.7h8.0v8.4h-8.0zM641.8 1635.7h8.0v8.4h-8.0zM617.9 1683.9h8.0v8.4h-8.0zM625.8 1699.9h8.0v8.4h-8.0zM617.9 1716.0h8.0v8.4h-8.0zM633.8 1716.0h8.0v8.4h-8.0z"/>
<path fill="#ff8080" d="M641.8 1571.5h8.0v8.4h-8.0zM609.9 1683.9h8.0v8.4h-8.0zM641.8 1683.9h8.0v8.4h-8.0zM609.9 1716.0h8.0v8.4h-8.0zM641.8 1716.0h8.0v8.4h-8.0zM617.9 1788.2h8.0v8.4h-8.0zM633.8 1788.2h8.0v8.4h-8.0z"/>
<path fill="#ff1919" d="M625.8 1595.6h8.0v8.4h-8.0zM617.9 1611.7h8.0v8.4h-8.0zM633.8 1611.7h8.0v8.4h-8.0zM617.9 1635.7h8.0v8.4h-8.0zM633.8 1635.7h8.0v8.4h-8.0z"/>
<path fill="#ff0d0d" d="M625.8 1603.6h8.0v8.4h-8.0zM617.9 1619.7h8.0v8.4h-8.0zM633.8 1619.7h8.0v8.4h-8.0zM633.8 1627.7h8.0v8.4h-8.0zM625.8 1643.8h8.0v8.4h-8.0z"/>
<path fill="#ff0000" d="M625.8 1611.7h8.0v8.4h-8.0zM625.8 1619.7h8.0v8.4h-8.0zM625.8 1627.7h8.0v8.4h-8.0zM625.8 1635.7h8.0v8.4h-8.0z"/>
<path fill="#b9b9ff" d="M977.2 1627.7h8.0v8.4h-8.0zM1001.1 1635.7h8.0v8.4h-8.0zM1001.1 1659.8h8.0v8.4h-8.0zM985.1 1683.9h8.0v8.4h-8.0zM913.3 1691.9h8.0v8.4h-8.0zM905.3 1699.9h8.0v8.4h-8.0zM937.2 1708.0h8.0v8.4h-8.0zM905.3 1716.0h8.0v8.4h-8.0z"/>
<path fill="#acacff" d="M985.1 1627.7h8.0v8.4h-8.0zM961.2 1651.8h8.0v8.4h-8.0zM953.2 1659.8h8.0v8.4h-8.0zM993.1 1675.9h8.0v8.4h-8.0zM929.2 1683.9h8.0v8.4h-8.0zM913.3 1699.9h8.0v8.4h-8.0zM913.3 1708.0h16.0v8.4h-16.0z"/>
<path fill="#b2b2ff" d="M993.1 1627.7h8.0v8.4h-8.0zM1001.1 1643.8h8.0v8.4h-8.0zM1001.1 1651.8h8.0v8.4h-8.0zM945.2 1667.8h8.0v8.4h-8.0zM937.2 1675.9h8.0v8.4h-8.0zM969.2 1691.9h8.0v8.4h-8.0zM953.2 1699.9h8.0v8.4h-8.0zM905.3 1708.0h8.0v8.4h-8.0zM929.2 1708.0h8.0v8.4h-8.0z"/>
<path fill="#bfbfff" d="M969.2 1635.7h8.0v8.4h-8.0zM1001.1 1667.8h8.0v8.4h-8.0zM921.3 1683.9h8.0v8.4h-8.0zM961.2 1699.9h8.0v8.4h-8.0zM897.3 1708.0h8.0v8.4h-8.0zM897.3 1716.0h8.0v8.4h-8.0zM913.3 1716.0h8.0v8.4h-8.0z"/>
<path fill="#9999ff" d="M977.2 1635.7h8.0v8.4h-8.0zM993.1 1635.7h8.0v8.4h-8.0zM945.2 1675.9h8.0v8.4h-8.0zM937.2 1683.9h8.0v8.4h-8.0zM977.2 1683.9h8.0v8.4h-8.0zM929.2 1691.9h8.0v8.4h-8.0zM961.2 1691.9h8.0v8.4h-8.0z"/>
<path fill="#8c8cff" d="M985.1 1635.7h8.0v8.4h-8.0zM993.1 1643.8h8.0v8.4h-8.0zM953.2 1667.8h8.0v8.4h-8.0zM993.1 1667.8h8.0v8.4h-8.0zM937.2 1691.9h24.0v8.4h-24.0z"/>
<path fill="#c6c6ff" d="M961.2 1643.8h8.0v8.4h-8.0zM929.2 1675.9h8.0v8.4h-8.0zM977.2 1691.9h8.0v8.4h-8.0zM945.2 1708.0h8.0v8.4h-8.0zM889.3 1716.0h8.0v8.4h-8.0zM921.3 1716.0h8.0v8.4h-8.0zM889.3 1724.0h8.0v8.4h-8.0z"/>
<path fill="#9f9fff" d="M969.2 1643.8h8.0v8.4h-8.0zM921.3 1699.9h24.0v8.4h-24.0z"/>
<path fill="#8080ff" d="M977.2 1643.8h8.0v8.4h-8.0zM969.2 1651.8h8.0v8.4h-8.0z"/>
<path fill="#7979ff" d="M985.1 1643.8h8.0v8.4h-8.0zM953.2 1675.9h8.0v8.4h-8.0zM953.2 1683.9h16.0v8.4h-16.0z"/>
<path fill="#6060ff" d="M977.2 1651.8h8.0v8.4h-8.0zM969.2 1659.8h8.0v8.4h-8.0zM969.2 1675.9h8.0v8.4h-8.0z"/>
<path fill="#6666ff" d="M985.1 1651.8h8.0v8.4h-8.0zM961.2 1675.9h8.0v8.4h-8.0z"/>
<path fill="#8686ff" d="M993.1 1651.8h8.0v8.4h-8.0zM961.2 1659.8h8.0v8.4h-8.0zM993.1 1659.8h8.0v8.4h-8.0zM985.1 1675.9h8.0v8.4h-8.0zM945.2 1683.9h8.0v8.4h-8.0zM969.2 1683.9h8.0v8.4h-8.0z"/>
<path fill="#4040ff" d="M977.2 1659.8h8.0v8.4h-8.0z"/>
<path fill="#5353ff" d="M985.1 1659.8h8.0v8.4h-8.0zM969.2 1667.8h8.0v8.4h-8.0z"/>
<path fill="#6c6cff" d="M961.2 1667.8h8.0v8.4h-8.0zM977.2 1675.9h8.0v8.4h-8.0z"/>
<path fill="#4646ff" d="M977.2 1667.8h8.0v8.4h-8.0z"/>
<path fill="#5959ff" d="M985.1 1667.8h8.0v8.4h-8.0z"/>
<path fill="#a6a6ff" d="M921.3 1691.9h8.0v8.4h-8.0zM945.2 1699.9h8.0v8.4h-8.0z"/>
</g>
<path d="M630.4,1492.3 A42,42 0 0,1 692.7,1455.6 L972.2,1609.7 A43,43 0 0,1 972.0,1685.1 L698.4,1834.1 A46,46 0 0,1 630.4,1793.7 Z" fill="none" stroke="#6a6a6a" stroke-width="1.4" stroke-dasharray="3.2,2.4"/>
<rect x="546" y="1403" width="511" height="473.5" fill="none" stroke="#777" stroke-width="2.6"/>
<rect x="1090" y="1402.5" width="510.5" height="472.5" fill="#fff"/>
<g clip-path="url(#hc2)" shape-rendering="crispEdges">
<rect x="1090" y="1402.5" width="510.5" height="472.5" fill="#fdf4f5"/>
<path fill="#fff2f2" d="M1169.8 1410.5h39.9v8.4h-39.9zM1153.8 1418.5h16.0v8.4h-16.0zM1217.6 1418.5h16.0v8.4h-16.0zM1145.8 1426.5h8.0v8.4h-8.0zM1241.6 1426.5h8.0v8.4h-8.0zM1137.9 1434.5h8.0v8.4h-8.0zM1249.5 1434.5h16.0v8.4h-16.0zM1129.9 1442.5h8.0v8.4h-8.0zM1265.5 1442.5h8.0v8.4h-8.0zM1129.9 1450.6h8.0v8.4h-8.0zM1265.5 1450.6h8.0v8.4h-8.0zM1265.5 1458.6h8.0v8.4h-8.0zM1121.9 1466.6h8.0v8.4h-8.0zM1265.5 1466.6h8.0v8.4h-8.0zM1121.9 1474.6h8.0v8.4h-8.0zM1249.5 1474.6h16.0v8.4h-16.0zM1121.9 1482.6h8.0v8.4h-8.0zM1225.6 1482.6h23.9v8.4h-23.9zM1121.9 1490.6h8.0v8.4h-8.0zM1217.6 1490.6h16.0v8.4h-16.0zM1121.9 1498.6h8.0v8.4h-8.0zM1217.6 1498.6h8.0v8.4h-8.0zM1121.9 1506.6h8.0v8.4h-8.0zM1217.6 1506.6h8.0v8.4h-8.0zM1121.9 1514.6h8.0v8.4h-8.0zM1217.6 1514.6h8.0v8.4h-8.0zM1121.9 1522.6h8.0v8.4h-8.0zM1217.6 1522.6h8.0v8.4h-8.0zM1121.9 1530.6h8.0v8.4h-8.0zM1217.6 1530.6h8.0v8.4h-8.0zM1121.9 1538.6h8.0v8.4h-8.0zM1217.6 1538.6h8.0v8.4h-8.0zM1121.9 1546.7h8.0v8.4h-8.0zM1217.6 1546.7h8.0v8.4h-8.0zM1121.9 1554.7h8.0v8.4h-8.0zM1217.6 1554.7h8.0v8.4h-8.0zM1121.9 1562.7h8.0v8.4h-8.0zM1217.6 1562.7h8.0v8.4h-8.0zM1217.6 1570.7h8.0v8.4h-8.0zM1209.6 1578.7h8.0v8.4h-8.0zM1129.9 1586.7h8.0v8.4h-8.0zM1209.6 1586.7h8.0v8.4h-8.0zM1129.9 1594.7h8.0v8.4h-8.0zM1209.6 1594.7h8.0v8.4h-8.0zM1329.3 1594.7h71.8v8.4h-71.8zM1129.9 1602.7h8.0v8.4h-8.0zM1209.6 1602.7h8.0v8.4h-8.0zM1313.3 1602.7h103.7v8.4h-103.7zM1129.9 1610.7h8.0v8.4h-8.0zM1209.6 1610.7h8.0v8.4h-8.0zM1297.4 1610.7h135.6v8.4h-135.6zM1129.9 1618.7h8.0v8.4h-8.0zM1209.6 1618.7h8.0v8.4h-8.0zM1297.4 1618.7h135.6v8.4h-135.6zM1129.9 1626.7h8.0v8.4h-8.0zM1209.6 1626.7h8.0v8.4h-8.0zM1289.4 1626.7h151.6v8.4h-151.6zM1129.9 1634.7h8.0v8.4h-8.0zM1209.6 1634.7h8.0v8.4h-8.0zM1289.4 1634.7h151.6v8.4h-151.6zM1129.9 1642.8h8.0v8.4h-8.0zM1209.6 1642.8h8.0v8.4h-8.0zM1289.4 1642.8h151.6v8.4h-151.6zM1129.9 1650.8h8.0v8.4h-8.0zM1209.6 1650.8h8.0v8.4h-8.0zM1289.4 1650.8h151.6v8.4h-151.6zM1209.6 1658.8h8.0v8.4h-8.0zM1289.4 1658.8h143.6v8.4h-143.6zM1289.4 1666.8h135.6v8.4h-135.6zM1201.7 1674.8h8.0v8.4h-8.0zM1297.4 1674.8h119.6v8.4h-119.6zM1137.9 1682.8h8.0v8.4h-8.0zM1201.7 1682.8h8.0v8.4h-8.0zM1305.4 1682.8h103.7v8.4h-103.7zM1137.9 1690.8h8.0v8.4h-8.0zM1201.7 1690.8h8.0v8.4h-8.0zM1313.3 1690.8h71.8v8.4h-71.8zM1137.9 1698.8h8.0v8.4h-8.0zM1201.7 1698.8h8.0v8.4h-8.0zM1137.9 1706.8h8.0v8.4h-8.0zM1201.7 1706.8h8.0v8.4h-8.0zM1137.9 1714.8h8.0v8.4h-8.0zM1201.7 1714.8h8.0v8.4h-8.0zM1201.7 1722.8h8.0v8.4h-8.0zM1145.8 1730.8h8.0v8.4h-8.0zM1201.7 1730.8h8.0v8.4h-8.0zM1145.8 1738.9h8.0v8.4h-8.0zM1201.7 1738.9h8.0v8.4h-8.0zM1145.8 1746.9h8.0v8.4h-8.0zM1201.7 1746.9h8.0v8.4h-8.0zM1145.8 1754.9h8.0v8.4h-8.0zM1201.7 1754.9h8.0v8.4h-8.0zM1201.7 1762.9h8.0v8.4h-8.0zM1153.8 1770.9h8.0v8.4h-8.0zM1201.7 1770.9h8.0v8.4h-8.0zM1153.8 1778.9h8.0v8.4h-8.0zM1193.7 1778.9h8.0v8.4h-8.0zM1153.8 1786.9h8.0v8.4h-8.0zM1193.7 1786.9h8.0v8.4h-8.0zM1161.8 1794.9h31.9v8.4h-31.9zM1161.8 1802.9h31.9v8.4h-31.9z"/>
<path fill="#ffecec" d="M1169.8 1418.5h16.0v8.4h-16.0zM1193.7 1418.5h23.9v8.4h-23.9zM1153.8 1426.5h8.0v8.4h-8.0zM1233.6 1426.5h8.0v8.4h-8.0zM1145.8 1434.5h8.0v8.4h-8.0zM1241.6 1434.5h8.0v8.4h-8.0zM1137.9 1442.5h8.0v8.4h-8.0zM1249.5 1442.5h16.0v8.4h-16.0zM1257.5 1450.6h8.0v8.4h-8.0zM1129.9 1458.6h8.0v8.4h-8.0zM1257.5 1458.6h8.0v8.4h-8.0zM1129.9 1466.6h8.0v8.4h-8.0zM1257.5 1466.6h8.0v8.4h-8.0zM1129.9 1474.6h8.0v8.4h-8.0zM1225.6 1474.6h23.9v8.4h-23.9zM1129.9 1482.6h8.0v8.4h-8.0zM1217.6 1482.6h8.0v8.4h-8.0zM1129.9 1490.6h8.0v8.4h-8.0zM1209.6 1490.6h8.0v8.4h-8.0zM1129.9 1498.6h8.0v8.4h-8.0zM1209.6 1498.6h8.0v8.4h-8.0zM1129.9 1506.6h8.0v8.4h-8.0zM1129.9 1514.6h8.0v8.4h-8.0zM1209.6 1546.7h8.0v8.4h-8.0zM1129.9 1554.7h8.0v8.4h-8.0zM1209.6 1554.7h8.0v8.4h-8.0zM1129.9 1562.7h8.0v8.4h-8.0zM1209.6 1562.7h8.0v8.4h-8.0zM1129.9 1570.7h8.0v8.4h-8.0zM1209.6 1570.7h8.0v8.4h-8.0zM1129.9 1578.7h8.0v8.4h-8.0zM1201.7 1634.7h8.0v8.4h-8.0zM1137.9 1642.8h8.0v8.4h-8.0zM1201.7 1642.8h8.0v8.4h-8.0zM1137.9 1650.8h8.0v8.4h-8.0zM1201.7 1650.8h8.0v8.4h-8.0zM1137.9 1658.8h8.0v8.4h-8.0zM1201.7 1658.8h8.0v8.4h-8.0zM1137.9 1666.8h8.0v8.4h-8.0zM1201.7 1666.8h8.0v8.4h-8.0zM1137.9 1674.8h8.0v8.4h-8.0zM1145.8 1706.8h8.0v8.4h-8.0zM1145.8 1714.8h8.0v8.4h-8.0zM1145.8 1722.8h8.0v8.4h-8.0zM1153.8 1754.9h8.0v8.4h-8.0zM1153.8 1762.9h8.0v8.4h-8.0zM1193.7 1762.9h8.0v8.4h-8.0zM1193.7 1770.9h8.0v8.4h-8.0zM1161.8 1778.9h8.0v8.4h-8.0zM1185.7 1778.9h8.0v8.4h-8.0zM1161.8 1786.9h31.9v8.4h-31.9z"/>
<path fill="#ffe6e6" d="M1185.7 1418.5h8.0v8.4h-8.0zM1161.8 1426.5h8.0v8.4h-8.0zM1225.6 1426.5h8.0v8.4h-8.0zM1153.8 1434.5h8.0v8.4h-8.0zM1233.6 1434.5h8.0v8.4h-8.0zM1137.9 1450.6h8.0v8.4h-8.0zM1249.5 1450.6h8.0v8.4h-8.0zM1249.5 1458.6h8.0v8.4h-8.0zM1233.6 1466.6h23.9v8.4h-23.9zM1217.6 1474.6h8.0v8.4h-8.0zM1209.6 1482.6h8.0v8.4h-8.0zM1209.6 1506.6h8.0v8.4h-8.0zM1209.6 1514.6h8.0v8.4h-8.0zM1129.9 1522.6h8.0v8.4h-8.0zM1209.6 1522.6h8.0v8.4h-8.0zM1129.9 1530.6h8.0v8.4h-8.0zM1209.6 1530.6h8.0v8.4h-8.0zM1129.9 1538.6h8.0v8.4h-8.0zM1209.6 1538.6h8.0v8.4h-8.0zM1129.9 1546.7h8.0v8.4h-8.0zM1201.7 1586.7h8.0v8.4h-8.0zM1201.7 1594.7h8.0v8.4h-8.0zM1201.7 1602.7h8.0v8.4h-8.0zM1137.9 1610.7h8.0v8.4h-8.0zM1201.7 1610.7h8.0v8.4h-8.0zM1137.9 1618.7h8.0v8.4h-8.0zM1201.7 1618.7h8.0v8.4h-8.0zM1137.9 1626.7h8.0v8.4h-8.0zM1201.7 1626.7h8.0v8.4h-8.0zM1137.9 1634.7h8.0v8.4h-8.0zM1145.8 1690.8h8.0v8.4h-8.0zM1145.8 1698.8h8.0v8.4h-8.0zM1193.7 1706.8h8.0v8.4h-8.0zM1193.7 1714.8h8.0v8.4h-8.0zM1193.7 1722.8h8.0v8.4h-8.0zM1153.8 1730.8h8.0v8.4h-8.0zM1193.7 1730.8h8.0v8.4h-8.0zM1153.8 1738.9h8.0v8.4h-8.0zM1193.7 1738.9h8.0v8.4h-8.0zM1153.8 1746.9h8.0v8.4h-8.0zM1193.7 1746.9h8.0v8.4h-8.0zM1193.7 1754.9h8.0v8.4h-8.0zM1161.8 1770.9h8.0v8.4h-8.0zM1185.7 1770.9h8.0v8.4h-8.0zM1169.8 1778.9h16.0v8.4h-16.0z"/>
<path fill="#ffdfdf" d="M1169.8 1426.5h8.0v8.4h-8.0zM1209.6 1426.5h16.0v8.4h-16.0zM1145.8 1442.5h8.0v8.4h-8.0zM1241.6 1442.5h8.0v8.4h-8.0zM1241.6 1450.6h8.0v8.4h-8.0zM1137.9 1458.6h8.0v8.4h-8.0zM1241.6 1458.6h8.0v8.4h-8.0zM1217.6 1466.6h16.0v8.4h-16.0zM1209.6 1474.6h8.0v8.4h-8.0zM1137.9 1490.6h8.0v8.4h-8.0zM1137.9 1498.6h8.0v8.4h-8.0zM1137.9 1506.6h8.0v8.4h-8.0zM1201.7 1570.7h8.0v8.4h-8.0zM1137.9 1578.7h8.0v8.4h-8.0zM1201.7 1578.7h8.0v8.4h-8.0zM1137.9 1586.7h8.0v8.4h-8.0zM1137.9 1594.7h8.0v8.4h-8.0zM1137.9 1602.7h8.0v8.4h-8.0zM1193.7 1658.8h8.0v8.4h-8.0zM1145.8 1666.8h8.0v8.4h-8.0zM1193.7 1666.8h8.0v8.4h-8.0zM1145.8 1674.8h8.0v8.4h-8.0zM1193.7 1674.8h8.0v8.4h-8.0zM1145.8 1682.8h8.0v8.4h-8.0zM1193.7 1682.8h8.0v8.4h-8.0zM1193.7 1690.8h8.0v8.4h-8.0zM1193.7 1698.8h8.0v8.4h-8.0zM1153.8 1714.8h8.0v8.4h-8.0zM1153.8 1722.8h8.0v8.4h-8.0zM1161.8 1754.9h8.0v8.4h-8.0zM1161.8 1762.9h8.0v8.4h-8.0zM1185.7 1762.9h8.0v8.4h-8.0zM1169.8 1770.9h16.0v8.4h-16.0z"/>
<path fill="#ffd2d2" d="M1177.7 1426.5h16.0v8.4h-16.0zM1161.8 1434.5h8.0v8.4h-8.0zM1217.6 1434.5h8.0v8.4h-8.0zM1225.6 1442.5h8.0v8.4h-8.0zM1233.6 1450.6h8.0v8.4h-8.0zM1225.6 1458.6h8.0v8.4h-8.0zM1209.6 1466.6h8.0v8.4h-8.0zM1201.7 1474.6h8.0v8.4h-8.0zM1201.7 1498.6h8.0v8.4h-8.0zM1201.7 1506.6h8.0v8.4h-8.0zM1201.7 1514.6h8.0v8.4h-8.0zM1137.9 1522.6h8.0v8.4h-8.0zM1201.7 1522.6h8.0v8.4h-8.0zM1201.7 1530.6h8.0v8.4h-8.0zM1201.7 1538.6h8.0v8.4h-8.0zM1201.7 1546.7h8.0v8.4h-8.0zM1137.9 1554.7h8.0v8.4h-8.0zM1193.7 1618.7h8.0v8.4h-8.0zM1193.7 1626.7h8.0v8.4h-8.0zM1145.8 1634.7h8.0v8.4h-8.0zM1145.8 1642.8h8.0v8.4h-8.0zM1153.8 1690.8h8.0v8.4h-8.0zM1153.8 1698.8h8.0v8.4h-8.0zM1185.7 1706.8h8.0v8.4h-8.0zM1185.7 1714.8h8.0v8.4h-8.0zM1161.8 1722.8h8.0v8.4h-8.0zM1185.7 1722.8h8.0v8.4h-8.0zM1161.8 1730.8h8.0v8.4h-8.0zM1169.8 1746.9h16.0v8.4h-16.0zM1169.8 1754.9h16.0v8.4h-16.0z"/>
<path fill="#ffd9d9" d="M1193.7 1426.5h16.0v8.4h-16.0zM1225.6 1434.5h8.0v8.4h-8.0zM1233.6 1442.5h8.0v8.4h-8.0zM1233.6 1458.6h8.0v8.4h-8.0zM1137.9 1466.6h8.0v8.4h-8.0zM1137.9 1474.6h8.0v8.4h-8.0zM1137.9 1482.6h8.0v8.4h-8.0zM1201.7 1482.6h8.0v8.4h-8.0zM1201.7 1490.6h8.0v8.4h-8.0zM1137.9 1514.6h8.0v8.4h-8.0zM1201.7 1554.7h8.0v8.4h-8.0zM1137.9 1562.7h8.0v8.4h-8.0zM1201.7 1562.7h8.0v8.4h-8.0zM1137.9 1570.7h8.0v8.4h-8.0zM1193.7 1634.7h8.0v8.4h-8.0zM1193.7 1642.8h8.0v8.4h-8.0zM1145.8 1650.8h8.0v8.4h-8.0zM1193.7 1650.8h8.0v8.4h-8.0zM1145.8 1658.8h8.0v8.4h-8.0zM1153.8 1706.8h8.0v8.4h-8.0zM1185.7 1730.8h8.0v8.4h-8.0zM1161.8 1738.9h8.0v8.4h-8.0zM1185.7 1738.9h8.0v8.4h-8.0zM1161.8 1746.9h8.0v8.4h-8.0zM1185.7 1746.9h8.0v8.4h-8.0zM1185.7 1754.9h8.0v8.4h-8.0zM1169.8 1762.9h16.0v8.4h-16.0z"/>
<path fill="#ffc6c6" d="M1169.8 1434.5h8.0v8.4h-8.0zM1201.7 1434.5h8.0v8.4h-8.0zM1217.6 1442.5h8.0v8.4h-8.0zM1217.6 1450.6h8.0v8.4h-8.0zM1193.7 1578.7h8.0v8.4h-8.0zM1193.7 1586.7h8.0v8.4h-8.0zM1145.8 1594.7h8.0v8.4h-8.0zM1145.8 1602.7h8.0v8.4h-8.0zM1185.7 1658.8h8.0v8.4h-8.0zM1153.8 1666.8h8.0v8.4h-8.0zM1185.7 1666.8h8.0v8.4h-8.0zM1153.8 1674.8h8.0v8.4h-8.0zM1161.8 1706.8h8.0v8.4h-8.0zM1177.7 1714.8h8.0v8.4h-8.0zM1169.8 1722.8h16.0v8.4h-16.0z"/>
<path fill="#ffb2b2" d="M1177.7 1434.5h16.0v8.4h-16.0zM1161.8 1442.5h8.0v8.4h-8.0zM1145.8 1474.6h8.0v8.4h-8.0zM1193.7 1474.6h8.0v8.4h-8.0zM1193.7 1498.6h8.0v8.4h-8.0zM1145.8 1514.6h8.0v8.4h-8.0zM1193.7 1554.7h8.0v8.4h-8.0zM1145.8 1562.7h8.0v8.4h-8.0zM1185.7 1626.7h8.0v8.4h-8.0zM1153.8 1634.7h8.0v8.4h-8.0zM1177.7 1666.8h8.0v8.4h-8.0zM1161.8 1674.8h8.0v8.4h-8.0zM1177.7 1674.8h8.0v8.4h-8.0zM1169.8 1682.8h8.0v8.4h-8.0zM1169.8 1690.8h8.0v8.4h-8.0z"/>
<path fill="#ffb9b9" d="M1193.7 1434.5h8.0v8.4h-8.0zM1209.6 1442.5h8.0v8.4h-8.0zM1209.6 1450.6h8.0v8.4h-8.0zM1145.8 1466.6h8.0v8.4h-8.0zM1145.8 1482.6h8.0v8.4h-8.0zM1193.7 1482.6h8.0v8.4h-8.0zM1193.7 1490.6h8.0v8.4h-8.0zM1193.7 1562.7h8.0v8.4h-8.0zM1145.8 1570.7h8.0v8.4h-8.0zM1185.7 1634.7h8.0v8.4h-8.0zM1153.8 1642.8h8.0v8.4h-8.0zM1185.7 1642.8h8.0v8.4h-8.0zM1153.8 1650.8h8.0v8.4h-8.0zM1161.8 1682.8h8.0v8.4h-8.0zM1177.7 1682.8h8.0v8.4h-8.0zM1177.7 1690.8h8.0v8.4h-8.0zM1169.8 1698.8h8.0v8.4h-8.0z"/>
<path fill="#ffcccc" d="M1209.6 1434.5h8.0v8.4h-8.0zM1153.8 1442.5h8.0v8.4h-8.0zM1145.8 1450.6h8.0v8.4h-8.0zM1225.6 1450.6h8.0v8.4h-8.0zM1217.6 1458.6h8.0v8.4h-8.0zM1137.9 1530.6h8.0v8.4h-8.0zM1137.9 1538.6h8.0v8.4h-8.0zM1137.9 1546.7h8.0v8.4h-8.0zM1193.7 1594.7h8.0v8.4h-8.0zM1193.7 1602.7h8.0v8.4h-8.0zM1145.8 1610.7h8.0v8.4h-8.0zM1193.7 1610.7h8.0v8.4h-8.0zM1145.8 1618.7h8.0v8.4h-8.0zM1145.8 1626.7h8.0v8.4h-8.0zM1185.7 1674.8h8.0v8.4h-8.0zM1153.8 1682.8h8.0v8.4h-8.0zM1185.7 1682.8h8.0v8.4h-8.0zM1185.7 1690.8h8.0v8.4h-8.0zM1185.7 1698.8h8.0v8.4h-8.0zM1161.8 1714.8h8.0v8.4h-8.0zM1169.8 1730.8h16.0v8.4h-16.0zM1169.8 1738.9h16.0v8.4h-16.0z"/>
<path fill="#ff9f9f" d="M1169.8 1442.5h8.0v8.4h-8.0zM1193.7 1442.5h8.0v8.4h-8.0zM1193.7 1538.6h8.0v8.4h-8.0zM1145.8 1546.7h8.0v8.4h-8.0zM1185.7 1586.7h8.0v8.4h-8.0zM1185.7 1594.7h8.0v8.4h-8.0zM1153.8 1602.7h8.0v8.4h-8.0zM1177.7 1642.8h8.0v8.4h-8.0zM1161.8 1650.8h8.0v8.4h-8.0zM1169.8 1658.8h8.0v8.4h-8.0z"/>
<path fill="#ff8c8c" d="M1177.7 1442.5h16.0v8.4h-16.0zM1161.8 1450.6h8.0v8.4h-8.0zM1193.7 1450.6h8.0v8.4h-8.0zM1185.7 1482.6h8.0v8.4h-8.0zM1185.7 1490.6h8.0v8.4h-8.0zM1185.7 1570.7h8.0v8.4h-8.0zM1177.7 1618.7h8.0v8.4h-8.0zM1161.8 1626.7h8.0v8.4h-8.0z"/>
<path fill="#ffacac" d="M1201.7 1442.5h8.0v8.4h-8.0zM1153.8 1450.6h8.0v8.4h-8.0zM1201.7 1458.6h8.0v8.4h-8.0zM1193.7 1506.6h8.0v8.4h-8.0zM1193.7 1546.7h8.0v8.4h-8.0zM1185.7 1610.7h8.0v8.4h-8.0zM1185.7 1618.7h8.0v8.4h-8.0zM1153.8 1626.7h8.0v8.4h-8.0zM1177.7 1658.8h8.0v8.4h-8.0zM1161.8 1666.8h8.0v8.4h-8.0zM1169.8 1674.8h8.0v8.4h-8.0z"/>
<path fill="#ff7373" d="M1169.8 1450.6h8.0v8.4h-8.0zM1185.7 1450.6h8.0v8.4h-8.0zM1185.7 1506.6h8.0v8.4h-8.0zM1177.7 1586.7h8.0v8.4h-8.0zM1161.8 1594.7h8.0v8.4h-8.0zM1169.8 1610.7h8.0v8.4h-8.0z"/>
<path fill="#ff6c6c" d="M1177.7 1450.6h8.0v8.4h-8.0zM1185.7 1458.6h8.0v8.4h-8.0zM1185.7 1514.6h8.0v8.4h-8.0zM1153.8 1522.6h8.0v8.4h-8.0zM1185.7 1546.7h8.0v8.4h-8.0zM1153.8 1554.7h8.0v8.4h-8.0zM1177.7 1578.7h8.0v8.4h-8.0zM1161.8 1586.7h8.0v8.4h-8.0zM1169.8 1602.7h8.0v8.4h-8.0z"/>
<path fill="#ffa6a6" d="M1201.7 1450.6h8.0v8.4h-8.0zM1193.7 1466.6h8.0v8.4h-8.0zM1193.7 1514.6h8.0v8.4h-8.0zM1145.8 1522.6h8.0v8.4h-8.0zM1193.7 1522.6h8.0v8.4h-8.0zM1193.7 1530.6h8.0v8.4h-8.0zM1145.8 1554.7h8.0v8.4h-8.0zM1185.7 1602.7h8.0v8.4h-8.0zM1153.8 1610.7h8.0v8.4h-8.0zM1153.8 1618.7h8.0v8.4h-8.0zM1177.7 1650.8h8.0v8.4h-8.0zM1161.8 1658.8h8.0v8.4h-8.0zM1169.8 1666.8h8.0v8.4h-8.0z"/>
<path fill="#ffbfbf" d="M1145.8 1458.6h8.0v8.4h-8.0zM1209.6 1458.6h8.0v8.4h-8.0zM1201.7 1466.6h8.0v8.4h-8.0zM1145.8 1490.6h8.0v8.4h-8.0zM1145.8 1498.6h8.0v8.4h-8.0zM1145.8 1506.6h8.0v8.4h-8.0zM1193.7 1570.7h8.0v8.4h-8.0zM1145.8 1578.7h8.0v8.4h-8.0zM1145.8 1586.7h8.0v8.4h-8.0zM1185.7 1650.8h8.0v8.4h-8.0zM1153.8 1658.8h8.0v8.4h-8.0zM1161.8 1690.8h8.0v8.4h-8.0zM1161.8 1698.8h8.0v8.4h-8.0zM1177.7 1698.8h8.0v8.4h-8.0zM1169.8 1706.8h16.0v8.4h-16.0zM1169.8 1714.8h8.0v8.4h-8.0z"/>
<path fill="#ff9393" d="M1153.8 1458.6h8.0v8.4h-8.0zM1193.7 1458.6h8.0v8.4h-8.0zM1153.8 1490.6h8.0v8.4h-8.0zM1153.8 1498.6h8.0v8.4h-8.0zM1153.8 1506.6h8.0v8.4h-8.0zM1153.8 1578.7h8.0v8.4h-8.0zM1153.8 1586.7h8.0v8.4h-8.0zM1177.7 1626.7h8.0v8.4h-8.0zM1161.8 1634.7h8.0v8.4h-8.0zM1169.8 1642.8h8.0v8.4h-8.0z"/>
<path fill="#ff6666" d="M1161.8 1458.6h8.0v8.4h-8.0zM1161.8 1490.6h8.0v8.4h-8.0zM1161.8 1498.6h8.0v8.4h-8.0zM1185.7 1522.6h8.0v8.4h-8.0zM1161.8 1578.7h8.0v8.4h-8.0zM1169.8 1594.7h8.0v8.4h-8.0z"/>
<path fill="#ff4c4c" d="M1169.8 1458.6h8.0v8.4h-8.0zM1169.8 1482.6h8.0v8.4h-8.0zM1169.8 1490.6h8.0v8.4h-8.0zM1169.8 1498.6h8.0v8.4h-8.0zM1177.7 1506.6h8.0v8.4h-8.0zM1153.8 1538.6h8.0v8.4h-8.0zM1177.7 1562.7h8.0v8.4h-8.0z"/>
<path fill="#ff5353" d="M1177.7 1458.6h8.0v8.4h-8.0zM1161.8 1466.6h8.0v8.4h-8.0zM1177.7 1466.6h8.0v8.4h-8.0zM1161.8 1474.6h8.0v8.4h-8.0zM1153.8 1530.6h8.0v8.4h-8.0zM1169.8 1578.7h8.0v8.4h-8.0z"/>
<path fill="#ff8686" d="M1153.8 1466.6h8.0v8.4h-8.0zM1185.7 1474.6h8.0v8.4h-8.0zM1153.8 1482.6h8.0v8.4h-8.0zM1185.7 1562.7h8.0v8.4h-8.0zM1153.8 1570.7h8.0v8.4h-8.0zM1177.7 1610.7h8.0v8.4h-8.0zM1161.8 1618.7h8.0v8.4h-8.0zM1169.8 1634.7h8.0v8.4h-8.0z"/>
<path fill="#ff4646" d="M1169.8 1466.6h8.0v8.4h-8.0zM1161.8 1514.6h8.0v8.4h-8.0zM1161.8 1562.7h8.0v8.4h-8.0zM1169.8 1570.7h8.0v8.4h-8.0z"/>
<path fill="#ff7979" d="M1185.7 1466.6h8.0v8.4h-8.0zM1185.7 1554.7h8.0v8.4h-8.0zM1153.8 1562.7h8.0v8.4h-8.0zM1177.7 1594.7h8.0v8.4h-8.0zM1161.8 1602.7h8.0v8.4h-8.0zM1169.8 1618.7h8.0v8.4h-8.0z"/>
<path fill="#ff8080" d="M1153.8 1474.6h8.0v8.4h-8.0zM1185.7 1498.6h8.0v8.4h-8.0zM1153.8 1514.6h8.0v8.4h-8.0zM1177.7 1602.7h8.0v8.4h-8.0zM1161.8 1610.7h8.0v8.4h-8.0zM1169.8 1626.7h8.0v8.4h-8.0z"/>
<path fill="#ff4040" d="M1169.8 1474.6h8.0v8.4h-8.0zM1169.8 1506.6h8.0v8.4h-8.0z"/>
<path fill="#ff5959" d="M1177.7 1474.6h8.0v8.4h-8.0zM1161.8 1482.6h8.0v8.4h-8.0zM1177.7 1498.6h8.0v8.4h-8.0zM1161.8 1570.7h8.0v8.4h-8.0z"/>
<path fill="#ff6060" d="M1177.7 1482.6h8.0v8.4h-8.0zM1177.7 1490.6h8.0v8.4h-8.0zM1161.8 1506.6h8.0v8.4h-8.0zM1185.7 1530.6h8.0v8.4h-8.0zM1185.7 1538.6h8.0v8.4h-8.0zM1153.8 1546.7h8.0v8.4h-8.0zM1177.7 1570.7h8.0v8.4h-8.0zM1169.8 1586.7h8.0v8.4h-8.0z"/>
<path fill="#ff2d2d" d="M1169.8 1514.6h8.0v8.4h-8.0zM1161.8 1522.6h8.0v8.4h-8.0zM1177.7 1522.6h8.0v8.4h-8.0z"/>
<path fill="#ff3939" d="M1177.7 1514.6h8.0v8.4h-8.0zM1177.7 1554.7h8.0v8.4h-8.0z"/>
<path fill="#ff1313" d="M1169.8 1522.6h8.0v8.4h-8.0zM1161.8 1530.6h8.0v8.4h-8.0zM1177.7 1538.6h8.0v8.4h-8.0z"/>
<path fill="#ff9999" d="M1145.8 1530.6h8.0v8.4h-8.0zM1145.8 1538.6h8.0v8.4h-8.0zM1185.7 1578.7h8.0v8.4h-8.0zM1153.8 1594.7h8.0v8.4h-8.0zM1177.7 1634.7h8.0v8.4h-8.0zM1161.8 1642.8h8.0v8.4h-8.0zM1169.8 1650.8h8.0v8.4h-8.0z"/>
<path fill="#ff0000" d="M1169.8 1530.6h8.0v8.4h-8.0zM1169.8 1538.6h8.0v8.4h-8.0z"/>
<path fill="#ff1919" d="M1177.7 1530.6h8.0v8.4h-8.0z"/>
<path fill="#ff0d0d" d="M1161.8 1538.6h8.0v8.4h-8.0z"/>
<path fill="#ff2020" d="M1161.8 1546.7h8.0v8.4h-8.0zM1169.8 1554.7h8.0v8.4h-8.0z"/>
<path fill="#ff0606" d="M1169.8 1546.7h8.0v8.4h-8.0z"/>
<path fill="#ff2626" d="M1177.7 1546.7h8.0v8.4h-8.0z"/>
<path fill="#ff3333" d="M1161.8 1554.7h8.0v8.4h-8.0zM1169.8 1562.7h8.0v8.4h-8.0z"/>
<path fill="#f2f2ff" d="M1528.7 1618.7h16.0v8.4h-16.0zM1512.8 1626.7h8.0v8.4h-8.0zM1544.7 1626.7h8.0v8.4h-8.0zM1504.8 1634.7h8.0v8.4h-8.0zM1552.6 1634.7h8.0v8.4h-8.0zM1504.8 1642.8h8.0v8.4h-8.0zM1496.8 1650.8h8.0v8.4h-8.0zM1488.8 1658.8h8.0v8.4h-8.0zM1560.6 1658.8h8.0v8.4h-8.0zM1560.6 1666.8h8.0v8.4h-8.0zM1464.9 1674.8h8.0v8.4h-8.0zM1456.9 1682.8h8.0v8.4h-8.0zM1552.6 1682.8h8.0v8.4h-8.0zM1544.7 1690.8h8.0v8.4h-8.0zM1433.0 1698.8h8.0v8.4h-8.0zM1536.7 1698.8h8.0v8.4h-8.0zM1528.7 1706.8h8.0v8.4h-8.0zM1409.1 1714.8h8.0v8.4h-8.0zM1512.8 1714.8h8.0v8.4h-8.0zM1393.1 1722.8h8.0v8.4h-8.0zM1496.8 1722.8h8.0v8.4h-8.0zM1377.2 1730.8h8.0v8.4h-8.0zM1488.8 1730.8h8.0v8.4h-8.0zM1472.9 1738.9h8.0v8.4h-8.0zM1353.2 1746.9h8.0v8.4h-8.0zM1464.9 1746.9h8.0v8.4h-8.0zM1337.3 1754.9h8.0v8.4h-8.0zM1448.9 1754.9h8.0v8.4h-8.0zM1329.3 1762.9h8.0v8.4h-8.0zM1441.0 1762.9h8.0v8.4h-8.0zM1313.3 1770.9h8.0v8.4h-8.0zM1425.0 1770.9h8.0v8.4h-8.0zM1305.4 1778.9h8.0v8.4h-8.0zM1409.1 1778.9h8.0v8.4h-8.0zM1289.4 1786.9h8.0v8.4h-8.0zM1393.1 1786.9h8.0v8.4h-8.0zM1281.4 1794.9h8.0v8.4h-8.0zM1377.2 1794.9h8.0v8.4h-8.0zM1273.5 1802.9h8.0v8.4h-8.0zM1361.2 1802.9h8.0v8.4h-8.0zM1273.5 1810.9h8.0v8.4h-8.0zM1345.2 1810.9h8.0v8.4h-8.0zM1273.5 1818.9h8.0v8.4h-8.0zM1321.3 1818.9h16.0v8.4h-16.0zM1281.4 1826.9h8.0v8.4h-8.0zM1305.4 1826.9h16.0v8.4h-16.0z"/>
<path fill="#ececff" d="M1520.7 1626.7h8.0v8.4h-8.0zM1552.6 1642.8h8.0v8.4h-8.0zM1504.8 1650.8h8.0v8.4h-8.0zM1552.6 1650.8h8.0v8.4h-8.0zM1480.9 1666.8h8.0v8.4h-8.0zM1472.9 1674.8h8.0v8.4h-8.0zM1552.6 1674.8h8.0v8.4h-8.0zM1448.9 1690.8h8.0v8.4h-8.0zM1528.7 1698.8h8.0v8.4h-8.0zM1425.0 1706.8h8.0v8.4h-8.0zM1520.7 1706.8h8.0v8.4h-8.0zM1504.8 1714.8h8.0v8.4h-8.0zM1401.1 1722.8h8.0v8.4h-8.0zM1385.1 1730.8h8.0v8.4h-8.0zM1480.9 1730.8h8.0v8.4h-8.0zM1369.2 1738.9h8.0v8.4h-8.0zM1464.9 1738.9h8.0v8.4h-8.0zM1456.9 1746.9h8.0v8.4h-8.0zM1345.2 1754.9h8.0v8.4h-8.0zM1433.0 1762.9h8.0v8.4h-8.0zM1321.3 1770.9h8.0v8.4h-8.0zM1417.0 1770.9h8.0v8.4h-8.0zM1313.3 1778.9h8.0v8.4h-8.0zM1401.1 1778.9h8.0v8.4h-8.0zM1297.4 1786.9h8.0v8.4h-8.0zM1385.1 1786.9h8.0v8.4h-8.0zM1289.4 1794.9h8.0v8.4h-8.0zM1369.2 1794.9h8.0v8.4h-8.0zM1281.4 1802.9h8.0v8.4h-8.0zM1353.2 1802.9h8.0v8.4h-8.0zM1337.3 1810.9h8.0v8.4h-8.0zM1281.4 1818.9h8.0v8.4h-8.0zM1313.3 1818.9h8.0v8.4h-8.0zM1289.4 1826.9h16.0v8.4h-16.0z"/>
<path fill="#e6e6ff" d="M1528.7 1626.7h16.0v8.4h-16.0zM1512.8 1634.7h8.0v8.4h-8.0zM1544.7 1634.7h8.0v8.4h-8.0zM1496.8 1658.8h8.0v8.4h-8.0zM1552.6 1658.8h8.0v8.4h-8.0zM1552.6 1666.8h8.0v8.4h-8.0zM1464.9 1682.8h8.0v8.4h-8.0zM1536.7 1690.8h8.0v8.4h-8.0zM1441.0 1698.8h8.0v8.4h-8.0zM1512.8 1706.8h8.0v8.4h-8.0zM1417.0 1714.8h8.0v8.4h-8.0zM1488.8 1722.8h8.0v8.4h-8.0zM1472.9 1730.8h8.0v8.4h-8.0zM1377.2 1738.9h8.0v8.4h-8.0zM1361.2 1746.9h8.0v8.4h-8.0zM1441.0 1754.9h8.0v8.4h-8.0zM1337.3 1762.9h8.0v8.4h-8.0zM1329.3 1770.9h8.0v8.4h-8.0zM1393.1 1778.9h8.0v8.4h-8.0zM1305.4 1786.9h8.0v8.4h-8.0zM1377.2 1786.9h8.0v8.4h-8.0zM1297.4 1794.9h8.0v8.4h-8.0zM1361.2 1794.9h8.0v8.4h-8.0zM1289.4 1802.9h8.0v8.4h-8.0zM1345.2 1802.9h8.0v8.4h-8.0zM1281.4 1810.9h8.0v8.4h-8.0zM1329.3 1810.9h8.0v8.4h-8.0zM1289.4 1818.9h23.9v8.4h-23.9z"/>
<path fill="#d9d9ff" d="M1520.7 1634.7h8.0v8.4h-8.0zM1544.7 1642.8h8.0v8.4h-8.0zM1480.9 1674.8h8.0v8.4h-8.0zM1528.7 1690.8h8.0v8.4h-8.0zM1409.1 1722.8h8.0v8.4h-8.0zM1480.9 1722.8h8.0v8.4h-8.0zM1456.9 1738.9h8.0v8.4h-8.0zM1369.2 1746.9h8.0v8.4h-8.0zM1433.0 1754.9h8.0v8.4h-8.0zM1345.2 1762.9h8.0v8.4h-8.0zM1337.3 1770.9h8.0v8.4h-8.0zM1401.1 1770.9h8.0v8.4h-8.0zM1385.1 1778.9h8.0v8.4h-8.0zM1313.3 1786.9h8.0v8.4h-8.0zM1369.2 1786.9h8.0v8.4h-8.0zM1305.4 1794.9h8.0v8.4h-8.0zM1353.2 1794.9h8.0v8.4h-8.0zM1297.4 1802.9h8.0v8.4h-8.0zM1329.3 1802.9h8.0v8.4h-8.0zM1297.4 1810.9h16.0v8.4h-16.0z"/>
<path fill="#d2d2ff" d="M1528.7 1634.7h16.0v8.4h-16.0zM1512.8 1650.8h8.0v8.4h-8.0zM1544.7 1650.8h8.0v8.4h-8.0zM1504.8 1658.8h8.0v8.4h-8.0zM1544.7 1674.8h8.0v8.4h-8.0zM1472.9 1682.8h8.0v8.4h-8.0zM1448.9 1698.8h8.0v8.4h-8.0zM1504.8 1706.8h8.0v8.4h-8.0zM1425.0 1714.8h8.0v8.4h-8.0zM1488.8 1714.8h8.0v8.4h-8.0zM1401.1 1730.8h8.0v8.4h-8.0zM1464.9 1730.8h8.0v8.4h-8.0zM1385.1 1738.9h8.0v8.4h-8.0zM1441.0 1746.9h8.0v8.4h-8.0zM1361.2 1754.9h8.0v8.4h-8.0zM1417.0 1762.9h8.0v8.4h-8.0zM1329.3 1778.9h8.0v8.4h-8.0zM1321.3 1786.9h8.0v8.4h-8.0zM1313.3 1794.9h8.0v8.4h-8.0zM1345.2 1794.9h8.0v8.4h-8.0zM1305.4 1802.9h23.9v8.4h-23.9z"/>
<path fill="#dfdfff" d="M1512.8 1642.8h8.0v8.4h-8.0zM1488.8 1666.8h8.0v8.4h-8.0zM1544.7 1682.8h8.0v8.4h-8.0zM1456.9 1690.8h8.0v8.4h-8.0zM1520.7 1698.8h8.0v8.4h-8.0zM1433.0 1706.8h8.0v8.4h-8.0zM1496.8 1714.8h8.0v8.4h-8.0zM1393.1 1730.8h8.0v8.4h-8.0zM1448.9 1746.9h8.0v8.4h-8.0zM1353.2 1754.9h8.0v8.4h-8.0zM1425.0 1762.9h8.0v8.4h-8.0zM1409.1 1770.9h8.0v8.4h-8.0zM1321.3 1778.9h8.0v8.4h-8.0zM1337.3 1802.9h8.0v8.4h-8.0zM1289.4 1810.9h8.0v8.4h-8.0zM1313.3 1810.9h16.0v8.4h-16.0z"/>
<path fill="#c6c6ff" d="M1520.7 1642.8h8.0v8.4h-8.0zM1488.8 1674.8h8.0v8.4h-8.0zM1496.8 1706.8h8.0v8.4h-8.0zM1417.0 1722.8h8.0v8.4h-8.0zM1393.1 1738.9h8.0v8.4h-8.0zM1425.0 1754.9h8.0v8.4h-8.0zM1409.1 1762.9h8.0v8.4h-8.0zM1345.2 1770.9h8.0v8.4h-8.0zM1337.3 1778.9h8.0v8.4h-8.0zM1329.3 1786.9h16.0v8.4h-16.0zM1353.2 1786.9h8.0v8.4h-8.0z"/>
<path fill="#b9b9ff" d="M1528.7 1642.8h8.0v8.4h-8.0zM1520.7 1650.8h8.0v8.4h-8.0zM1536.7 1650.8h8.0v8.4h-8.0zM1504.8 1666.8h8.0v8.4h-8.0zM1528.7 1682.8h8.0v8.4h-8.0zM1504.8 1698.8h8.0v8.4h-8.0zM1448.9 1706.8h8.0v8.4h-8.0zM1464.9 1722.8h8.0v8.4h-8.0zM1441.0 1738.9h8.0v8.4h-8.0zM1385.1 1746.9h8.0v8.4h-8.0zM1417.0 1754.9h8.0v8.4h-8.0zM1401.1 1762.9h8.0v8.4h-8.0zM1353.2 1770.9h8.0v8.4h-8.0zM1353.2 1778.9h16.0v8.4h-16.0z"/>
<path fill="#bfbfff" d="M1536.7 1642.8h8.0v8.4h-8.0zM1512.8 1658.8h8.0v8.4h-8.0zM1480.9 1682.8h8.0v8.4h-8.0zM1520.7 1690.8h8.0v8.4h-8.0zM1456.9 1698.8h8.0v8.4h-8.0zM1433.0 1714.8h8.0v8.4h-8.0zM1480.9 1714.8h8.0v8.4h-8.0zM1409.1 1730.8h8.0v8.4h-8.0zM1456.9 1730.8h8.0v8.4h-8.0zM1433.0 1746.9h8.0v8.4h-8.0zM1369.2 1754.9h8.0v8.4h-8.0zM1361.2 1762.9h8.0v8.4h-8.0zM1385.1 1770.9h8.0v8.4h-8.0zM1345.2 1778.9h8.0v8.4h-8.0zM1369.2 1778.9h8.0v8.4h-8.0zM1345.2 1786.9h8.0v8.4h-8.0z"/>
<path fill="#acacff" d="M1528.7 1650.8h8.0v8.4h-8.0zM1520.7 1658.8h8.0v8.4h-8.0zM1496.8 1674.8h8.0v8.4h-8.0zM1512.8 1690.8h8.0v8.4h-8.0zM1464.9 1698.8h8.0v8.4h-8.0zM1441.0 1714.8h8.0v8.4h-8.0zM1472.9 1714.8h8.0v8.4h-8.0zM1417.0 1730.8h8.0v8.4h-8.0zM1448.9 1730.8h8.0v8.4h-8.0zM1393.1 1746.9h8.0v8.4h-8.0zM1425.0 1746.9h8.0v8.4h-8.0zM1409.1 1754.9h8.0v8.4h-8.0zM1377.2 1762.9h16.0v8.4h-16.0z"/>
<path fill="#9f9fff" d="M1528.7 1658.8h8.0v8.4h-8.0zM1512.8 1666.8h8.0v8.4h-8.0zM1528.7 1674.8h8.0v8.4h-8.0zM1480.9 1690.8h8.0v8.4h-8.0zM1472.9 1698.8h8.0v8.4h-8.0zM1464.9 1706.8h8.0v8.4h-8.0zM1448.9 1714.8h16.0v8.4h-16.0zM1441.0 1722.8h16.0v8.4h-16.0zM1425.0 1730.8h8.0v8.4h-8.0zM1441.0 1730.8h8.0v8.4h-8.0zM1409.1 1738.9h8.0v8.4h-8.0zM1401.1 1746.9h8.0v8.4h-8.0zM1417.0 1746.9h8.0v8.4h-8.0zM1393.1 1754.9h8.0v8.4h-8.0z"/>
<path fill="#b2b2ff" d="M1536.7 1658.8h8.0v8.4h-8.0zM1536.7 1674.8h8.0v8.4h-8.0zM1472.9 1690.8h8.0v8.4h-8.0zM1488.8 1706.8h8.0v8.4h-8.0zM1425.0 1722.8h8.0v8.4h-8.0zM1401.1 1738.9h8.0v8.4h-8.0zM1377.2 1754.9h8.0v8.4h-8.0zM1369.2 1762.9h8.0v8.4h-8.0zM1393.1 1762.9h8.0v8.4h-8.0zM1361.2 1770.9h23.9v8.4h-23.9z"/>
<path fill="#ccccff" d="M1544.7 1658.8h8.0v8.4h-8.0zM1496.8 1666.8h8.0v8.4h-8.0zM1544.7 1666.8h8.0v8.4h-8.0zM1536.7 1682.8h8.0v8.4h-8.0zM1464.9 1690.8h8.0v8.4h-8.0zM1512.8 1698.8h8.0v8.4h-8.0zM1441.0 1706.8h8.0v8.4h-8.0zM1472.9 1722.8h8.0v8.4h-8.0zM1448.9 1738.9h8.0v8.4h-8.0zM1377.2 1746.9h8.0v8.4h-8.0zM1353.2 1762.9h8.0v8.4h-8.0zM1393.1 1770.9h8.0v8.4h-8.0zM1377.2 1778.9h8.0v8.4h-8.0zM1361.2 1786.9h8.0v8.4h-8.0zM1321.3 1794.9h23.9v8.4h-23.9z"/>
<path fill="#9393ff" d="M1520.7 1666.8h8.0v8.4h-8.0zM1512.8 1674.8h16.0v8.4h-16.0zM1512.8 1682.8h8.0v8.4h-8.0zM1488.8 1690.8h16.0v8.4h-16.0z"/>
<path fill="#8c8cff" d="M1528.7 1666.8h8.0v8.4h-8.0zM1504.8 1682.8h8.0v8.4h-8.0z"/>
<path fill="#a6a6ff" d="M1536.7 1666.8h8.0v8.4h-8.0zM1488.8 1682.8h8.0v8.4h-8.0zM1520.7 1682.8h8.0v8.4h-8.0zM1496.8 1698.8h8.0v8.4h-8.0zM1456.9 1706.8h8.0v8.4h-8.0zM1480.9 1706.8h8.0v8.4h-8.0zM1464.9 1714.8h8.0v8.4h-8.0zM1433.0 1722.8h8.0v8.4h-8.0zM1456.9 1722.8h8.0v8.4h-8.0zM1433.0 1738.9h8.0v8.4h-8.0zM1385.1 1754.9h8.0v8.4h-8.0zM1401.1 1754.9h8.0v8.4h-8.0z"/>
<path fill="#9999ff" d="M1504.8 1674.8h8.0v8.4h-8.0zM1496.8 1682.8h8.0v8.4h-8.0zM1504.8 1690.8h8.0v8.4h-8.0zM1480.9 1698.8h16.0v8.4h-16.0zM1472.9 1706.8h8.0v8.4h-8.0zM1433.0 1730.8h8.0v8.4h-8.0zM1417.0 1738.9h16.0v8.4h-16.0zM1409.1 1746.9h8.0v8.4h-8.0z"/>
</g>
<path d="M1174.4,1492.3 A42,42 0 0,1 1236.7,1455.6 L1516.2,1609.7 A43,43 0 0,1 1516.0,1685.1 L1242.4,1834.1 A46,46 0 0,1 1174.4,1793.7 Z" fill="none" stroke="#6a6a6a" stroke-width="1.4" stroke-dasharray="3.2,2.4"/>
<rect x="1090" y="1402.5" width="510.5" height="472.5" fill="none" stroke="#777" stroke-width="2.6"/>
<rect x="1632" y="1402.5" width="22.5" height="472.5" fill="url(#cbar)" stroke="#777" stroke-width="2"/>
<path d="M1654.5,1435 h-5 M1654.5,1638.7 h-5 M1654.5,1842 h-5" stroke="#555" stroke-width="2"/>
<g font-family="'DejaVu Sans', sans-serif" font-size="30" fill="#222">
<text x="1673" y="1448" font-size="35">3 (pA)</text>
<text x="1673" y="1651.5" font-size="35">0</text>
<text x="1661" y="1858" font-size="35">-3</text>
</g>
<line x1="383.8" y1="1473.3" x2="482.1" y2="1415.2" stroke="#000" stroke-width="2.8" marker-end="url(#ah)"/>
<line x1="910.4" y1="1443.3" x2="1024" y2="1443.3" stroke="#000" stroke-width="2.8" marker-end="url(#ah)"/>
<line x1="1477.5" y1="1414.7" x2="1576" y2="1472.7" stroke="#000" stroke-width="2.8" marker-end="url(#ah)"/>
<g font-family="'Liberation Serif', serif" font-weight="bold" fill="#111">
<text x="408" y="1498" font-size="35.5">E<tspan font-size="25" dy="7">THz</tspan></text>
<text x="937.5" y="1498.5" font-size="35.5">E<tspan font-size="25" dy="7">THz</tspan></text>
<text x="1497" y="1498.5" font-size="35.5">E<tspan font-size="25" dy="7">THz</tspan></text>
</g>
<g font-family="'Liberation Sans', sans-serif" font-weight="bold" font-size="41.5" fill="#000">
<text x="19" y="1446">(d)</text>
<text x="557" y="1446">(e)</text>
<text x="1100" y="1446">(f)</text>
</g>
</svg>
</body></html>
